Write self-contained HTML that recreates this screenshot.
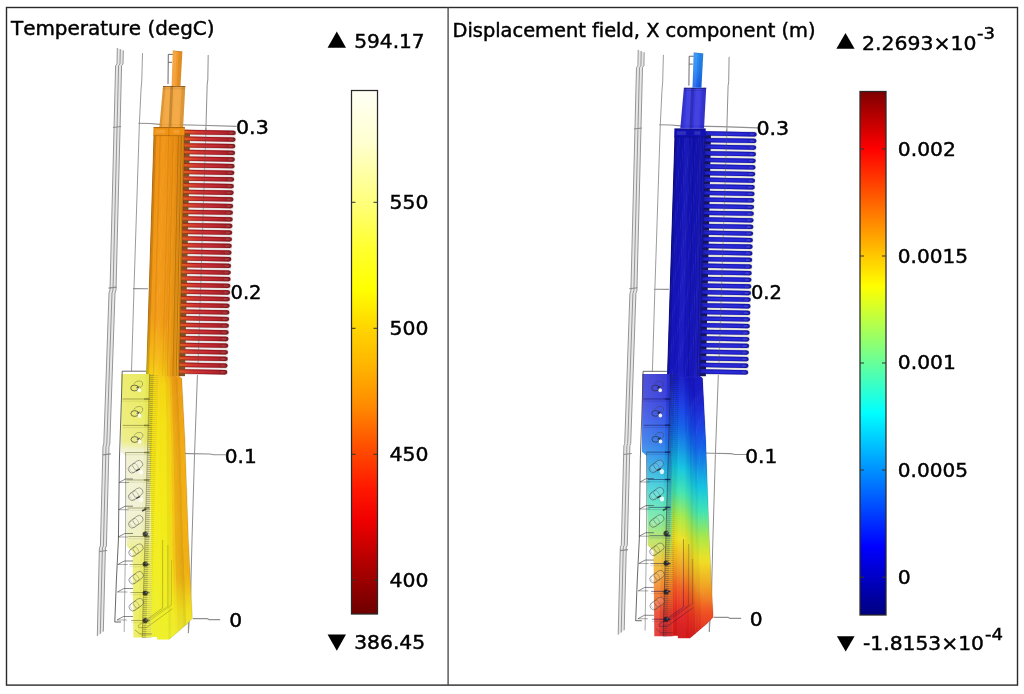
<!DOCTYPE html>
<html><head><meta charset="utf-8"><title>COMSOL plot</title>
<style>html,body{margin:0;padding:0;background:#fff;}svg{display:block;}text{font-kerning:none;font-variant-ligatures:none;font-feature-settings:"kern" 0,"liga" 0,"clig" 0;}</style>
</head><body><svg width="1024" height="694" viewBox="0 0 1024 694" font-family="'DejaVu Sans', 'Liberation Sans', sans-serif" fill="#000">
<defs><linearGradient id="Tcol" gradientUnits="userSpaceOnUse" x1="0" y1="127" x2="0" y2="640"><stop offset="0.0" stop-color="#f49a16"/><stop offset="0.48" stop-color="#f6a214"/><stop offset="0.58" stop-color="#f5b814"/><stop offset="0.66" stop-color="#f4cc14"/><stop offset="0.74" stop-color="#f2dc18"/><stop offset="0.84" stop-color="#f0e820"/><stop offset="1" stop-color="#eef02c"/></linearGradient><linearGradient id="Tlow" gradientUnits="userSpaceOnUse" x1="230" y1="87" x2="130" y2="665"><stop offset="0.0" stop-color="#f49a16"/><stop offset="0.48" stop-color="#f6a214"/><stop offset="0.58" stop-color="#f5b814"/><stop offset="0.66" stop-color="#f4cc14"/><stop offset="0.74" stop-color="#f2dc18"/><stop offset="0.84" stop-color="#f0e820"/><stop offset="1" stop-color="#eef02c"/></linearGradient><linearGradient id="TcolR" gradientUnits="userSpaceOnUse" x1="0" y1="127" x2="0" y2="640"><stop offset="0.0" stop-color="#ee9414"/><stop offset="0.5" stop-color="#f09c14"/><stop offset="0.65" stop-color="#f0a812"/><stop offset="0.78" stop-color="#f0b810"/><stop offset="0.88" stop-color="#f0d818"/><stop offset="1" stop-color="#f0ec28"/></linearGradient><linearGradient id="Trod" gradientUnits="userSpaceOnUse" x1="0" y1="50" x2="0" y2="127"><stop offset="0" stop-color="#f39a2c"/><stop offset="1" stop-color="#f29826"/></linearGradient><linearGradient id="Tbrk" gradientUnits="userSpaceOnUse" x1="0" y1="372" x2="0" y2="638"><stop offset="0" stop-color="#e8e850"/><stop offset="0.17" stop-color="#eaea5c"/><stop offset="0.26" stop-color="#eaea74"/><stop offset="0.295" stop-color="#efefc8"/><stop offset="0.52" stop-color="#f0f0d0"/><stop offset="0.62" stop-color="#eeeeb8"/><stop offset="0.665" stop-color="#ecec78"/><stop offset="0.8" stop-color="#ecec5c"/><stop offset="1" stop-color="#ecec50"/></linearGradient><linearGradient id="Tfin" x1="0" y1="0" x2="1" y2="0"><stop offset="0" stop-color="#dc661e"/><stop offset="0.09" stop-color="#de5822"/><stop offset="0.16" stop-color="#da4a2c"/><stop offset="0.3" stop-color="#d23632"/><stop offset="0.55" stop-color="#c42c34"/><stop offset="0.8" stop-color="#b0242c"/><stop offset="1" stop-color="#801a20"/></linearGradient><clipPath id="Tclip"><polygon points="153.79,127 184.66,127 179.13,376 181.8,378 185,440 188.5,540 192.4,618.5 186,625 169,639.5 157,639.5 157,637 137.98,637" /></clipPath><linearGradient id="Ts0" gradientUnits="userSpaceOnUse" x1="0" y1="120" x2="0" y2="648"><stop offset="0.000" stop-color="#ce7e11"/><stop offset="0.011" stop-color="#ce7e11"/><stop offset="0.023" stop-color="#ce7e11"/><stop offset="0.034" stop-color="#ce7e11"/><stop offset="0.045" stop-color="#ce7e11"/><stop offset="0.057" stop-color="#ce7e11"/><stop offset="0.068" stop-color="#ce7f11"/><stop offset="0.080" stop-color="#ce7f11"/><stop offset="0.091" stop-color="#cf7f12"/><stop offset="0.102" stop-color="#cf7f12"/><stop offset="0.114" stop-color="#cf8012"/><stop offset="0.125" stop-color="#cf8012"/><stop offset="0.136" stop-color="#cf8012"/><stop offset="0.148" stop-color="#cf8012"/><stop offset="0.159" stop-color="#cf8112"/><stop offset="0.170" stop-color="#cf8112"/><stop offset="0.182" stop-color="#cf8112"/><stop offset="0.193" stop-color="#cf8112"/><stop offset="0.205" stop-color="#cf8112"/><stop offset="0.216" stop-color="#cf8212"/><stop offset="0.227" stop-color="#cf8212"/><stop offset="0.239" stop-color="#cf8212"/><stop offset="0.250" stop-color="#cf8212"/><stop offset="0.261" stop-color="#cf8312"/><stop offset="0.273" stop-color="#cf8312"/><stop offset="0.284" stop-color="#d08313"/><stop offset="0.295" stop-color="#d08313"/><stop offset="0.307" stop-color="#d08413"/><stop offset="0.318" stop-color="#d08413"/><stop offset="0.330" stop-color="#d08413"/><stop offset="0.341" stop-color="#d08413"/><stop offset="0.352" stop-color="#d08413"/><stop offset="0.364" stop-color="#d08413"/><stop offset="0.375" stop-color="#d08813"/><stop offset="0.386" stop-color="#d18c12"/><stop offset="0.398" stop-color="#d19012"/><stop offset="0.409" stop-color="#d29412"/><stop offset="0.420" stop-color="#d29712"/><stop offset="0.432" stop-color="#d39c11"/><stop offset="0.443" stop-color="#d3a011"/><stop offset="0.455" stop-color="#d3a511"/><stop offset="0.466" stop-color="#d3ab11"/><stop offset="0.477" stop-color="#d3b111"/><stop offset="0.489" stop-color="#d3b611"/><stop offset="0.500" stop-color="#d3b811"/><stop offset="0.511" stop-color="#d3ba11"/><stop offset="0.523" stop-color="#d3bb11"/><stop offset="0.534" stop-color="#d3bd11"/><stop offset="0.545" stop-color="#d3bf11"/><stop offset="0.557" stop-color="#d3c111"/><stop offset="0.568" stop-color="#d3c211"/><stop offset="0.580" stop-color="#d3c211"/><stop offset="0.591" stop-color="#d3c211"/><stop offset="0.602" stop-color="#d3c312"/><stop offset="0.614" stop-color="#d3c412"/><stop offset="0.625" stop-color="#d3c512"/><stop offset="0.636" stop-color="#d2c512"/><stop offset="0.648" stop-color="#d2c612"/><stop offset="0.659" stop-color="#d2c712"/><stop offset="0.670" stop-color="#d2c813"/><stop offset="0.682" stop-color="#d2c813"/><stop offset="0.693" stop-color="#d2c813"/><stop offset="0.705" stop-color="#d2c913"/><stop offset="0.716" stop-color="#d2c914"/><stop offset="0.727" stop-color="#d2c914"/><stop offset="0.739" stop-color="#d1ca15"/><stop offset="0.750" stop-color="#d1ca16"/><stop offset="0.761" stop-color="#d1ca16"/><stop offset="0.773" stop-color="#d1ca16"/><stop offset="0.784" stop-color="#d0cb17"/><stop offset="0.795" stop-color="#d0cb18"/><stop offset="0.807" stop-color="#d0cb18"/><stop offset="0.818" stop-color="#d0cb19"/><stop offset="0.830" stop-color="#cfcc1a"/><stop offset="0.841" stop-color="#cfcc1b"/><stop offset="0.852" stop-color="#cfcc1b"/><stop offset="0.864" stop-color="#cfcc1c"/><stop offset="0.875" stop-color="#cecd1c"/><stop offset="0.886" stop-color="#cecd1c"/><stop offset="0.898" stop-color="#cecd1d"/><stop offset="0.909" stop-color="#cecd1e"/><stop offset="0.920" stop-color="#cece1f"/><stop offset="0.932" stop-color="#cece20"/><stop offset="0.943" stop-color="#cece22"/><stop offset="0.955" stop-color="#cece22"/><stop offset="0.966" stop-color="#cdce23"/><stop offset="0.977" stop-color="#cdce24"/><stop offset="0.989" stop-color="#cdce24"/><stop offset="1.000" stop-color="#cdce24"/></linearGradient><linearGradient id="Ts1" gradientUnits="userSpaceOnUse" x1="0" y1="120" x2="0" y2="648"><stop offset="0.000" stop-color="#e28913"/><stop offset="0.011" stop-color="#e28913"/><stop offset="0.023" stop-color="#e28913"/><stop offset="0.034" stop-color="#e28a13"/><stop offset="0.045" stop-color="#e28a13"/><stop offset="0.057" stop-color="#e28a13"/><stop offset="0.068" stop-color="#e28a13"/><stop offset="0.080" stop-color="#e28b13"/><stop offset="0.091" stop-color="#e28b13"/><stop offset="0.102" stop-color="#e38b14"/><stop offset="0.114" stop-color="#e38b14"/><stop offset="0.125" stop-color="#e38c14"/><stop offset="0.136" stop-color="#e38c14"/><stop offset="0.148" stop-color="#e38c14"/><stop offset="0.159" stop-color="#e38c14"/><stop offset="0.170" stop-color="#e38d14"/><stop offset="0.182" stop-color="#e38d14"/><stop offset="0.193" stop-color="#e38d14"/><stop offset="0.205" stop-color="#e38d14"/><stop offset="0.216" stop-color="#e38e14"/><stop offset="0.227" stop-color="#e38e14"/><stop offset="0.239" stop-color="#e38e14"/><stop offset="0.250" stop-color="#e38e14"/><stop offset="0.261" stop-color="#e38f14"/><stop offset="0.273" stop-color="#e38f14"/><stop offset="0.284" stop-color="#e38f15"/><stop offset="0.295" stop-color="#e38f15"/><stop offset="0.307" stop-color="#e39015"/><stop offset="0.318" stop-color="#e39015"/><stop offset="0.330" stop-color="#e39015"/><stop offset="0.341" stop-color="#e39015"/><stop offset="0.352" stop-color="#e39115"/><stop offset="0.364" stop-color="#e39115"/><stop offset="0.375" stop-color="#e39515"/><stop offset="0.386" stop-color="#e49814"/><stop offset="0.398" stop-color="#e49c14"/><stop offset="0.409" stop-color="#e5a114"/><stop offset="0.420" stop-color="#e5a514"/><stop offset="0.432" stop-color="#e6a913"/><stop offset="0.443" stop-color="#e6ae13"/><stop offset="0.455" stop-color="#e6b413"/><stop offset="0.466" stop-color="#e6ba13"/><stop offset="0.477" stop-color="#e6c113"/><stop offset="0.489" stop-color="#e6c713"/><stop offset="0.500" stop-color="#e6c913"/><stop offset="0.511" stop-color="#e6cb13"/><stop offset="0.523" stop-color="#e6cd13"/><stop offset="0.534" stop-color="#e6cf13"/><stop offset="0.545" stop-color="#e6d113"/><stop offset="0.557" stop-color="#e6d313"/><stop offset="0.568" stop-color="#e6d413"/><stop offset="0.580" stop-color="#e6d413"/><stop offset="0.591" stop-color="#e6d413"/><stop offset="0.602" stop-color="#e6d514"/><stop offset="0.614" stop-color="#e6d614"/><stop offset="0.625" stop-color="#e6d714"/><stop offset="0.636" stop-color="#e5d714"/><stop offset="0.648" stop-color="#e5d814"/><stop offset="0.659" stop-color="#e5d914"/><stop offset="0.670" stop-color="#e5da15"/><stop offset="0.682" stop-color="#e5da15"/><stop offset="0.693" stop-color="#e5db15"/><stop offset="0.705" stop-color="#e5dc15"/><stop offset="0.716" stop-color="#e5dc16"/><stop offset="0.727" stop-color="#e5dc16"/><stop offset="0.739" stop-color="#e4dd17"/><stop offset="0.750" stop-color="#e4dd18"/><stop offset="0.761" stop-color="#e4dd18"/><stop offset="0.773" stop-color="#e4dd18"/><stop offset="0.784" stop-color="#e3de19"/><stop offset="0.795" stop-color="#e3de1a"/><stop offset="0.807" stop-color="#e3de1a"/><stop offset="0.818" stop-color="#e3de1b"/><stop offset="0.830" stop-color="#e3df1c"/><stop offset="0.841" stop-color="#e3df1c"/><stop offset="0.852" stop-color="#e3df1d"/><stop offset="0.864" stop-color="#e3df1e"/><stop offset="0.875" stop-color="#e2e01f"/><stop offset="0.886" stop-color="#e2e01f"/><stop offset="0.898" stop-color="#e2e020"/><stop offset="0.909" stop-color="#e2e021"/><stop offset="0.920" stop-color="#e1e122"/><stop offset="0.932" stop-color="#e1e123"/><stop offset="0.943" stop-color="#e1e124"/><stop offset="0.955" stop-color="#e1e125"/><stop offset="0.966" stop-color="#e0e227"/><stop offset="0.977" stop-color="#e0e227"/><stop offset="0.989" stop-color="#e0e227"/><stop offset="1.000" stop-color="#e0e227"/></linearGradient><linearGradient id="Ts2" gradientUnits="userSpaceOnUse" x1="0" y1="120" x2="0" y2="648"><stop offset="0.000" stop-color="#f09214"/><stop offset="0.011" stop-color="#f09214"/><stop offset="0.023" stop-color="#f09214"/><stop offset="0.034" stop-color="#f09314"/><stop offset="0.045" stop-color="#f09314"/><stop offset="0.057" stop-color="#f09314"/><stop offset="0.068" stop-color="#f09314"/><stop offset="0.080" stop-color="#f09414"/><stop offset="0.091" stop-color="#f09414"/><stop offset="0.102" stop-color="#f19415"/><stop offset="0.114" stop-color="#f19415"/><stop offset="0.125" stop-color="#f19515"/><stop offset="0.136" stop-color="#f19515"/><stop offset="0.148" stop-color="#f19515"/><stop offset="0.159" stop-color="#f19515"/><stop offset="0.170" stop-color="#f19615"/><stop offset="0.182" stop-color="#f19615"/><stop offset="0.193" stop-color="#f19615"/><stop offset="0.205" stop-color="#f19615"/><stop offset="0.216" stop-color="#f19715"/><stop offset="0.227" stop-color="#f19715"/><stop offset="0.239" stop-color="#f19715"/><stop offset="0.250" stop-color="#f19715"/><stop offset="0.261" stop-color="#f19815"/><stop offset="0.273" stop-color="#f19815"/><stop offset="0.284" stop-color="#f29816"/><stop offset="0.295" stop-color="#f29816"/><stop offset="0.307" stop-color="#f29916"/><stop offset="0.318" stop-color="#f29916"/><stop offset="0.330" stop-color="#f29916"/><stop offset="0.341" stop-color="#f29916"/><stop offset="0.352" stop-color="#f29a16"/><stop offset="0.364" stop-color="#f29a16"/><stop offset="0.375" stop-color="#f29d16"/><stop offset="0.386" stop-color="#f3a116"/><stop offset="0.398" stop-color="#f3a615"/><stop offset="0.409" stop-color="#f4aa15"/><stop offset="0.420" stop-color="#f4af15"/><stop offset="0.432" stop-color="#f5b314"/><stop offset="0.443" stop-color="#f5b814"/><stop offset="0.455" stop-color="#f5be14"/><stop offset="0.466" stop-color="#f5c514"/><stop offset="0.477" stop-color="#f5cc14"/><stop offset="0.489" stop-color="#f5d314"/><stop offset="0.500" stop-color="#f5d614"/><stop offset="0.511" stop-color="#f5d814"/><stop offset="0.523" stop-color="#f5da14"/><stop offset="0.534" stop-color="#f5dc14"/><stop offset="0.545" stop-color="#f5de14"/><stop offset="0.557" stop-color="#f5e014"/><stop offset="0.568" stop-color="#f5e114"/><stop offset="0.580" stop-color="#f5e114"/><stop offset="0.591" stop-color="#f5e214"/><stop offset="0.602" stop-color="#f5e315"/><stop offset="0.614" stop-color="#f5e415"/><stop offset="0.625" stop-color="#f5e415"/><stop offset="0.636" stop-color="#f4e515"/><stop offset="0.648" stop-color="#f4e615"/><stop offset="0.659" stop-color="#f4e715"/><stop offset="0.670" stop-color="#f4e715"/><stop offset="0.682" stop-color="#f4e816"/><stop offset="0.693" stop-color="#f4e916"/><stop offset="0.705" stop-color="#f4ea16"/><stop offset="0.716" stop-color="#f4ea16"/><stop offset="0.727" stop-color="#f4ea17"/><stop offset="0.739" stop-color="#f3eb18"/><stop offset="0.750" stop-color="#f3eb19"/><stop offset="0.761" stop-color="#f3eb19"/><stop offset="0.773" stop-color="#f3eb1a"/><stop offset="0.784" stop-color="#f2ec1b"/><stop offset="0.795" stop-color="#f2ec1b"/><stop offset="0.807" stop-color="#f2ec1c"/><stop offset="0.818" stop-color="#f2ec1d"/><stop offset="0.830" stop-color="#f1ed1e"/><stop offset="0.841" stop-color="#f1ed1e"/><stop offset="0.852" stop-color="#f1ed1f"/><stop offset="0.864" stop-color="#f1ed20"/><stop offset="0.875" stop-color="#f0ee21"/><stop offset="0.886" stop-color="#f0ee21"/><stop offset="0.898" stop-color="#f0ee22"/><stop offset="0.909" stop-color="#f0ee23"/><stop offset="0.920" stop-color="#efef24"/><stop offset="0.932" stop-color="#efef25"/><stop offset="0.943" stop-color="#efef26"/><stop offset="0.955" stop-color="#efef27"/><stop offset="0.966" stop-color="#eef028"/><stop offset="0.977" stop-color="#eef029"/><stop offset="0.989" stop-color="#eef02a"/><stop offset="1.000" stop-color="#eef02a"/></linearGradient><linearGradient id="Ts3" gradientUnits="userSpaceOnUse" x1="0" y1="120" x2="0" y2="648"><stop offset="0.000" stop-color="#f09214"/><stop offset="0.011" stop-color="#f09214"/><stop offset="0.023" stop-color="#f09214"/><stop offset="0.034" stop-color="#f09314"/><stop offset="0.045" stop-color="#f09314"/><stop offset="0.057" stop-color="#f09314"/><stop offset="0.068" stop-color="#f09314"/><stop offset="0.080" stop-color="#f09414"/><stop offset="0.091" stop-color="#f09414"/><stop offset="0.102" stop-color="#f19415"/><stop offset="0.114" stop-color="#f19415"/><stop offset="0.125" stop-color="#f19515"/><stop offset="0.136" stop-color="#f19515"/><stop offset="0.148" stop-color="#f19515"/><stop offset="0.159" stop-color="#f19515"/><stop offset="0.170" stop-color="#f19615"/><stop offset="0.182" stop-color="#f19615"/><stop offset="0.193" stop-color="#f19615"/><stop offset="0.205" stop-color="#f19615"/><stop offset="0.216" stop-color="#f19715"/><stop offset="0.227" stop-color="#f19715"/><stop offset="0.239" stop-color="#f19715"/><stop offset="0.250" stop-color="#f19715"/><stop offset="0.261" stop-color="#f19815"/><stop offset="0.273" stop-color="#f19815"/><stop offset="0.284" stop-color="#f29816"/><stop offset="0.295" stop-color="#f29816"/><stop offset="0.307" stop-color="#f29916"/><stop offset="0.318" stop-color="#f29916"/><stop offset="0.330" stop-color="#f29916"/><stop offset="0.341" stop-color="#f29916"/><stop offset="0.352" stop-color="#f29a16"/><stop offset="0.364" stop-color="#f29a16"/><stop offset="0.375" stop-color="#f29c16"/><stop offset="0.386" stop-color="#f3a116"/><stop offset="0.398" stop-color="#f3a515"/><stop offset="0.409" stop-color="#f4aa15"/><stop offset="0.420" stop-color="#f4ae15"/><stop offset="0.432" stop-color="#f4b314"/><stop offset="0.443" stop-color="#f5b714"/><stop offset="0.455" stop-color="#f5bd14"/><stop offset="0.466" stop-color="#f5c414"/><stop offset="0.477" stop-color="#f5cb14"/><stop offset="0.489" stop-color="#f5d214"/><stop offset="0.500" stop-color="#f5d514"/><stop offset="0.511" stop-color="#f5d714"/><stop offset="0.523" stop-color="#f5d914"/><stop offset="0.534" stop-color="#f5dc14"/><stop offset="0.545" stop-color="#f5de14"/><stop offset="0.557" stop-color="#f5e014"/><stop offset="0.568" stop-color="#f5e114"/><stop offset="0.580" stop-color="#f5e114"/><stop offset="0.591" stop-color="#f5e214"/><stop offset="0.602" stop-color="#f5e315"/><stop offset="0.614" stop-color="#f5e415"/><stop offset="0.625" stop-color="#f5e415"/><stop offset="0.636" stop-color="#f4e515"/><stop offset="0.648" stop-color="#f4e615"/><stop offset="0.659" stop-color="#f4e715"/><stop offset="0.670" stop-color="#f4e715"/><stop offset="0.682" stop-color="#f4e816"/><stop offset="0.693" stop-color="#f4e916"/><stop offset="0.705" stop-color="#f4ea16"/><stop offset="0.716" stop-color="#f4ea16"/><stop offset="0.727" stop-color="#f4ea17"/><stop offset="0.739" stop-color="#f3eb18"/><stop offset="0.750" stop-color="#f3eb19"/><stop offset="0.761" stop-color="#f3eb19"/><stop offset="0.773" stop-color="#f3eb1a"/><stop offset="0.784" stop-color="#f2ec1b"/><stop offset="0.795" stop-color="#f2ec1b"/><stop offset="0.807" stop-color="#f2ec1c"/><stop offset="0.818" stop-color="#f2ec1d"/><stop offset="0.830" stop-color="#f1ed1e"/><stop offset="0.841" stop-color="#f1ed1e"/><stop offset="0.852" stop-color="#f1ed1f"/><stop offset="0.864" stop-color="#f1ed20"/><stop offset="0.875" stop-color="#f1ed20"/><stop offset="0.886" stop-color="#f0ee21"/><stop offset="0.898" stop-color="#f0ee22"/><stop offset="0.909" stop-color="#f0ee23"/><stop offset="0.920" stop-color="#f0ee24"/><stop offset="0.932" stop-color="#efef25"/><stop offset="0.943" stop-color="#efef26"/><stop offset="0.955" stop-color="#efef27"/><stop offset="0.966" stop-color="#eef028"/><stop offset="0.977" stop-color="#eef029"/><stop offset="0.989" stop-color="#eef02a"/><stop offset="1.000" stop-color="#eef02a"/></linearGradient><linearGradient id="Ts4" gradientUnits="userSpaceOnUse" x1="0" y1="120" x2="0" y2="648"><stop offset="0.000" stop-color="#f09214"/><stop offset="0.011" stop-color="#f09214"/><stop offset="0.023" stop-color="#f09214"/><stop offset="0.034" stop-color="#f09314"/><stop offset="0.045" stop-color="#f09314"/><stop offset="0.057" stop-color="#f09314"/><stop offset="0.068" stop-color="#f09314"/><stop offset="0.080" stop-color="#f09414"/><stop offset="0.091" stop-color="#f09414"/><stop offset="0.102" stop-color="#f19415"/><stop offset="0.114" stop-color="#f19415"/><stop offset="0.125" stop-color="#f19515"/><stop offset="0.136" stop-color="#f19515"/><stop offset="0.148" stop-color="#f19515"/><stop offset="0.159" stop-color="#f19515"/><stop offset="0.170" stop-color="#f19615"/><stop offset="0.182" stop-color="#f19615"/><stop offset="0.193" stop-color="#f19615"/><stop offset="0.205" stop-color="#f19615"/><stop offset="0.216" stop-color="#f19715"/><stop offset="0.227" stop-color="#f19715"/><stop offset="0.239" stop-color="#f19715"/><stop offset="0.250" stop-color="#f19715"/><stop offset="0.261" stop-color="#f19815"/><stop offset="0.273" stop-color="#f19815"/><stop offset="0.284" stop-color="#f29816"/><stop offset="0.295" stop-color="#f29816"/><stop offset="0.307" stop-color="#f29916"/><stop offset="0.318" stop-color="#f29916"/><stop offset="0.330" stop-color="#f29916"/><stop offset="0.341" stop-color="#f29916"/><stop offset="0.352" stop-color="#f29a16"/><stop offset="0.364" stop-color="#f29a16"/><stop offset="0.375" stop-color="#f29c16"/><stop offset="0.386" stop-color="#f3a016"/><stop offset="0.398" stop-color="#f3a415"/><stop offset="0.409" stop-color="#f4a915"/><stop offset="0.420" stop-color="#f4ae15"/><stop offset="0.432" stop-color="#f4b214"/><stop offset="0.443" stop-color="#f5b614"/><stop offset="0.455" stop-color="#f5bc14"/><stop offset="0.466" stop-color="#f5c314"/><stop offset="0.477" stop-color="#f5ca14"/><stop offset="0.489" stop-color="#f5d114"/><stop offset="0.500" stop-color="#f5d514"/><stop offset="0.511" stop-color="#f5d714"/><stop offset="0.523" stop-color="#f5d914"/><stop offset="0.534" stop-color="#f5db14"/><stop offset="0.545" stop-color="#f5dd14"/><stop offset="0.557" stop-color="#f5df14"/><stop offset="0.568" stop-color="#f5e014"/><stop offset="0.580" stop-color="#f5e114"/><stop offset="0.591" stop-color="#f5e214"/><stop offset="0.602" stop-color="#f5e315"/><stop offset="0.614" stop-color="#f5e415"/><stop offset="0.625" stop-color="#f5e415"/><stop offset="0.636" stop-color="#f4e515"/><stop offset="0.648" stop-color="#f4e615"/><stop offset="0.659" stop-color="#f4e615"/><stop offset="0.670" stop-color="#f4e715"/><stop offset="0.682" stop-color="#f4e816"/><stop offset="0.693" stop-color="#f4e916"/><stop offset="0.705" stop-color="#f4ea16"/><stop offset="0.716" stop-color="#f4ea16"/><stop offset="0.727" stop-color="#f4ea17"/><stop offset="0.739" stop-color="#f3eb18"/><stop offset="0.750" stop-color="#f3eb18"/><stop offset="0.761" stop-color="#f3eb19"/><stop offset="0.773" stop-color="#f3eb1a"/><stop offset="0.784" stop-color="#f2ec1b"/><stop offset="0.795" stop-color="#f2ec1b"/><stop offset="0.807" stop-color="#f2ec1c"/><stop offset="0.818" stop-color="#f2ec1d"/><stop offset="0.830" stop-color="#f2ec1d"/><stop offset="0.841" stop-color="#f1ed1e"/><stop offset="0.852" stop-color="#f1ed1f"/><stop offset="0.864" stop-color="#f1ed20"/><stop offset="0.875" stop-color="#f1ed20"/><stop offset="0.886" stop-color="#f0ee21"/><stop offset="0.898" stop-color="#f0ee22"/><stop offset="0.909" stop-color="#f0ee23"/><stop offset="0.920" stop-color="#f0ee24"/><stop offset="0.932" stop-color="#efef25"/><stop offset="0.943" stop-color="#efef26"/><stop offset="0.955" stop-color="#efef27"/><stop offset="0.966" stop-color="#eef028"/><stop offset="0.977" stop-color="#eef029"/><stop offset="0.989" stop-color="#eef02a"/><stop offset="1.000" stop-color="#eef02a"/></linearGradient><linearGradient id="Ts5" gradientUnits="userSpaceOnUse" x1="0" y1="120" x2="0" y2="648"><stop offset="0.000" stop-color="#f0951b"/><stop offset="0.011" stop-color="#f0951b"/><stop offset="0.023" stop-color="#f0951b"/><stop offset="0.034" stop-color="#f0961b"/><stop offset="0.045" stop-color="#f0961b"/><stop offset="0.057" stop-color="#f0961b"/><stop offset="0.068" stop-color="#f0961b"/><stop offset="0.080" stop-color="#f0971b"/><stop offset="0.091" stop-color="#f0971b"/><stop offset="0.102" stop-color="#f1971c"/><stop offset="0.114" stop-color="#f1971c"/><stop offset="0.125" stop-color="#f1981c"/><stop offset="0.136" stop-color="#f1981c"/><stop offset="0.148" stop-color="#f1981c"/><stop offset="0.159" stop-color="#f1981c"/><stop offset="0.170" stop-color="#f1991c"/><stop offset="0.182" stop-color="#f1991c"/><stop offset="0.193" stop-color="#f1991c"/><stop offset="0.205" stop-color="#f1991c"/><stop offset="0.216" stop-color="#f19a1c"/><stop offset="0.227" stop-color="#f19a1c"/><stop offset="0.239" stop-color="#f19a1c"/><stop offset="0.250" stop-color="#f19a1c"/><stop offset="0.261" stop-color="#f19b1c"/><stop offset="0.273" stop-color="#f19b1c"/><stop offset="0.284" stop-color="#f29b1d"/><stop offset="0.295" stop-color="#f29b1d"/><stop offset="0.307" stop-color="#f29c1d"/><stop offset="0.318" stop-color="#f29c1d"/><stop offset="0.330" stop-color="#f29c1d"/><stop offset="0.341" stop-color="#f29c1d"/><stop offset="0.352" stop-color="#f29d1d"/><stop offset="0.364" stop-color="#f29d1d"/><stop offset="0.375" stop-color="#f29e1d"/><stop offset="0.386" stop-color="#f3a21d"/><stop offset="0.398" stop-color="#f3a71c"/><stop offset="0.409" stop-color="#f3ab1c"/><stop offset="0.420" stop-color="#f4af1c"/><stop offset="0.432" stop-color="#f4b31b"/><stop offset="0.443" stop-color="#f5b81b"/><stop offset="0.455" stop-color="#f5bd1b"/><stop offset="0.466" stop-color="#f5c41b"/><stop offset="0.477" stop-color="#f5cb1b"/><stop offset="0.489" stop-color="#f5d11b"/><stop offset="0.500" stop-color="#f5d61b"/><stop offset="0.511" stop-color="#f5d81b"/><stop offset="0.523" stop-color="#f5da1b"/><stop offset="0.534" stop-color="#f5dc1b"/><stop offset="0.545" stop-color="#f5de1b"/><stop offset="0.557" stop-color="#f5e01b"/><stop offset="0.568" stop-color="#f5e11b"/><stop offset="0.580" stop-color="#f5e21b"/><stop offset="0.591" stop-color="#f5e31b"/><stop offset="0.602" stop-color="#f5e41c"/><stop offset="0.614" stop-color="#f5e41c"/><stop offset="0.625" stop-color="#f5e51c"/><stop offset="0.636" stop-color="#f5e61c"/><stop offset="0.648" stop-color="#f4e71c"/><stop offset="0.659" stop-color="#f4e71c"/><stop offset="0.670" stop-color="#f4e81c"/><stop offset="0.682" stop-color="#f4e91d"/><stop offset="0.693" stop-color="#f4ea1d"/><stop offset="0.705" stop-color="#f4ea1d"/><stop offset="0.716" stop-color="#f4eb1d"/><stop offset="0.727" stop-color="#f4eb1e"/><stop offset="0.739" stop-color="#f3ec1f"/><stop offset="0.750" stop-color="#f3ec1f"/><stop offset="0.761" stop-color="#f3ec20"/><stop offset="0.773" stop-color="#f3ec21"/><stop offset="0.784" stop-color="#f3ec21"/><stop offset="0.795" stop-color="#f2ed22"/><stop offset="0.807" stop-color="#f2ed23"/><stop offset="0.818" stop-color="#f2ed24"/><stop offset="0.830" stop-color="#f2ed24"/><stop offset="0.841" stop-color="#f1ee25"/><stop offset="0.852" stop-color="#f1ee26"/><stop offset="0.864" stop-color="#f1ee26"/><stop offset="0.875" stop-color="#f1ee27"/><stop offset="0.886" stop-color="#f0ef28"/><stop offset="0.898" stop-color="#f0ef29"/><stop offset="0.909" stop-color="#f0ef2a"/><stop offset="0.920" stop-color="#f0ef2b"/><stop offset="0.932" stop-color="#efef2c"/><stop offset="0.943" stop-color="#efef2d"/><stop offset="0.955" stop-color="#efef2d"/><stop offset="0.966" stop-color="#efef2e"/><stop offset="0.977" stop-color="#eff02f"/><stop offset="0.989" stop-color="#eff030"/><stop offset="1.000" stop-color="#eff030"/></linearGradient><linearGradient id="Ts6" gradientUnits="userSpaceOnUse" x1="0" y1="120" x2="0" y2="648"><stop offset="0.000" stop-color="#f0951b"/><stop offset="0.011" stop-color="#f0951b"/><stop offset="0.023" stop-color="#f0951b"/><stop offset="0.034" stop-color="#f0961b"/><stop offset="0.045" stop-color="#f0961b"/><stop offset="0.057" stop-color="#f0961b"/><stop offset="0.068" stop-color="#f0961b"/><stop offset="0.080" stop-color="#f0971b"/><stop offset="0.091" stop-color="#f0971b"/><stop offset="0.102" stop-color="#f1971c"/><stop offset="0.114" stop-color="#f1971c"/><stop offset="0.125" stop-color="#f1981c"/><stop offset="0.136" stop-color="#f1981c"/><stop offset="0.148" stop-color="#f1981c"/><stop offset="0.159" stop-color="#f1981c"/><stop offset="0.170" stop-color="#f1991c"/><stop offset="0.182" stop-color="#f1991c"/><stop offset="0.193" stop-color="#f1991c"/><stop offset="0.205" stop-color="#f1991c"/><stop offset="0.216" stop-color="#f19a1c"/><stop offset="0.227" stop-color="#f19a1c"/><stop offset="0.239" stop-color="#f19a1c"/><stop offset="0.250" stop-color="#f19a1c"/><stop offset="0.261" stop-color="#f19b1c"/><stop offset="0.273" stop-color="#f19b1c"/><stop offset="0.284" stop-color="#f29b1d"/><stop offset="0.295" stop-color="#f29b1d"/><stop offset="0.307" stop-color="#f29c1d"/><stop offset="0.318" stop-color="#f29c1d"/><stop offset="0.330" stop-color="#f29c1d"/><stop offset="0.341" stop-color="#f29c1d"/><stop offset="0.352" stop-color="#f29d1d"/><stop offset="0.364" stop-color="#f29d1d"/><stop offset="0.375" stop-color="#f29d1d"/><stop offset="0.386" stop-color="#f2a21d"/><stop offset="0.398" stop-color="#f3a61c"/><stop offset="0.409" stop-color="#f3ab1c"/><stop offset="0.420" stop-color="#f4ae1c"/><stop offset="0.432" stop-color="#f4b31b"/><stop offset="0.443" stop-color="#f5b71b"/><stop offset="0.455" stop-color="#f5bc1b"/><stop offset="0.466" stop-color="#f5c31b"/><stop offset="0.477" stop-color="#f5ca1b"/><stop offset="0.489" stop-color="#f5d01b"/><stop offset="0.500" stop-color="#f5d51b"/><stop offset="0.511" stop-color="#f5d71b"/><stop offset="0.523" stop-color="#f5da1b"/><stop offset="0.534" stop-color="#f5dc1b"/><stop offset="0.545" stop-color="#f5de1b"/><stop offset="0.557" stop-color="#f5e01b"/><stop offset="0.568" stop-color="#f5e11b"/><stop offset="0.580" stop-color="#f5e21b"/><stop offset="0.591" stop-color="#f5e31b"/><stop offset="0.602" stop-color="#f5e41c"/><stop offset="0.614" stop-color="#f5e41c"/><stop offset="0.625" stop-color="#f5e51c"/><stop offset="0.636" stop-color="#f5e61c"/><stop offset="0.648" stop-color="#f4e71c"/><stop offset="0.659" stop-color="#f4e71c"/><stop offset="0.670" stop-color="#f4e81c"/><stop offset="0.682" stop-color="#f4e91d"/><stop offset="0.693" stop-color="#f4ea1d"/><stop offset="0.705" stop-color="#f4ea1d"/><stop offset="0.716" stop-color="#f4eb1d"/><stop offset="0.727" stop-color="#f4eb1e"/><stop offset="0.739" stop-color="#f4eb1e"/><stop offset="0.750" stop-color="#f3ec1f"/><stop offset="0.761" stop-color="#f3ec20"/><stop offset="0.773" stop-color="#f3ec21"/><stop offset="0.784" stop-color="#f3ec21"/><stop offset="0.795" stop-color="#f2ed22"/><stop offset="0.807" stop-color="#f2ed23"/><stop offset="0.818" stop-color="#f2ed24"/><stop offset="0.830" stop-color="#f2ed24"/><stop offset="0.841" stop-color="#f1ee25"/><stop offset="0.852" stop-color="#f1ee26"/><stop offset="0.864" stop-color="#f1ee26"/><stop offset="0.875" stop-color="#f1ee27"/><stop offset="0.886" stop-color="#f0ef28"/><stop offset="0.898" stop-color="#f0ef29"/><stop offset="0.909" stop-color="#f0ef29"/><stop offset="0.920" stop-color="#f0ef2a"/><stop offset="0.932" stop-color="#efef2c"/><stop offset="0.943" stop-color="#efef2d"/><stop offset="0.955" stop-color="#efef2d"/><stop offset="0.966" stop-color="#efef2e"/><stop offset="0.977" stop-color="#eff02f"/><stop offset="0.989" stop-color="#eff030"/><stop offset="1.000" stop-color="#eff030"/></linearGradient><linearGradient id="Ts7" gradientUnits="userSpaceOnUse" x1="0" y1="120" x2="0" y2="648"><stop offset="0.000" stop-color="#f09214"/><stop offset="0.011" stop-color="#f09214"/><stop offset="0.023" stop-color="#f09214"/><stop offset="0.034" stop-color="#f09314"/><stop offset="0.045" stop-color="#f09314"/><stop offset="0.057" stop-color="#f09314"/><stop offset="0.068" stop-color="#f09314"/><stop offset="0.080" stop-color="#f09414"/><stop offset="0.091" stop-color="#f09414"/><stop offset="0.102" stop-color="#f19415"/><stop offset="0.114" stop-color="#f19415"/><stop offset="0.125" stop-color="#f19515"/><stop offset="0.136" stop-color="#f19515"/><stop offset="0.148" stop-color="#f19515"/><stop offset="0.159" stop-color="#f19515"/><stop offset="0.170" stop-color="#f19515"/><stop offset="0.182" stop-color="#f19615"/><stop offset="0.193" stop-color="#f19615"/><stop offset="0.205" stop-color="#f19615"/><stop offset="0.216" stop-color="#f19615"/><stop offset="0.227" stop-color="#f19715"/><stop offset="0.239" stop-color="#f19715"/><stop offset="0.250" stop-color="#f19715"/><stop offset="0.261" stop-color="#f19715"/><stop offset="0.273" stop-color="#f19815"/><stop offset="0.284" stop-color="#f19815"/><stop offset="0.295" stop-color="#f29816"/><stop offset="0.307" stop-color="#f29816"/><stop offset="0.318" stop-color="#f29916"/><stop offset="0.330" stop-color="#f29916"/><stop offset="0.341" stop-color="#f29916"/><stop offset="0.352" stop-color="#f29916"/><stop offset="0.364" stop-color="#f29a16"/><stop offset="0.375" stop-color="#f29a16"/><stop offset="0.386" stop-color="#f29e16"/><stop offset="0.398" stop-color="#f3a215"/><stop offset="0.409" stop-color="#f3a715"/><stop offset="0.420" stop-color="#f4ac15"/><stop offset="0.432" stop-color="#f4b015"/><stop offset="0.443" stop-color="#f5b414"/><stop offset="0.455" stop-color="#f5b914"/><stop offset="0.466" stop-color="#f5c014"/><stop offset="0.477" stop-color="#f5c714"/><stop offset="0.489" stop-color="#f5ce14"/><stop offset="0.500" stop-color="#f5d414"/><stop offset="0.511" stop-color="#f5d614"/><stop offset="0.523" stop-color="#f5d814"/><stop offset="0.534" stop-color="#f5da14"/><stop offset="0.545" stop-color="#f5dc14"/><stop offset="0.557" stop-color="#f5de14"/><stop offset="0.568" stop-color="#f5e014"/><stop offset="0.580" stop-color="#f5e114"/><stop offset="0.591" stop-color="#f5e214"/><stop offset="0.602" stop-color="#f5e214"/><stop offset="0.614" stop-color="#f5e315"/><stop offset="0.625" stop-color="#f5e415"/><stop offset="0.636" stop-color="#f5e515"/><stop offset="0.648" stop-color="#f4e515"/><stop offset="0.659" stop-color="#f4e615"/><stop offset="0.670" stop-color="#f4e715"/><stop offset="0.682" stop-color="#f4e816"/><stop offset="0.693" stop-color="#f4e816"/><stop offset="0.705" stop-color="#f4e916"/><stop offset="0.716" stop-color="#f4ea16"/><stop offset="0.727" stop-color="#f4ea17"/><stop offset="0.739" stop-color="#f4ea17"/><stop offset="0.750" stop-color="#f3eb18"/><stop offset="0.761" stop-color="#f3eb19"/><stop offset="0.773" stop-color="#f3eb1a"/><stop offset="0.784" stop-color="#f3eb1a"/><stop offset="0.795" stop-color="#f2ec1b"/><stop offset="0.807" stop-color="#f2ec1c"/><stop offset="0.818" stop-color="#f2ec1c"/><stop offset="0.830" stop-color="#f2ec1d"/><stop offset="0.841" stop-color="#f1ed1e"/><stop offset="0.852" stop-color="#f1ed1f"/><stop offset="0.864" stop-color="#f1ed1f"/><stop offset="0.875" stop-color="#f1ed20"/><stop offset="0.886" stop-color="#f0ee21"/><stop offset="0.898" stop-color="#f0ee21"/><stop offset="0.909" stop-color="#f0ee22"/><stop offset="0.920" stop-color="#f0ee23"/><stop offset="0.932" stop-color="#efef24"/><stop offset="0.943" stop-color="#efef25"/><stop offset="0.955" stop-color="#efef27"/><stop offset="0.966" stop-color="#efef28"/><stop offset="0.977" stop-color="#eef029"/><stop offset="0.989" stop-color="#eef02a"/><stop offset="1.000" stop-color="#eef02a"/></linearGradient><linearGradient id="Ts8" gradientUnits="userSpaceOnUse" x1="0" y1="120" x2="0" y2="648"><stop offset="0.000" stop-color="#f09214"/><stop offset="0.011" stop-color="#f09214"/><stop offset="0.023" stop-color="#f09214"/><stop offset="0.034" stop-color="#f09214"/><stop offset="0.045" stop-color="#f09314"/><stop offset="0.057" stop-color="#f09314"/><stop offset="0.068" stop-color="#f09314"/><stop offset="0.080" stop-color="#f09314"/><stop offset="0.091" stop-color="#f09414"/><stop offset="0.102" stop-color="#f09414"/><stop offset="0.114" stop-color="#f19415"/><stop offset="0.125" stop-color="#f19415"/><stop offset="0.136" stop-color="#f19515"/><stop offset="0.148" stop-color="#f19515"/><stop offset="0.159" stop-color="#f19515"/><stop offset="0.170" stop-color="#f19515"/><stop offset="0.182" stop-color="#f19615"/><stop offset="0.193" stop-color="#f19615"/><stop offset="0.205" stop-color="#f19615"/><stop offset="0.216" stop-color="#f19615"/><stop offset="0.227" stop-color="#f19715"/><stop offset="0.239" stop-color="#f19715"/><stop offset="0.250" stop-color="#f19715"/><stop offset="0.261" stop-color="#f19715"/><stop offset="0.273" stop-color="#f19815"/><stop offset="0.284" stop-color="#f19815"/><stop offset="0.295" stop-color="#f29816"/><stop offset="0.307" stop-color="#f29816"/><stop offset="0.318" stop-color="#f29916"/><stop offset="0.330" stop-color="#f29916"/><stop offset="0.341" stop-color="#f29916"/><stop offset="0.352" stop-color="#f29916"/><stop offset="0.364" stop-color="#f29a16"/><stop offset="0.375" stop-color="#f29a16"/><stop offset="0.386" stop-color="#f29d16"/><stop offset="0.398" stop-color="#f3a215"/><stop offset="0.409" stop-color="#f3a615"/><stop offset="0.420" stop-color="#f4ab15"/><stop offset="0.432" stop-color="#f4af15"/><stop offset="0.443" stop-color="#f5b414"/><stop offset="0.455" stop-color="#f5b814"/><stop offset="0.466" stop-color="#f5bf14"/><stop offset="0.477" stop-color="#f5c614"/><stop offset="0.489" stop-color="#f5cd14"/><stop offset="0.500" stop-color="#f5d314"/><stop offset="0.511" stop-color="#f5d614"/><stop offset="0.523" stop-color="#f5d814"/><stop offset="0.534" stop-color="#f5da14"/><stop offset="0.545" stop-color="#f5dc14"/><stop offset="0.557" stop-color="#f5de14"/><stop offset="0.568" stop-color="#f5e014"/><stop offset="0.580" stop-color="#f5e114"/><stop offset="0.591" stop-color="#f5e214"/><stop offset="0.602" stop-color="#f5e214"/><stop offset="0.614" stop-color="#f5e315"/><stop offset="0.625" stop-color="#f5e415"/><stop offset="0.636" stop-color="#f5e515"/><stop offset="0.648" stop-color="#f4e515"/><stop offset="0.659" stop-color="#f4e615"/><stop offset="0.670" stop-color="#f4e715"/><stop offset="0.682" stop-color="#f4e816"/><stop offset="0.693" stop-color="#f4e816"/><stop offset="0.705" stop-color="#f4e916"/><stop offset="0.716" stop-color="#f4ea16"/><stop offset="0.727" stop-color="#f4ea17"/><stop offset="0.739" stop-color="#f4ea17"/><stop offset="0.750" stop-color="#f3eb18"/><stop offset="0.761" stop-color="#f3eb19"/><stop offset="0.773" stop-color="#f3eb19"/><stop offset="0.784" stop-color="#f3eb1a"/><stop offset="0.795" stop-color="#f2ec1b"/><stop offset="0.807" stop-color="#f2ec1c"/><stop offset="0.818" stop-color="#f2ec1c"/><stop offset="0.830" stop-color="#f2ec1d"/><stop offset="0.841" stop-color="#f1ed1e"/><stop offset="0.852" stop-color="#f1ed1e"/><stop offset="0.864" stop-color="#f1ed1f"/><stop offset="0.875" stop-color="#f1ed20"/><stop offset="0.886" stop-color="#f0ee21"/><stop offset="0.898" stop-color="#f0ee21"/><stop offset="0.909" stop-color="#f0ee22"/><stop offset="0.920" stop-color="#f0ee23"/><stop offset="0.932" stop-color="#efef24"/><stop offset="0.943" stop-color="#efef25"/><stop offset="0.955" stop-color="#efef26"/><stop offset="0.966" stop-color="#efef27"/><stop offset="0.977" stop-color="#eef028"/><stop offset="0.989" stop-color="#eef02a"/><stop offset="1.000" stop-color="#eef02a"/></linearGradient><linearGradient id="Ts9" gradientUnits="userSpaceOnUse" x1="0" y1="120" x2="0" y2="648"><stop offset="0.000" stop-color="#f09214"/><stop offset="0.011" stop-color="#f09214"/><stop offset="0.023" stop-color="#f09214"/><stop offset="0.034" stop-color="#f09214"/><stop offset="0.045" stop-color="#f09314"/><stop offset="0.057" stop-color="#f09314"/><stop offset="0.068" stop-color="#f09314"/><stop offset="0.080" stop-color="#f09314"/><stop offset="0.091" stop-color="#f09414"/><stop offset="0.102" stop-color="#f09414"/><stop offset="0.114" stop-color="#f19415"/><stop offset="0.125" stop-color="#f19415"/><stop offset="0.136" stop-color="#f19515"/><stop offset="0.148" stop-color="#f19515"/><stop offset="0.159" stop-color="#f19515"/><stop offset="0.170" stop-color="#f19515"/><stop offset="0.182" stop-color="#f19615"/><stop offset="0.193" stop-color="#f19615"/><stop offset="0.205" stop-color="#f19615"/><stop offset="0.216" stop-color="#f19615"/><stop offset="0.227" stop-color="#f19715"/><stop offset="0.239" stop-color="#f19715"/><stop offset="0.250" stop-color="#f19715"/><stop offset="0.261" stop-color="#f19715"/><stop offset="0.273" stop-color="#f19815"/><stop offset="0.284" stop-color="#f19815"/><stop offset="0.295" stop-color="#f29816"/><stop offset="0.307" stop-color="#f29816"/><stop offset="0.318" stop-color="#f29916"/><stop offset="0.330" stop-color="#f29916"/><stop offset="0.341" stop-color="#f29916"/><stop offset="0.352" stop-color="#f29916"/><stop offset="0.364" stop-color="#f29a16"/><stop offset="0.375" stop-color="#f29a16"/><stop offset="0.386" stop-color="#f29d16"/><stop offset="0.398" stop-color="#f3a116"/><stop offset="0.409" stop-color="#f3a615"/><stop offset="0.420" stop-color="#f4aa15"/><stop offset="0.432" stop-color="#f4af15"/><stop offset="0.443" stop-color="#f5b314"/><stop offset="0.455" stop-color="#f5b814"/><stop offset="0.466" stop-color="#f5be14"/><stop offset="0.477" stop-color="#f5c514"/><stop offset="0.489" stop-color="#f5cc14"/><stop offset="0.500" stop-color="#f5d214"/><stop offset="0.511" stop-color="#f5d614"/><stop offset="0.523" stop-color="#f5d814"/><stop offset="0.534" stop-color="#f5da14"/><stop offset="0.545" stop-color="#f5dc14"/><stop offset="0.557" stop-color="#f5de14"/><stop offset="0.568" stop-color="#f5e014"/><stop offset="0.580" stop-color="#f5e114"/><stop offset="0.591" stop-color="#f5e114"/><stop offset="0.602" stop-color="#f5e214"/><stop offset="0.614" stop-color="#f5e315"/><stop offset="0.625" stop-color="#f5e415"/><stop offset="0.636" stop-color="#f5e415"/><stop offset="0.648" stop-color="#f4e515"/><stop offset="0.659" stop-color="#f4e615"/><stop offset="0.670" stop-color="#f4e715"/><stop offset="0.682" stop-color="#f4e715"/><stop offset="0.693" stop-color="#f4e816"/><stop offset="0.705" stop-color="#f4e916"/><stop offset="0.716" stop-color="#f4ea16"/><stop offset="0.727" stop-color="#f4ea16"/><stop offset="0.739" stop-color="#f4ea17"/><stop offset="0.750" stop-color="#f3eb18"/><stop offset="0.761" stop-color="#f3eb19"/><stop offset="0.773" stop-color="#f3eb19"/><stop offset="0.784" stop-color="#f3eb1a"/><stop offset="0.795" stop-color="#f2ec1b"/><stop offset="0.807" stop-color="#f2ec1b"/><stop offset="0.818" stop-color="#f2ec1c"/><stop offset="0.830" stop-color="#f2ec1d"/><stop offset="0.841" stop-color="#f1ed1e"/><stop offset="0.852" stop-color="#f1ed1e"/><stop offset="0.864" stop-color="#f1ed1f"/><stop offset="0.875" stop-color="#f1ed20"/><stop offset="0.886" stop-color="#f0ee21"/><stop offset="0.898" stop-color="#f0ee21"/><stop offset="0.909" stop-color="#f0ee22"/><stop offset="0.920" stop-color="#f0ee23"/><stop offset="0.932" stop-color="#efef24"/><stop offset="0.943" stop-color="#efef25"/><stop offset="0.955" stop-color="#efef26"/><stop offset="0.966" stop-color="#efef27"/><stop offset="0.977" stop-color="#eef028"/><stop offset="0.989" stop-color="#eef029"/><stop offset="1.000" stop-color="#eef02a"/></linearGradient><linearGradient id="Ts10" gradientUnits="userSpaceOnUse" x1="0" y1="120" x2="0" y2="648"><stop offset="0.000" stop-color="#e68c13"/><stop offset="0.011" stop-color="#e68c13"/><stop offset="0.023" stop-color="#e68c13"/><stop offset="0.034" stop-color="#e68c13"/><stop offset="0.045" stop-color="#e68d13"/><stop offset="0.057" stop-color="#e68d13"/><stop offset="0.068" stop-color="#e68d13"/><stop offset="0.080" stop-color="#e68d13"/><stop offset="0.091" stop-color="#e68e13"/><stop offset="0.102" stop-color="#e68e13"/><stop offset="0.114" stop-color="#e78e14"/><stop offset="0.125" stop-color="#e78e14"/><stop offset="0.136" stop-color="#e78f14"/><stop offset="0.148" stop-color="#e78f14"/><stop offset="0.159" stop-color="#e78f14"/><stop offset="0.170" stop-color="#e78f14"/><stop offset="0.182" stop-color="#e79014"/><stop offset="0.193" stop-color="#e79014"/><stop offset="0.205" stop-color="#e79014"/><stop offset="0.216" stop-color="#e79014"/><stop offset="0.227" stop-color="#e79114"/><stop offset="0.239" stop-color="#e79114"/><stop offset="0.250" stop-color="#e79114"/><stop offset="0.261" stop-color="#e79114"/><stop offset="0.273" stop-color="#e79214"/><stop offset="0.284" stop-color="#e79214"/><stop offset="0.295" stop-color="#e89215"/><stop offset="0.307" stop-color="#e89215"/><stop offset="0.318" stop-color="#e89315"/><stop offset="0.330" stop-color="#e89315"/><stop offset="0.341" stop-color="#e89315"/><stop offset="0.352" stop-color="#e89315"/><stop offset="0.364" stop-color="#e89415"/><stop offset="0.375" stop-color="#e89415"/><stop offset="0.386" stop-color="#e89615"/><stop offset="0.398" stop-color="#e99a15"/><stop offset="0.409" stop-color="#e99d14"/><stop offset="0.420" stop-color="#eaa214"/><stop offset="0.432" stop-color="#eaa614"/><stop offset="0.443" stop-color="#eaaa13"/><stop offset="0.455" stop-color="#ebaf13"/><stop offset="0.466" stop-color="#ebb413"/><stop offset="0.477" stop-color="#ebba13"/><stop offset="0.489" stop-color="#ebc113"/><stop offset="0.500" stop-color="#ebc713"/><stop offset="0.511" stop-color="#ebca13"/><stop offset="0.523" stop-color="#ebcc13"/><stop offset="0.534" stop-color="#ebcd13"/><stop offset="0.545" stop-color="#ebcf13"/><stop offset="0.557" stop-color="#ebd113"/><stop offset="0.568" stop-color="#ebd413"/><stop offset="0.580" stop-color="#ebd513"/><stop offset="0.591" stop-color="#ebd513"/><stop offset="0.602" stop-color="#ebd613"/><stop offset="0.614" stop-color="#ebd714"/><stop offset="0.625" stop-color="#ebd814"/><stop offset="0.636" stop-color="#ebd814"/><stop offset="0.648" stop-color="#ead914"/><stop offset="0.659" stop-color="#eada14"/><stop offset="0.670" stop-color="#eadb14"/><stop offset="0.682" stop-color="#eadb14"/><stop offset="0.693" stop-color="#eadc15"/><stop offset="0.705" stop-color="#eadd15"/><stop offset="0.716" stop-color="#eade15"/><stop offset="0.727" stop-color="#eade15"/><stop offset="0.739" stop-color="#eade16"/><stop offset="0.750" stop-color="#e9df17"/><stop offset="0.761" stop-color="#e9df17"/><stop offset="0.773" stop-color="#e9df18"/><stop offset="0.784" stop-color="#e9df19"/><stop offset="0.795" stop-color="#e8e01a"/><stop offset="0.807" stop-color="#e8e01a"/><stop offset="0.818" stop-color="#e8e01b"/><stop offset="0.830" stop-color="#e8e01b"/><stop offset="0.841" stop-color="#e7e11c"/><stop offset="0.852" stop-color="#e7e11c"/><stop offset="0.864" stop-color="#e7e11d"/><stop offset="0.875" stop-color="#e7e11e"/><stop offset="0.886" stop-color="#e7e21f"/><stop offset="0.898" stop-color="#e6e320"/><stop offset="0.909" stop-color="#e6e421"/><stop offset="0.920" stop-color="#e6e422"/><stop offset="0.932" stop-color="#e6e423"/><stop offset="0.943" stop-color="#e5e424"/><stop offset="0.955" stop-color="#e5e424"/><stop offset="0.966" stop-color="#e5e525"/><stop offset="0.977" stop-color="#e4e626"/><stop offset="0.989" stop-color="#e4e627"/><stop offset="1.000" stop-color="#e4e628"/></linearGradient><linearGradient id="Ts11" gradientUnits="userSpaceOnUse" x1="0" y1="120" x2="0" y2="648"><stop offset="0.000" stop-color="#ee9013"/><stop offset="0.011" stop-color="#ee9013"/><stop offset="0.023" stop-color="#ee9013"/><stop offset="0.034" stop-color="#ee9113"/><stop offset="0.045" stop-color="#ee9113"/><stop offset="0.057" stop-color="#ee9113"/><stop offset="0.068" stop-color="#ee9213"/><stop offset="0.080" stop-color="#ef9213"/><stop offset="0.091" stop-color="#ef9313"/><stop offset="0.102" stop-color="#ef9313"/><stop offset="0.114" stop-color="#ef9314"/><stop offset="0.125" stop-color="#ef9314"/><stop offset="0.136" stop-color="#ef9414"/><stop offset="0.148" stop-color="#ef9414"/><stop offset="0.159" stop-color="#ef9414"/><stop offset="0.170" stop-color="#ef9414"/><stop offset="0.182" stop-color="#ef9514"/><stop offset="0.193" stop-color="#f09514"/><stop offset="0.205" stop-color="#f09514"/><stop offset="0.216" stop-color="#f09514"/><stop offset="0.227" stop-color="#f09614"/><stop offset="0.239" stop-color="#f09614"/><stop offset="0.250" stop-color="#f09614"/><stop offset="0.261" stop-color="#f09614"/><stop offset="0.273" stop-color="#f09714"/><stop offset="0.284" stop-color="#f09714"/><stop offset="0.295" stop-color="#f09715"/><stop offset="0.307" stop-color="#f09715"/><stop offset="0.318" stop-color="#f19815"/><stop offset="0.330" stop-color="#f19815"/><stop offset="0.341" stop-color="#f19815"/><stop offset="0.352" stop-color="#f19915"/><stop offset="0.364" stop-color="#f19915"/><stop offset="0.375" stop-color="#f19915"/><stop offset="0.386" stop-color="#f19a15"/><stop offset="0.398" stop-color="#f19e15"/><stop offset="0.409" stop-color="#f1a115"/><stop offset="0.420" stop-color="#f1a515"/><stop offset="0.432" stop-color="#f2a815"/><stop offset="0.443" stop-color="#f2ab14"/><stop offset="0.455" stop-color="#f3ae14"/><stop offset="0.466" stop-color="#f3b214"/><stop offset="0.477" stop-color="#f3b814"/><stop offset="0.489" stop-color="#f3bd14"/><stop offset="0.500" stop-color="#f3c214"/><stop offset="0.511" stop-color="#f3c514"/><stop offset="0.523" stop-color="#f3c714"/><stop offset="0.534" stop-color="#f3c914"/><stop offset="0.545" stop-color="#f4cb14"/><stop offset="0.557" stop-color="#f4cd14"/><stop offset="0.568" stop-color="#f4cf14"/><stop offset="0.580" stop-color="#f4d014"/><stop offset="0.591" stop-color="#f4d114"/><stop offset="0.602" stop-color="#f4d214"/><stop offset="0.614" stop-color="#f4d315"/><stop offset="0.625" stop-color="#f4d315"/><stop offset="0.636" stop-color="#f4d415"/><stop offset="0.648" stop-color="#f4d515"/><stop offset="0.659" stop-color="#f3d615"/><stop offset="0.670" stop-color="#f3d615"/><stop offset="0.682" stop-color="#f3d715"/><stop offset="0.693" stop-color="#f3d715"/><stop offset="0.705" stop-color="#f3d815"/><stop offset="0.716" stop-color="#f3d815"/><stop offset="0.727" stop-color="#f3d915"/><stop offset="0.739" stop-color="#f3d916"/><stop offset="0.750" stop-color="#f3da17"/><stop offset="0.761" stop-color="#f3da17"/><stop offset="0.773" stop-color="#f3da18"/><stop offset="0.784" stop-color="#f2da18"/><stop offset="0.795" stop-color="#f2da19"/><stop offset="0.807" stop-color="#f2da19"/><stop offset="0.818" stop-color="#f1da19"/><stop offset="0.830" stop-color="#f1da1a"/><stop offset="0.841" stop-color="#f1db1a"/><stop offset="0.852" stop-color="#f1dc1b"/><stop offset="0.864" stop-color="#f1dc1c"/><stop offset="0.875" stop-color="#f1de1d"/><stop offset="0.886" stop-color="#f1e01d"/><stop offset="0.898" stop-color="#f0e31e"/><stop offset="0.909" stop-color="#f0e620"/><stop offset="0.920" stop-color="#f0e821"/><stop offset="0.932" stop-color="#f0ea23"/><stop offset="0.943" stop-color="#efeb24"/><stop offset="0.955" stop-color="#efec26"/><stop offset="0.966" stop-color="#efed28"/><stop offset="0.977" stop-color="#eeee29"/><stop offset="0.989" stop-color="#eeef2b"/><stop offset="1.000" stop-color="#eeef2c"/></linearGradient><linearGradient id="Ts12" gradientUnits="userSpaceOnUse" x1="0" y1="120" x2="0" y2="648"><stop offset="0.000" stop-color="#ec8e13"/><stop offset="0.011" stop-color="#ec8e13"/><stop offset="0.023" stop-color="#ec8e13"/><stop offset="0.034" stop-color="#ec8f13"/><stop offset="0.045" stop-color="#ec8f13"/><stop offset="0.057" stop-color="#ec8f13"/><stop offset="0.068" stop-color="#ec9013"/><stop offset="0.080" stop-color="#ed9013"/><stop offset="0.091" stop-color="#ed9113"/><stop offset="0.102" stop-color="#ed9113"/><stop offset="0.114" stop-color="#ed9113"/><stop offset="0.125" stop-color="#ed9213"/><stop offset="0.136" stop-color="#ed9214"/><stop offset="0.148" stop-color="#ed9314"/><stop offset="0.159" stop-color="#ed9314"/><stop offset="0.170" stop-color="#ed9314"/><stop offset="0.182" stop-color="#ed9414"/><stop offset="0.193" stop-color="#ee9414"/><stop offset="0.205" stop-color="#ee9414"/><stop offset="0.216" stop-color="#ee9414"/><stop offset="0.227" stop-color="#ee9514"/><stop offset="0.239" stop-color="#ee9514"/><stop offset="0.250" stop-color="#ee9514"/><stop offset="0.261" stop-color="#ee9514"/><stop offset="0.273" stop-color="#ee9614"/><stop offset="0.284" stop-color="#ee9614"/><stop offset="0.295" stop-color="#ee9714"/><stop offset="0.307" stop-color="#ee9714"/><stop offset="0.318" stop-color="#ef9714"/><stop offset="0.330" stop-color="#ef9814"/><stop offset="0.341" stop-color="#ef9814"/><stop offset="0.352" stop-color="#ef9814"/><stop offset="0.364" stop-color="#ef9914"/><stop offset="0.375" stop-color="#ef9915"/><stop offset="0.386" stop-color="#ef9a15"/><stop offset="0.398" stop-color="#ef9b15"/><stop offset="0.409" stop-color="#ef9d14"/><stop offset="0.420" stop-color="#ef9f14"/><stop offset="0.432" stop-color="#f0a114"/><stop offset="0.443" stop-color="#f0a314"/><stop offset="0.455" stop-color="#f1a514"/><stop offset="0.466" stop-color="#f1a714"/><stop offset="0.477" stop-color="#f1ab14"/><stop offset="0.489" stop-color="#f1ad14"/><stop offset="0.500" stop-color="#f1b114"/><stop offset="0.511" stop-color="#f1b414"/><stop offset="0.523" stop-color="#f1b514"/><stop offset="0.534" stop-color="#f1b714"/><stop offset="0.545" stop-color="#f2b914"/><stop offset="0.557" stop-color="#f2ba14"/><stop offset="0.568" stop-color="#f2bc14"/><stop offset="0.580" stop-color="#f3bd14"/><stop offset="0.591" stop-color="#f3be14"/><stop offset="0.602" stop-color="#f3bf14"/><stop offset="0.614" stop-color="#f3c114"/><stop offset="0.625" stop-color="#f3c114"/><stop offset="0.636" stop-color="#f3c214"/><stop offset="0.648" stop-color="#f3c314"/><stop offset="0.659" stop-color="#f3c314"/><stop offset="0.670" stop-color="#f3c314"/><stop offset="0.682" stop-color="#f3c414"/><stop offset="0.693" stop-color="#f3c415"/><stop offset="0.705" stop-color="#f3c515"/><stop offset="0.716" stop-color="#f3c515"/><stop offset="0.727" stop-color="#f3c615"/><stop offset="0.739" stop-color="#f3c615"/><stop offset="0.750" stop-color="#f2c716"/><stop offset="0.761" stop-color="#f2c716"/><stop offset="0.773" stop-color="#f2c716"/><stop offset="0.784" stop-color="#f2c616"/><stop offset="0.795" stop-color="#f2c616"/><stop offset="0.807" stop-color="#f1c616"/><stop offset="0.818" stop-color="#f1c616"/><stop offset="0.830" stop-color="#f1c616"/><stop offset="0.841" stop-color="#f1c717"/><stop offset="0.852" stop-color="#f0c917"/><stop offset="0.864" stop-color="#f0c918"/><stop offset="0.875" stop-color="#f0cd19"/><stop offset="0.886" stop-color="#f0d21a"/><stop offset="0.898" stop-color="#f0d71b"/><stop offset="0.909" stop-color="#f0dc1d"/><stop offset="0.920" stop-color="#f0e01f"/><stop offset="0.932" stop-color="#f0e522"/><stop offset="0.943" stop-color="#f0e724"/><stop offset="0.955" stop-color="#efe826"/><stop offset="0.966" stop-color="#efea28"/><stop offset="0.977" stop-color="#efeb2a"/><stop offset="0.989" stop-color="#eeed2d"/><stop offset="1.000" stop-color="#eeee2e"/></linearGradient><linearGradient id="Ts13" gradientUnits="userSpaceOnUse" x1="0" y1="120" x2="0" y2="648"><stop offset="0.000" stop-color="#e48911"/><stop offset="0.011" stop-color="#e48911"/><stop offset="0.023" stop-color="#e48911"/><stop offset="0.034" stop-color="#e48a11"/><stop offset="0.045" stop-color="#e48a11"/><stop offset="0.057" stop-color="#e48a11"/><stop offset="0.068" stop-color="#e48b11"/><stop offset="0.080" stop-color="#e58b11"/><stop offset="0.091" stop-color="#e58c11"/><stop offset="0.102" stop-color="#e58c11"/><stop offset="0.114" stop-color="#e58c11"/><stop offset="0.125" stop-color="#e58c11"/><stop offset="0.136" stop-color="#e58d12"/><stop offset="0.148" stop-color="#e58d12"/><stop offset="0.159" stop-color="#e58d12"/><stop offset="0.170" stop-color="#e58d12"/><stop offset="0.182" stop-color="#e58e12"/><stop offset="0.193" stop-color="#e68e12"/><stop offset="0.205" stop-color="#e68e12"/><stop offset="0.216" stop-color="#e68f12"/><stop offset="0.227" stop-color="#e68f12"/><stop offset="0.239" stop-color="#e69012"/><stop offset="0.250" stop-color="#e69012"/><stop offset="0.261" stop-color="#e69012"/><stop offset="0.273" stop-color="#e69112"/><stop offset="0.284" stop-color="#e69112"/><stop offset="0.295" stop-color="#e69212"/><stop offset="0.307" stop-color="#e69212"/><stop offset="0.318" stop-color="#e79212"/><stop offset="0.330" stop-color="#e79212"/><stop offset="0.341" stop-color="#e79212"/><stop offset="0.352" stop-color="#e79312"/><stop offset="0.364" stop-color="#e79312"/><stop offset="0.375" stop-color="#e79313"/><stop offset="0.386" stop-color="#e79413"/><stop offset="0.398" stop-color="#e79513"/><stop offset="0.409" stop-color="#e79513"/><stop offset="0.420" stop-color="#e79613"/><stop offset="0.432" stop-color="#e89713"/><stop offset="0.443" stop-color="#e89813"/><stop offset="0.455" stop-color="#e89913"/><stop offset="0.466" stop-color="#e89913"/><stop offset="0.477" stop-color="#e89b13"/><stop offset="0.489" stop-color="#e89c13"/><stop offset="0.500" stop-color="#e89e13"/><stop offset="0.511" stop-color="#e9a013"/><stop offset="0.523" stop-color="#e9a113"/><stop offset="0.534" stop-color="#e9a313"/><stop offset="0.545" stop-color="#eaa413"/><stop offset="0.557" stop-color="#eaa513"/><stop offset="0.568" stop-color="#eaa713"/><stop offset="0.580" stop-color="#eaa813"/><stop offset="0.591" stop-color="#eaa913"/><stop offset="0.602" stop-color="#eaaa13"/><stop offset="0.614" stop-color="#ebac13"/><stop offset="0.625" stop-color="#ebad13"/><stop offset="0.636" stop-color="#ebad13"/><stop offset="0.648" stop-color="#ebae13"/><stop offset="0.659" stop-color="#ebae13"/><stop offset="0.670" stop-color="#ebae13"/><stop offset="0.682" stop-color="#ebaf13"/><stop offset="0.693" stop-color="#ebaf13"/><stop offset="0.705" stop-color="#ebaf13"/><stop offset="0.716" stop-color="#ebb013"/><stop offset="0.727" stop-color="#ebb013"/><stop offset="0.739" stop-color="#ebb013"/><stop offset="0.750" stop-color="#ebb113"/><stop offset="0.761" stop-color="#ebb113"/><stop offset="0.773" stop-color="#ebb114"/><stop offset="0.784" stop-color="#eab013"/><stop offset="0.795" stop-color="#eab013"/><stop offset="0.807" stop-color="#eab013"/><stop offset="0.818" stop-color="#e9af12"/><stop offset="0.830" stop-color="#e9b012"/><stop offset="0.841" stop-color="#e9b113"/><stop offset="0.852" stop-color="#e9b213"/><stop offset="0.864" stop-color="#e9b314"/><stop offset="0.875" stop-color="#e9b815"/><stop offset="0.886" stop-color="#e9c016"/><stop offset="0.898" stop-color="#e9c718"/><stop offset="0.909" stop-color="#e9ce1a"/><stop offset="0.920" stop-color="#e9d31d"/><stop offset="0.932" stop-color="#e9da1f"/><stop offset="0.943" stop-color="#e9dc22"/><stop offset="0.955" stop-color="#e8de25"/><stop offset="0.966" stop-color="#e8e128"/><stop offset="0.977" stop-color="#e8e32b"/><stop offset="0.989" stop-color="#e7e52d"/><stop offset="1.000" stop-color="#e7e52e"/></linearGradient><linearGradient id="Ts14" gradientUnits="userSpaceOnUse" x1="0" y1="120" x2="0" y2="648"><stop offset="0.000" stop-color="#e38811"/><stop offset="0.011" stop-color="#e38811"/><stop offset="0.023" stop-color="#e38811"/><stop offset="0.034" stop-color="#e38911"/><stop offset="0.045" stop-color="#e38911"/><stop offset="0.057" stop-color="#e38911"/><stop offset="0.068" stop-color="#e38a11"/><stop offset="0.080" stop-color="#e48a11"/><stop offset="0.091" stop-color="#e48b11"/><stop offset="0.102" stop-color="#e48b11"/><stop offset="0.114" stop-color="#e48b11"/><stop offset="0.125" stop-color="#e48c11"/><stop offset="0.136" stop-color="#e48c12"/><stop offset="0.148" stop-color="#e48d12"/><stop offset="0.159" stop-color="#e48d12"/><stop offset="0.170" stop-color="#e48d12"/><stop offset="0.182" stop-color="#e48e12"/><stop offset="0.193" stop-color="#e58e12"/><stop offset="0.205" stop-color="#e58e12"/><stop offset="0.216" stop-color="#e58f12"/><stop offset="0.227" stop-color="#e58f12"/><stop offset="0.239" stop-color="#e59012"/><stop offset="0.250" stop-color="#e59012"/><stop offset="0.261" stop-color="#e59012"/><stop offset="0.273" stop-color="#e59112"/><stop offset="0.284" stop-color="#e59112"/><stop offset="0.295" stop-color="#e59212"/><stop offset="0.307" stop-color="#e59212"/><stop offset="0.318" stop-color="#e69212"/><stop offset="0.330" stop-color="#e69212"/><stop offset="0.341" stop-color="#e69212"/><stop offset="0.352" stop-color="#e69312"/><stop offset="0.364" stop-color="#e69312"/><stop offset="0.375" stop-color="#e69313"/><stop offset="0.386" stop-color="#e69413"/><stop offset="0.398" stop-color="#e69413"/><stop offset="0.409" stop-color="#e69413"/><stop offset="0.420" stop-color="#e69513"/><stop offset="0.432" stop-color="#e79513"/><stop offset="0.443" stop-color="#e79613"/><stop offset="0.455" stop-color="#e79613"/><stop offset="0.466" stop-color="#e79613"/><stop offset="0.477" stop-color="#e79713"/><stop offset="0.489" stop-color="#e79713"/><stop offset="0.500" stop-color="#e79913"/><stop offset="0.511" stop-color="#e89a13"/><stop offset="0.523" stop-color="#e89b13"/><stop offset="0.534" stop-color="#e89d13"/><stop offset="0.545" stop-color="#e99e13"/><stop offset="0.557" stop-color="#e99f13"/><stop offset="0.568" stop-color="#e9a113"/><stop offset="0.580" stop-color="#eaa213"/><stop offset="0.591" stop-color="#eaa313"/><stop offset="0.602" stop-color="#eaa413"/><stop offset="0.614" stop-color="#eba613"/><stop offset="0.625" stop-color="#eba713"/><stop offset="0.636" stop-color="#eba713"/><stop offset="0.648" stop-color="#eba813"/><stop offset="0.659" stop-color="#eba813"/><stop offset="0.670" stop-color="#eba813"/><stop offset="0.682" stop-color="#eba913"/><stop offset="0.693" stop-color="#eba913"/><stop offset="0.705" stop-color="#eba913"/><stop offset="0.716" stop-color="#ebaa13"/><stop offset="0.727" stop-color="#ebaa13"/><stop offset="0.739" stop-color="#ebaa13"/><stop offset="0.750" stop-color="#ebab13"/><stop offset="0.761" stop-color="#ebab13"/><stop offset="0.773" stop-color="#ebab13"/><stop offset="0.784" stop-color="#eaaa12"/><stop offset="0.795" stop-color="#eaaa12"/><stop offset="0.807" stop-color="#eaaa12"/><stop offset="0.818" stop-color="#e9a911"/><stop offset="0.830" stop-color="#e9aa11"/><stop offset="0.841" stop-color="#e9ab12"/><stop offset="0.852" stop-color="#e9ad12"/><stop offset="0.864" stop-color="#e9ae13"/><stop offset="0.875" stop-color="#e9b314"/><stop offset="0.886" stop-color="#e9bb15"/><stop offset="0.898" stop-color="#e9c317"/><stop offset="0.909" stop-color="#e9cb19"/><stop offset="0.920" stop-color="#e9d21c"/><stop offset="0.932" stop-color="#e9d91f"/><stop offset="0.943" stop-color="#e9db22"/><stop offset="0.955" stop-color="#e8dd25"/><stop offset="0.966" stop-color="#e8e028"/><stop offset="0.977" stop-color="#e8e22b"/><stop offset="0.989" stop-color="#e7e42e"/><stop offset="1.000" stop-color="#e7e52f"/></linearGradient><linearGradient id="Ts15" gradientUnits="userSpaceOnUse" x1="0" y1="120" x2="0" y2="648"><stop offset="0.000" stop-color="#da8211"/><stop offset="0.011" stop-color="#da8211"/><stop offset="0.023" stop-color="#da8211"/><stop offset="0.034" stop-color="#da8311"/><stop offset="0.045" stop-color="#da8311"/><stop offset="0.057" stop-color="#da8311"/><stop offset="0.068" stop-color="#da8411"/><stop offset="0.080" stop-color="#db8411"/><stop offset="0.091" stop-color="#db8511"/><stop offset="0.102" stop-color="#db8511"/><stop offset="0.114" stop-color="#db8511"/><stop offset="0.125" stop-color="#db8611"/><stop offset="0.136" stop-color="#db8612"/><stop offset="0.148" stop-color="#db8712"/><stop offset="0.159" stop-color="#db8712"/><stop offset="0.170" stop-color="#db8712"/><stop offset="0.182" stop-color="#db8812"/><stop offset="0.193" stop-color="#db8812"/><stop offset="0.205" stop-color="#db8812"/><stop offset="0.216" stop-color="#db8912"/><stop offset="0.227" stop-color="#db8912"/><stop offset="0.239" stop-color="#db8a12"/><stop offset="0.250" stop-color="#db8a12"/><stop offset="0.261" stop-color="#db8a12"/><stop offset="0.273" stop-color="#db8b12"/><stop offset="0.284" stop-color="#db8b12"/><stop offset="0.295" stop-color="#db8c12"/><stop offset="0.307" stop-color="#db8c12"/><stop offset="0.318" stop-color="#dc8c12"/><stop offset="0.330" stop-color="#dc8c12"/><stop offset="0.341" stop-color="#dc8c12"/><stop offset="0.352" stop-color="#dc8d12"/><stop offset="0.364" stop-color="#dc8d12"/><stop offset="0.375" stop-color="#dc8d13"/><stop offset="0.386" stop-color="#dc8e13"/><stop offset="0.398" stop-color="#dc8e13"/><stop offset="0.409" stop-color="#dc8e13"/><stop offset="0.420" stop-color="#dc8f13"/><stop offset="0.432" stop-color="#dd8f13"/><stop offset="0.443" stop-color="#dd9013"/><stop offset="0.455" stop-color="#dd9013"/><stop offset="0.466" stop-color="#dd9013"/><stop offset="0.477" stop-color="#dd9113"/><stop offset="0.489" stop-color="#dd9113"/><stop offset="0.500" stop-color="#dd9313"/><stop offset="0.511" stop-color="#de9413"/><stop offset="0.523" stop-color="#de9513"/><stop offset="0.534" stop-color="#de9713"/><stop offset="0.545" stop-color="#df9813"/><stop offset="0.557" stop-color="#df9913"/><stop offset="0.568" stop-color="#df9a13"/><stop offset="0.580" stop-color="#e09b13"/><stop offset="0.591" stop-color="#e09c13"/><stop offset="0.602" stop-color="#e09d13"/><stop offset="0.614" stop-color="#e19f13"/><stop offset="0.625" stop-color="#e1a013"/><stop offset="0.636" stop-color="#e1a013"/><stop offset="0.648" stop-color="#e1a113"/><stop offset="0.659" stop-color="#e1a113"/><stop offset="0.670" stop-color="#e1a113"/><stop offset="0.682" stop-color="#e1a213"/><stop offset="0.693" stop-color="#e1a213"/><stop offset="0.705" stop-color="#e1a213"/><stop offset="0.716" stop-color="#e1a313"/><stop offset="0.727" stop-color="#e1a313"/><stop offset="0.739" stop-color="#e1a313"/><stop offset="0.750" stop-color="#e1a413"/><stop offset="0.761" stop-color="#e1a413"/><stop offset="0.773" stop-color="#e1a413"/><stop offset="0.784" stop-color="#e0a312"/><stop offset="0.795" stop-color="#e0a312"/><stop offset="0.807" stop-color="#e0a312"/><stop offset="0.818" stop-color="#dfa211"/><stop offset="0.830" stop-color="#dfa311"/><stop offset="0.841" stop-color="#dfa412"/><stop offset="0.852" stop-color="#dfa612"/><stop offset="0.864" stop-color="#dfa613"/><stop offset="0.875" stop-color="#dfac14"/><stop offset="0.886" stop-color="#dfb314"/><stop offset="0.898" stop-color="#dfbb16"/><stop offset="0.909" stop-color="#dfc218"/><stop offset="0.920" stop-color="#dfc91b"/><stop offset="0.932" stop-color="#dfd01e"/><stop offset="0.943" stop-color="#dfd221"/><stop offset="0.955" stop-color="#ded423"/><stop offset="0.966" stop-color="#ded726"/><stop offset="0.977" stop-color="#ded929"/><stop offset="0.989" stop-color="#dddb2c"/><stop offset="1.000" stop-color="#dddb2d"/></linearGradient><linearGradient id="Ts16" gradientUnits="userSpaceOnUse" x1="0" y1="120" x2="0" y2="648"><stop offset="0.000" stop-color="#ea8c12"/><stop offset="0.011" stop-color="#ea8c12"/><stop offset="0.023" stop-color="#ea8c12"/><stop offset="0.034" stop-color="#ea8d12"/><stop offset="0.045" stop-color="#ea8d12"/><stop offset="0.057" stop-color="#ea8d12"/><stop offset="0.068" stop-color="#ea8e12"/><stop offset="0.080" stop-color="#eb8e12"/><stop offset="0.091" stop-color="#eb8f12"/><stop offset="0.102" stop-color="#eb8f12"/><stop offset="0.114" stop-color="#eb8f12"/><stop offset="0.125" stop-color="#eb9012"/><stop offset="0.136" stop-color="#eb9013"/><stop offset="0.148" stop-color="#eb9113"/><stop offset="0.159" stop-color="#eb9113"/><stop offset="0.170" stop-color="#eb9113"/><stop offset="0.182" stop-color="#eb9213"/><stop offset="0.193" stop-color="#ec9213"/><stop offset="0.205" stop-color="#ec9213"/><stop offset="0.216" stop-color="#ec9313"/><stop offset="0.227" stop-color="#ec9313"/><stop offset="0.239" stop-color="#ec9413"/><stop offset="0.250" stop-color="#ec9413"/><stop offset="0.261" stop-color="#ec9413"/><stop offset="0.273" stop-color="#ec9513"/><stop offset="0.284" stop-color="#ec9513"/><stop offset="0.295" stop-color="#ec9613"/><stop offset="0.307" stop-color="#ec9613"/><stop offset="0.318" stop-color="#ed9613"/><stop offset="0.330" stop-color="#ed9713"/><stop offset="0.341" stop-color="#ed9713"/><stop offset="0.352" stop-color="#ed9813"/><stop offset="0.364" stop-color="#ed9813"/><stop offset="0.375" stop-color="#ed9814"/><stop offset="0.386" stop-color="#ed9914"/><stop offset="0.398" stop-color="#ed9914"/><stop offset="0.409" stop-color="#ed9914"/><stop offset="0.420" stop-color="#ed9a14"/><stop offset="0.432" stop-color="#ee9a14"/><stop offset="0.443" stop-color="#ee9b14"/><stop offset="0.455" stop-color="#ee9b14"/><stop offset="0.466" stop-color="#ee9b14"/><stop offset="0.477" stop-color="#ee9c14"/><stop offset="0.489" stop-color="#ee9c14"/><stop offset="0.500" stop-color="#ee9e14"/><stop offset="0.511" stop-color="#ef9f14"/><stop offset="0.523" stop-color="#efa014"/><stop offset="0.534" stop-color="#efa214"/><stop offset="0.545" stop-color="#f0a314"/><stop offset="0.557" stop-color="#f0a414"/><stop offset="0.568" stop-color="#f0a614"/><stop offset="0.580" stop-color="#f1a714"/><stop offset="0.591" stop-color="#f1a814"/><stop offset="0.602" stop-color="#f1a914"/><stop offset="0.614" stop-color="#f2ab14"/><stop offset="0.625" stop-color="#f2ac14"/><stop offset="0.636" stop-color="#f2ac14"/><stop offset="0.648" stop-color="#f2ad14"/><stop offset="0.659" stop-color="#f2ad14"/><stop offset="0.670" stop-color="#f2ad14"/><stop offset="0.682" stop-color="#f2ae14"/><stop offset="0.693" stop-color="#f2ae14"/><stop offset="0.705" stop-color="#f2ae14"/><stop offset="0.716" stop-color="#f2af14"/><stop offset="0.727" stop-color="#f2af14"/><stop offset="0.739" stop-color="#f2af14"/><stop offset="0.750" stop-color="#f2b014"/><stop offset="0.761" stop-color="#f2b014"/><stop offset="0.773" stop-color="#f2b014"/><stop offset="0.784" stop-color="#f1af13"/><stop offset="0.795" stop-color="#f1af13"/><stop offset="0.807" stop-color="#f1af13"/><stop offset="0.818" stop-color="#f0ae12"/><stop offset="0.830" stop-color="#f0af12"/><stop offset="0.841" stop-color="#f0b013"/><stop offset="0.852" stop-color="#f0b213"/><stop offset="0.864" stop-color="#f0b314"/><stop offset="0.875" stop-color="#f0b915"/><stop offset="0.886" stop-color="#f0c116"/><stop offset="0.898" stop-color="#f0c918"/><stop offset="0.909" stop-color="#f0d11a"/><stop offset="0.920" stop-color="#f0d81d"/><stop offset="0.932" stop-color="#f0e020"/><stop offset="0.943" stop-color="#f0e223"/><stop offset="0.955" stop-color="#efe426"/><stop offset="0.966" stop-color="#efe729"/><stop offset="0.977" stop-color="#efe92c"/><stop offset="0.989" stop-color="#eeeb2f"/><stop offset="1.000" stop-color="#eeec30"/></linearGradient><linearGradient id="Ts17" gradientUnits="userSpaceOnUse" x1="0" y1="120" x2="0" y2="648"><stop offset="0.000" stop-color="#ea8c12"/><stop offset="0.011" stop-color="#ea8c12"/><stop offset="0.023" stop-color="#ea8c12"/><stop offset="0.034" stop-color="#ea8d12"/><stop offset="0.045" stop-color="#ea8d12"/><stop offset="0.057" stop-color="#ea8d12"/><stop offset="0.068" stop-color="#ea8e12"/><stop offset="0.080" stop-color="#eb8e12"/><stop offset="0.091" stop-color="#eb8f12"/><stop offset="0.102" stop-color="#eb8f12"/><stop offset="0.114" stop-color="#eb8f12"/><stop offset="0.125" stop-color="#eb9012"/><stop offset="0.136" stop-color="#eb9013"/><stop offset="0.148" stop-color="#eb9113"/><stop offset="0.159" stop-color="#eb9113"/><stop offset="0.170" stop-color="#eb9113"/><stop offset="0.182" stop-color="#eb9213"/><stop offset="0.193" stop-color="#ec9213"/><stop offset="0.205" stop-color="#ec9213"/><stop offset="0.216" stop-color="#ec9313"/><stop offset="0.227" stop-color="#ec9313"/><stop offset="0.239" stop-color="#ec9413"/><stop offset="0.250" stop-color="#ec9413"/><stop offset="0.261" stop-color="#ec9413"/><stop offset="0.273" stop-color="#ec9513"/><stop offset="0.284" stop-color="#ec9513"/><stop offset="0.295" stop-color="#ec9613"/><stop offset="0.307" stop-color="#ec9613"/><stop offset="0.318" stop-color="#ed9613"/><stop offset="0.330" stop-color="#ed9713"/><stop offset="0.341" stop-color="#ed9713"/><stop offset="0.352" stop-color="#ed9813"/><stop offset="0.364" stop-color="#ed9813"/><stop offset="0.375" stop-color="#ed9814"/><stop offset="0.386" stop-color="#ed9914"/><stop offset="0.398" stop-color="#ed9914"/><stop offset="0.409" stop-color="#ed9914"/><stop offset="0.420" stop-color="#ed9a14"/><stop offset="0.432" stop-color="#ee9a14"/><stop offset="0.443" stop-color="#ee9b14"/><stop offset="0.455" stop-color="#ee9b14"/><stop offset="0.466" stop-color="#ee9b14"/><stop offset="0.477" stop-color="#ee9c14"/><stop offset="0.489" stop-color="#ee9c14"/><stop offset="0.500" stop-color="#ee9e14"/><stop offset="0.511" stop-color="#ef9f14"/><stop offset="0.523" stop-color="#efa014"/><stop offset="0.534" stop-color="#efa214"/><stop offset="0.545" stop-color="#f0a314"/><stop offset="0.557" stop-color="#f0a414"/><stop offset="0.568" stop-color="#f0a614"/><stop offset="0.580" stop-color="#f1a714"/><stop offset="0.591" stop-color="#f1a814"/><stop offset="0.602" stop-color="#f1a914"/><stop offset="0.614" stop-color="#f2ab14"/><stop offset="0.625" stop-color="#f2ac14"/><stop offset="0.636" stop-color="#f2ac14"/><stop offset="0.648" stop-color="#f2ad14"/><stop offset="0.659" stop-color="#f2ad14"/><stop offset="0.670" stop-color="#f2ad14"/><stop offset="0.682" stop-color="#f2ae14"/><stop offset="0.693" stop-color="#f2ae14"/><stop offset="0.705" stop-color="#f2ae14"/><stop offset="0.716" stop-color="#f2af14"/><stop offset="0.727" stop-color="#f2af14"/><stop offset="0.739" stop-color="#f2af14"/><stop offset="0.750" stop-color="#f2b014"/><stop offset="0.761" stop-color="#f2b014"/><stop offset="0.773" stop-color="#f2b014"/><stop offset="0.784" stop-color="#f1af13"/><stop offset="0.795" stop-color="#f1af13"/><stop offset="0.807" stop-color="#f1af13"/><stop offset="0.818" stop-color="#f0ae12"/><stop offset="0.830" stop-color="#f0af12"/><stop offset="0.841" stop-color="#f0b013"/><stop offset="0.852" stop-color="#f0b213"/><stop offset="0.864" stop-color="#f0b314"/><stop offset="0.875" stop-color="#f0b915"/><stop offset="0.886" stop-color="#f0c116"/><stop offset="0.898" stop-color="#f0c918"/><stop offset="0.909" stop-color="#f0d11a"/><stop offset="0.920" stop-color="#f0d81d"/><stop offset="0.932" stop-color="#f0e020"/><stop offset="0.943" stop-color="#f0e223"/><stop offset="0.955" stop-color="#efe426"/><stop offset="0.966" stop-color="#efe729"/><stop offset="0.977" stop-color="#efe92c"/><stop offset="0.989" stop-color="#eeeb2f"/><stop offset="1.000" stop-color="#eeec30"/></linearGradient><linearGradient id="Tbpale" gradientUnits="userSpaceOnUse" x1="121" y1="0" x2="149" y2="0"><stop offset="0" stop-color="#fff" stop-opacity="0.14"/><stop offset="1" stop-color="#fff" stop-opacity="0"/></linearGradient><linearGradient id="Ucol" gradientUnits="userSpaceOnUse" x1="0" y1="127" x2="0" y2="640"><stop offset="0.0" stop-color="#1a1ac6"/><stop offset="0.48" stop-color="#1c1cd0"/><stop offset="0.54" stop-color="#1838e0"/><stop offset="0.6" stop-color="#1060e8"/><stop offset="0.65" stop-color="#10a0e0"/><stop offset="0.7" stop-color="#20d0d0"/><stop offset="0.75" stop-color="#50e8a0"/><stop offset="0.8" stop-color="#b0e840"/><stop offset="0.84" stop-color="#f0e020"/><stop offset="0.89" stop-color="#f0a020"/><stop offset="0.94" stop-color="#f05020"/><stop offset="0.98" stop-color="#e02020"/><stop offset="1" stop-color="#d01818"/></linearGradient><linearGradient id="Ulow" gradientUnits="userSpaceOnUse" x1="230" y1="87" x2="130" y2="665"><stop offset="0.0" stop-color="#1a1ac6"/><stop offset="0.48" stop-color="#1c1cd0"/><stop offset="0.54" stop-color="#1838e0"/><stop offset="0.6" stop-color="#1060e8"/><stop offset="0.65" stop-color="#10a0e0"/><stop offset="0.7" stop-color="#20d0d0"/><stop offset="0.75" stop-color="#50e8a0"/><stop offset="0.8" stop-color="#b0e840"/><stop offset="0.84" stop-color="#f0e020"/><stop offset="0.89" stop-color="#f0a020"/><stop offset="0.94" stop-color="#f05020"/><stop offset="0.98" stop-color="#e02020"/><stop offset="1" stop-color="#d01818"/></linearGradient><linearGradient id="UcolR" gradientUnits="userSpaceOnUse" x1="0" y1="127" x2="0" y2="640"><stop offset="0.0" stop-color="#1818c0"/><stop offset="0.48" stop-color="#1a1ac8"/><stop offset="0.57" stop-color="#1838e0"/><stop offset="0.64" stop-color="#1070e8"/><stop offset="0.7" stop-color="#10a8e0"/><stop offset="0.76" stop-color="#30d8c0"/><stop offset="0.82" stop-color="#a8e840"/><stop offset="0.87" stop-color="#f0d020"/><stop offset="0.92" stop-color="#f08020"/><stop offset="0.97" stop-color="#e83020"/><stop offset="1" stop-color="#d82020"/></linearGradient><linearGradient id="Urod" gradientUnits="userSpaceOnUse" x1="0" y1="50" x2="0" y2="127"><stop offset="0" stop-color="#2a90f4"/><stop offset="0.25" stop-color="#2280f0"/><stop offset="0.45" stop-color="#1a60ec"/><stop offset="1" stop-color="#1a50e8"/></linearGradient><linearGradient id="Ubrk" gradientUnits="userSpaceOnUse" x1="0" y1="372" x2="0" y2="638"><stop offset="0" stop-color="#2a2ace"/><stop offset="0.1" stop-color="#2a34d8"/><stop offset="0.17" stop-color="#2848e4"/><stop offset="0.27" stop-color="#2070e8"/><stop offset="0.36" stop-color="#20a8e4"/><stop offset="0.46" stop-color="#40d8d0"/><stop offset="0.55" stop-color="#70e8a0"/><stop offset="0.65" stop-color="#c0e050"/><stop offset="0.72" stop-color="#f0c030"/><stop offset="0.82" stop-color="#f08028"/><stop offset="0.91" stop-color="#e84028"/><stop offset="1" stop-color="#e02828"/></linearGradient><linearGradient id="Ufin" x1="0" y1="0" x2="1" y2="0"><stop offset="0" stop-color="#1a1ab8"/><stop offset="0.12" stop-color="#2626d0"/><stop offset="0.35" stop-color="#2c2cdc"/><stop offset="0.8" stop-color="#2828d4"/><stop offset="0.92" stop-color="#2020c4"/><stop offset="1" stop-color="#1616a0"/></linearGradient><clipPath id="Uclip"><polygon points="153.79,127 184.66,127 179.13,376 181.8,378 185,440 188.5,540 192.4,618.5 186,625 169,639.5 157,639.5 157,637 137.98,637" /></clipPath><linearGradient id="Us0" gradientUnits="userSpaceOnUse" x1="0" y1="120" x2="0" y2="648"><stop offset="0.000" stop-color="#0f0f94"/><stop offset="0.011" stop-color="#0f0f94"/><stop offset="0.023" stop-color="#0f0f94"/><stop offset="0.034" stop-color="#0f0f94"/><stop offset="0.045" stop-color="#0f0f95"/><stop offset="0.057" stop-color="#101095"/><stop offset="0.068" stop-color="#101095"/><stop offset="0.080" stop-color="#101096"/><stop offset="0.091" stop-color="#101096"/><stop offset="0.102" stop-color="#101096"/><stop offset="0.114" stop-color="#101097"/><stop offset="0.125" stop-color="#101097"/><stop offset="0.136" stop-color="#101097"/><stop offset="0.148" stop-color="#101098"/><stop offset="0.159" stop-color="#101098"/><stop offset="0.170" stop-color="#101098"/><stop offset="0.182" stop-color="#101099"/><stop offset="0.193" stop-color="#101099"/><stop offset="0.205" stop-color="#101099"/><stop offset="0.216" stop-color="#101099"/><stop offset="0.227" stop-color="#101099"/><stop offset="0.239" stop-color="#101099"/><stop offset="0.250" stop-color="#10109a"/><stop offset="0.261" stop-color="#10109a"/><stop offset="0.273" stop-color="#10109a"/><stop offset="0.284" stop-color="#10109b"/><stop offset="0.295" stop-color="#11119b"/><stop offset="0.307" stop-color="#11119b"/><stop offset="0.318" stop-color="#11119c"/><stop offset="0.330" stop-color="#11119c"/><stop offset="0.341" stop-color="#11119c"/><stop offset="0.352" stop-color="#11119d"/><stop offset="0.364" stop-color="#11119d"/><stop offset="0.375" stop-color="#11119d"/><stop offset="0.386" stop-color="#11119d"/><stop offset="0.398" stop-color="#11119d"/><stop offset="0.409" stop-color="#11119d"/><stop offset="0.420" stop-color="#12129e"/><stop offset="0.432" stop-color="#12129e"/><stop offset="0.443" stop-color="#12129e"/><stop offset="0.455" stop-color="#12129f"/><stop offset="0.466" stop-color="#12129f"/><stop offset="0.477" stop-color="#1215a2"/><stop offset="0.489" stop-color="#131ba7"/><stop offset="0.500" stop-color="#1321ac"/><stop offset="0.511" stop-color="#1327b1"/><stop offset="0.523" stop-color="#142bb6"/><stop offset="0.534" stop-color="#1333b8"/><stop offset="0.545" stop-color="#113aba"/><stop offset="0.557" stop-color="#1042bc"/><stop offset="0.568" stop-color="#0e4bbd"/><stop offset="0.580" stop-color="#0d54bd"/><stop offset="0.591" stop-color="#0d60bd"/><stop offset="0.602" stop-color="#0d6bbc"/><stop offset="0.614" stop-color="#0d78bb"/><stop offset="0.625" stop-color="#0d84ba"/><stop offset="0.636" stop-color="#0d91b8"/><stop offset="0.648" stop-color="#0d9eb8"/><stop offset="0.659" stop-color="#14a6b0"/><stop offset="0.670" stop-color="#1eaca7"/><stop offset="0.682" stop-color="#27b29d"/><stop offset="0.693" stop-color="#31b894"/><stop offset="0.705" stop-color="#41bc83"/><stop offset="0.716" stop-color="#55bd6e"/><stop offset="0.727" stop-color="#6abd59"/><stop offset="0.739" stop-color="#7ebd43"/><stop offset="0.750" stop-color="#90bd34"/><stop offset="0.761" stop-color="#a0bc2c"/><stop offset="0.773" stop-color="#afba25"/><stop offset="0.784" stop-color="#bfb81e"/><stop offset="0.795" stop-color="#c5b01a"/><stop offset="0.807" stop-color="#c5a51a"/><stop offset="0.818" stop-color="#c5991a"/><stop offset="0.830" stop-color="#c58e1a"/><stop offset="0.841" stop-color="#c5821a"/><stop offset="0.852" stop-color="#c5721a"/><stop offset="0.864" stop-color="#c5621a"/><stop offset="0.875" stop-color="#c5521a"/><stop offset="0.886" stop-color="#c5421a"/><stop offset="0.898" stop-color="#c2391a"/><stop offset="0.909" stop-color="#bf301a"/><stop offset="0.920" stop-color="#bc261a"/><stop offset="0.932" stop-color="#b81d1a"/><stop offset="0.943" stop-color="#b41919"/><stop offset="0.955" stop-color="#b01717"/><stop offset="0.966" stop-color="#ad1414"/><stop offset="0.977" stop-color="#ab1414"/><stop offset="0.989" stop-color="#ab1414"/><stop offset="1.000" stop-color="#ab1414"/></linearGradient><linearGradient id="Us1" gradientUnits="userSpaceOnUse" x1="0" y1="120" x2="0" y2="648"><stop offset="0.000" stop-color="#1111a6"/><stop offset="0.011" stop-color="#1111a7"/><stop offset="0.023" stop-color="#1111a7"/><stop offset="0.034" stop-color="#1111a7"/><stop offset="0.045" stop-color="#1111a7"/><stop offset="0.057" stop-color="#1111a7"/><stop offset="0.068" stop-color="#1111a7"/><stop offset="0.080" stop-color="#1111a8"/><stop offset="0.091" stop-color="#1111a8"/><stop offset="0.102" stop-color="#1111a8"/><stop offset="0.114" stop-color="#1111a9"/><stop offset="0.125" stop-color="#1111a9"/><stop offset="0.136" stop-color="#1111a9"/><stop offset="0.148" stop-color="#1111aa"/><stop offset="0.159" stop-color="#1111aa"/><stop offset="0.170" stop-color="#1111aa"/><stop offset="0.182" stop-color="#1212ab"/><stop offset="0.193" stop-color="#1212ab"/><stop offset="0.205" stop-color="#1212ab"/><stop offset="0.216" stop-color="#1212ac"/><stop offset="0.227" stop-color="#1212ac"/><stop offset="0.239" stop-color="#1212ac"/><stop offset="0.250" stop-color="#1212ad"/><stop offset="0.261" stop-color="#1212ad"/><stop offset="0.273" stop-color="#1212ad"/><stop offset="0.284" stop-color="#1212ae"/><stop offset="0.295" stop-color="#1313ae"/><stop offset="0.307" stop-color="#1313ae"/><stop offset="0.318" stop-color="#1313af"/><stop offset="0.330" stop-color="#1313af"/><stop offset="0.341" stop-color="#1313af"/><stop offset="0.352" stop-color="#1313b0"/><stop offset="0.364" stop-color="#1313b0"/><stop offset="0.375" stop-color="#1313b0"/><stop offset="0.386" stop-color="#1313b1"/><stop offset="0.398" stop-color="#1313b1"/><stop offset="0.409" stop-color="#1313b1"/><stop offset="0.420" stop-color="#1414b2"/><stop offset="0.432" stop-color="#1414b2"/><stop offset="0.443" stop-color="#1414b2"/><stop offset="0.455" stop-color="#1414b2"/><stop offset="0.466" stop-color="#1414b2"/><stop offset="0.477" stop-color="#1417b5"/><stop offset="0.489" stop-color="#151dbb"/><stop offset="0.500" stop-color="#1524c0"/><stop offset="0.511" stop-color="#152ac6"/><stop offset="0.523" stop-color="#1631cb"/><stop offset="0.534" stop-color="#1538cf"/><stop offset="0.545" stop-color="#1340d1"/><stop offset="0.557" stop-color="#114ad3"/><stop offset="0.568" stop-color="#1053d5"/><stop offset="0.580" stop-color="#0f5dd5"/><stop offset="0.591" stop-color="#0f6ad4"/><stop offset="0.602" stop-color="#0f78d3"/><stop offset="0.614" stop-color="#0f84d2"/><stop offset="0.625" stop-color="#0f93d1"/><stop offset="0.636" stop-color="#0fa1d0"/><stop offset="0.648" stop-color="#0fb0ce"/><stop offset="0.659" stop-color="#16b9c7"/><stop offset="0.670" stop-color="#20c0bd"/><stop offset="0.682" stop-color="#2bc7b2"/><stop offset="0.693" stop-color="#35cea7"/><stop offset="0.705" stop-color="#46d296"/><stop offset="0.716" stop-color="#5dd37e"/><stop offset="0.727" stop-color="#74d466"/><stop offset="0.739" stop-color="#8bd54e"/><stop offset="0.750" stop-color="#a0d53c"/><stop offset="0.761" stop-color="#b2d333"/><stop offset="0.773" stop-color="#c3d12a"/><stop offset="0.784" stop-color="#d5cf22"/><stop offset="0.795" stop-color="#ddc81d"/><stop offset="0.807" stop-color="#ddbb1d"/><stop offset="0.818" stop-color="#ddad1d"/><stop offset="0.830" stop-color="#dda01d"/><stop offset="0.841" stop-color="#dd931d"/><stop offset="0.852" stop-color="#dd821d"/><stop offset="0.864" stop-color="#dd701d"/><stop offset="0.875" stop-color="#dd5e1d"/><stop offset="0.886" stop-color="#dd4c1d"/><stop offset="0.898" stop-color="#da401d"/><stop offset="0.909" stop-color="#d6361d"/><stop offset="0.920" stop-color="#d32b1d"/><stop offset="0.932" stop-color="#cf211d"/><stop offset="0.943" stop-color="#cb1c1c"/><stop offset="0.955" stop-color="#c71a1a"/><stop offset="0.966" stop-color="#c21818"/><stop offset="0.977" stop-color="#bf1616"/><stop offset="0.989" stop-color="#bf1616"/><stop offset="1.000" stop-color="#bf1616"/></linearGradient><linearGradient id="Us2" gradientUnits="userSpaceOnUse" x1="0" y1="120" x2="0" y2="648"><stop offset="0.000" stop-color="#1212b0"/><stop offset="0.011" stop-color="#1212b1"/><stop offset="0.023" stop-color="#1212b1"/><stop offset="0.034" stop-color="#1212b1"/><stop offset="0.045" stop-color="#1212b2"/><stop offset="0.057" stop-color="#1313b2"/><stop offset="0.068" stop-color="#1313b2"/><stop offset="0.080" stop-color="#1313b3"/><stop offset="0.091" stop-color="#1313b3"/><stop offset="0.102" stop-color="#1313b3"/><stop offset="0.114" stop-color="#1313b4"/><stop offset="0.125" stop-color="#1313b4"/><stop offset="0.136" stop-color="#1313b4"/><stop offset="0.148" stop-color="#1313b5"/><stop offset="0.159" stop-color="#1313b5"/><stop offset="0.170" stop-color="#1313b5"/><stop offset="0.182" stop-color="#1414b5"/><stop offset="0.193" stop-color="#1414b6"/><stop offset="0.205" stop-color="#1414b6"/><stop offset="0.216" stop-color="#1414b6"/><stop offset="0.227" stop-color="#1414b7"/><stop offset="0.239" stop-color="#1414b7"/><stop offset="0.250" stop-color="#1414b7"/><stop offset="0.261" stop-color="#1414b8"/><stop offset="0.273" stop-color="#1414b8"/><stop offset="0.284" stop-color="#1414b8"/><stop offset="0.295" stop-color="#1515b9"/><stop offset="0.307" stop-color="#1515b9"/><stop offset="0.318" stop-color="#1515b9"/><stop offset="0.330" stop-color="#1515ba"/><stop offset="0.341" stop-color="#1515ba"/><stop offset="0.352" stop-color="#1515ba"/><stop offset="0.364" stop-color="#1515bb"/><stop offset="0.375" stop-color="#1515bb"/><stop offset="0.386" stop-color="#1515bb"/><stop offset="0.398" stop-color="#1515bc"/><stop offset="0.409" stop-color="#1515bc"/><stop offset="0.420" stop-color="#1616bc"/><stop offset="0.432" stop-color="#1616bd"/><stop offset="0.443" stop-color="#1616bd"/><stop offset="0.455" stop-color="#1616bd"/><stop offset="0.466" stop-color="#1616be"/><stop offset="0.477" stop-color="#1618c0"/><stop offset="0.489" stop-color="#171ec6"/><stop offset="0.500" stop-color="#1725cc"/><stop offset="0.511" stop-color="#172cd2"/><stop offset="0.523" stop-color="#1833d8"/><stop offset="0.534" stop-color="#173bdc"/><stop offset="0.545" stop-color="#1544de"/><stop offset="0.557" stop-color="#134de0"/><stop offset="0.568" stop-color="#1157e2"/><stop offset="0.580" stop-color="#1061e3"/><stop offset="0.591" stop-color="#1070e2"/><stop offset="0.602" stop-color="#107de0"/><stop offset="0.614" stop-color="#108bdf"/><stop offset="0.625" stop-color="#109bde"/><stop offset="0.636" stop-color="#10aadd"/><stop offset="0.648" stop-color="#10b9dc"/><stop offset="0.659" stop-color="#16c4d6"/><stop offset="0.670" stop-color="#21ccca"/><stop offset="0.682" stop-color="#2cd4bf"/><stop offset="0.693" stop-color="#38dbb3"/><stop offset="0.705" stop-color="#49dfa3"/><stop offset="0.716" stop-color="#61e089"/><stop offset="0.727" stop-color="#7ae170"/><stop offset="0.739" stop-color="#92e256"/><stop offset="0.750" stop-color="#a9e341"/><stop offset="0.761" stop-color="#bbe038"/><stop offset="0.773" stop-color="#cede2e"/><stop offset="0.784" stop-color="#e0dc25"/><stop offset="0.795" stop-color="#ebd61f"/><stop offset="0.807" stop-color="#ebc81f"/><stop offset="0.818" stop-color="#ebba1f"/><stop offset="0.830" stop-color="#ebac1f"/><stop offset="0.841" stop-color="#eb9f1f"/><stop offset="0.852" stop-color="#eb8c1f"/><stop offset="0.864" stop-color="#eb7a1f"/><stop offset="0.875" stop-color="#eb671f"/><stop offset="0.886" stop-color="#eb531f"/><stop offset="0.898" stop-color="#e8471f"/><stop offset="0.909" stop-color="#e43b1f"/><stop offset="0.920" stop-color="#e1301f"/><stop offset="0.932" stop-color="#dd241f"/><stop offset="0.943" stop-color="#d91e1e"/><stop offset="0.955" stop-color="#d51b1b"/><stop offset="0.966" stop-color="#d01919"/><stop offset="0.977" stop-color="#cc1818"/><stop offset="0.989" stop-color="#cc1818"/><stop offset="1.000" stop-color="#cc1818"/></linearGradient><linearGradient id="Us3" gradientUnits="userSpaceOnUse" x1="0" y1="120" x2="0" y2="648"><stop offset="0.000" stop-color="#1212b0"/><stop offset="0.011" stop-color="#1212b0"/><stop offset="0.023" stop-color="#1212b1"/><stop offset="0.034" stop-color="#1212b1"/><stop offset="0.045" stop-color="#1212b1"/><stop offset="0.057" stop-color="#1313b2"/><stop offset="0.068" stop-color="#1313b2"/><stop offset="0.080" stop-color="#1313b2"/><stop offset="0.091" stop-color="#1313b3"/><stop offset="0.102" stop-color="#1313b3"/><stop offset="0.114" stop-color="#1313b3"/><stop offset="0.125" stop-color="#1313b4"/><stop offset="0.136" stop-color="#1313b4"/><stop offset="0.148" stop-color="#1313b4"/><stop offset="0.159" stop-color="#1313b5"/><stop offset="0.170" stop-color="#1313b5"/><stop offset="0.182" stop-color="#1414b5"/><stop offset="0.193" stop-color="#1414b6"/><stop offset="0.205" stop-color="#1414b6"/><stop offset="0.216" stop-color="#1414b6"/><stop offset="0.227" stop-color="#1414b7"/><stop offset="0.239" stop-color="#1414b7"/><stop offset="0.250" stop-color="#1414b7"/><stop offset="0.261" stop-color="#1414b8"/><stop offset="0.273" stop-color="#1414b8"/><stop offset="0.284" stop-color="#1414b8"/><stop offset="0.295" stop-color="#1515b9"/><stop offset="0.307" stop-color="#1515b9"/><stop offset="0.318" stop-color="#1515b9"/><stop offset="0.330" stop-color="#1515ba"/><stop offset="0.341" stop-color="#1515ba"/><stop offset="0.352" stop-color="#1515ba"/><stop offset="0.364" stop-color="#1515bb"/><stop offset="0.375" stop-color="#1515bb"/><stop offset="0.386" stop-color="#1515bb"/><stop offset="0.398" stop-color="#1515bc"/><stop offset="0.409" stop-color="#1515bc"/><stop offset="0.420" stop-color="#1616bc"/><stop offset="0.432" stop-color="#1616bd"/><stop offset="0.443" stop-color="#1616bd"/><stop offset="0.455" stop-color="#1616bd"/><stop offset="0.466" stop-color="#1616be"/><stop offset="0.477" stop-color="#1618c0"/><stop offset="0.489" stop-color="#171ec6"/><stop offset="0.500" stop-color="#1724cc"/><stop offset="0.511" stop-color="#172bd2"/><stop offset="0.523" stop-color="#1832d8"/><stop offset="0.534" stop-color="#173adc"/><stop offset="0.545" stop-color="#1643dd"/><stop offset="0.557" stop-color="#144cdf"/><stop offset="0.568" stop-color="#1255e1"/><stop offset="0.580" stop-color="#1060e3"/><stop offset="0.591" stop-color="#106ee2"/><stop offset="0.602" stop-color="#107be0"/><stop offset="0.614" stop-color="#108adf"/><stop offset="0.625" stop-color="#1099de"/><stop offset="0.636" stop-color="#10a9dd"/><stop offset="0.648" stop-color="#10b7dc"/><stop offset="0.659" stop-color="#15c3d7"/><stop offset="0.670" stop-color="#20cbcb"/><stop offset="0.682" stop-color="#2bd3c0"/><stop offset="0.693" stop-color="#37dab4"/><stop offset="0.705" stop-color="#46dfa6"/><stop offset="0.716" stop-color="#5ee08c"/><stop offset="0.727" stop-color="#77e173"/><stop offset="0.739" stop-color="#8fe259"/><stop offset="0.750" stop-color="#a7e342"/><stop offset="0.761" stop-color="#b9e139"/><stop offset="0.773" stop-color="#ccdf2f"/><stop offset="0.784" stop-color="#dddd26"/><stop offset="0.795" stop-color="#ebd81f"/><stop offset="0.807" stop-color="#ebca1f"/><stop offset="0.818" stop-color="#ebbc1f"/><stop offset="0.830" stop-color="#ebad1f"/><stop offset="0.841" stop-color="#eba01f"/><stop offset="0.852" stop-color="#eb8e1f"/><stop offset="0.864" stop-color="#eb7b1f"/><stop offset="0.875" stop-color="#eb691f"/><stop offset="0.886" stop-color="#eb551f"/><stop offset="0.898" stop-color="#e9481f"/><stop offset="0.909" stop-color="#e53c1f"/><stop offset="0.920" stop-color="#e1311f"/><stop offset="0.932" stop-color="#dd251f"/><stop offset="0.943" stop-color="#da1e1e"/><stop offset="0.955" stop-color="#d51c1c"/><stop offset="0.966" stop-color="#d01919"/><stop offset="0.977" stop-color="#cc1818"/><stop offset="0.989" stop-color="#cc1818"/><stop offset="1.000" stop-color="#cc1818"/></linearGradient><linearGradient id="Us4" gradientUnits="userSpaceOnUse" x1="0" y1="120" x2="0" y2="648"><stop offset="0.000" stop-color="#1212b0"/><stop offset="0.011" stop-color="#1212b0"/><stop offset="0.023" stop-color="#1212b1"/><stop offset="0.034" stop-color="#1212b1"/><stop offset="0.045" stop-color="#1212b1"/><stop offset="0.057" stop-color="#1313b2"/><stop offset="0.068" stop-color="#1313b2"/><stop offset="0.080" stop-color="#1313b2"/><stop offset="0.091" stop-color="#1313b3"/><stop offset="0.102" stop-color="#1313b3"/><stop offset="0.114" stop-color="#1313b3"/><stop offset="0.125" stop-color="#1313b4"/><stop offset="0.136" stop-color="#1313b4"/><stop offset="0.148" stop-color="#1313b4"/><stop offset="0.159" stop-color="#1313b5"/><stop offset="0.170" stop-color="#1313b5"/><stop offset="0.182" stop-color="#1414b5"/><stop offset="0.193" stop-color="#1414b6"/><stop offset="0.205" stop-color="#1414b6"/><stop offset="0.216" stop-color="#1414b6"/><stop offset="0.227" stop-color="#1414b7"/><stop offset="0.239" stop-color="#1414b7"/><stop offset="0.250" stop-color="#1414b7"/><stop offset="0.261" stop-color="#1414b8"/><stop offset="0.273" stop-color="#1414b8"/><stop offset="0.284" stop-color="#1414b8"/><stop offset="0.295" stop-color="#1414b9"/><stop offset="0.307" stop-color="#1515b9"/><stop offset="0.318" stop-color="#1515b9"/><stop offset="0.330" stop-color="#1515ba"/><stop offset="0.341" stop-color="#1515ba"/><stop offset="0.352" stop-color="#1515ba"/><stop offset="0.364" stop-color="#1515bb"/><stop offset="0.375" stop-color="#1515bb"/><stop offset="0.386" stop-color="#1515bb"/><stop offset="0.398" stop-color="#1515bc"/><stop offset="0.409" stop-color="#1515bc"/><stop offset="0.420" stop-color="#1616bc"/><stop offset="0.432" stop-color="#1616bd"/><stop offset="0.443" stop-color="#1616bd"/><stop offset="0.455" stop-color="#1616bd"/><stop offset="0.466" stop-color="#1616be"/><stop offset="0.477" stop-color="#1617bf"/><stop offset="0.489" stop-color="#161dc5"/><stop offset="0.500" stop-color="#1724cb"/><stop offset="0.511" stop-color="#172bd1"/><stop offset="0.523" stop-color="#1831d7"/><stop offset="0.534" stop-color="#1839dc"/><stop offset="0.545" stop-color="#1642dd"/><stop offset="0.557" stop-color="#144bdf"/><stop offset="0.568" stop-color="#1254e1"/><stop offset="0.580" stop-color="#105ee3"/><stop offset="0.591" stop-color="#106ce2"/><stop offset="0.602" stop-color="#107ae1"/><stop offset="0.614" stop-color="#1088df"/><stop offset="0.625" stop-color="#1097de"/><stop offset="0.636" stop-color="#10a7dd"/><stop offset="0.648" stop-color="#10b6dc"/><stop offset="0.659" stop-color="#14c3d8"/><stop offset="0.670" stop-color="#1ecacd"/><stop offset="0.682" stop-color="#2ad2c1"/><stop offset="0.693" stop-color="#35dab6"/><stop offset="0.705" stop-color="#43dfa9"/><stop offset="0.716" stop-color="#5be08f"/><stop offset="0.727" stop-color="#74e176"/><stop offset="0.739" stop-color="#8ce25c"/><stop offset="0.750" stop-color="#a5e343"/><stop offset="0.761" stop-color="#b7e13a"/><stop offset="0.773" stop-color="#cadf30"/><stop offset="0.784" stop-color="#dcdd27"/><stop offset="0.795" stop-color="#ebda1f"/><stop offset="0.807" stop-color="#ebcb1f"/><stop offset="0.818" stop-color="#ebbd1f"/><stop offset="0.830" stop-color="#ebaf1f"/><stop offset="0.841" stop-color="#eba21f"/><stop offset="0.852" stop-color="#eb901f"/><stop offset="0.864" stop-color="#eb7d1f"/><stop offset="0.875" stop-color="#eb6b1f"/><stop offset="0.886" stop-color="#eb581f"/><stop offset="0.898" stop-color="#e9491f"/><stop offset="0.909" stop-color="#e53e1f"/><stop offset="0.920" stop-color="#e1321f"/><stop offset="0.932" stop-color="#de271f"/><stop offset="0.943" stop-color="#da1e1e"/><stop offset="0.955" stop-color="#d61c1c"/><stop offset="0.966" stop-color="#d11919"/><stop offset="0.977" stop-color="#cc1818"/><stop offset="0.989" stop-color="#cc1818"/><stop offset="1.000" stop-color="#cc1818"/></linearGradient><linearGradient id="Us5" gradientUnits="userSpaceOnUse" x1="0" y1="120" x2="0" y2="648"><stop offset="0.000" stop-color="#1212b0"/><stop offset="0.011" stop-color="#1212b0"/><stop offset="0.023" stop-color="#1212b1"/><stop offset="0.034" stop-color="#1212b1"/><stop offset="0.045" stop-color="#1212b1"/><stop offset="0.057" stop-color="#1212b2"/><stop offset="0.068" stop-color="#1313b2"/><stop offset="0.080" stop-color="#1313b2"/><stop offset="0.091" stop-color="#1313b3"/><stop offset="0.102" stop-color="#1313b3"/><stop offset="0.114" stop-color="#1313b3"/><stop offset="0.125" stop-color="#1313b4"/><stop offset="0.136" stop-color="#1313b4"/><stop offset="0.148" stop-color="#1313b4"/><stop offset="0.159" stop-color="#1313b5"/><stop offset="0.170" stop-color="#1313b5"/><stop offset="0.182" stop-color="#1414b5"/><stop offset="0.193" stop-color="#1414b6"/><stop offset="0.205" stop-color="#1414b6"/><stop offset="0.216" stop-color="#1414b6"/><stop offset="0.227" stop-color="#1414b7"/><stop offset="0.239" stop-color="#1414b7"/><stop offset="0.250" stop-color="#1414b7"/><stop offset="0.261" stop-color="#1414b8"/><stop offset="0.273" stop-color="#1414b8"/><stop offset="0.284" stop-color="#1414b8"/><stop offset="0.295" stop-color="#1414b9"/><stop offset="0.307" stop-color="#1515b9"/><stop offset="0.318" stop-color="#1515b9"/><stop offset="0.330" stop-color="#1515ba"/><stop offset="0.341" stop-color="#1515ba"/><stop offset="0.352" stop-color="#1515ba"/><stop offset="0.364" stop-color="#1515bb"/><stop offset="0.375" stop-color="#1515bb"/><stop offset="0.386" stop-color="#1515bb"/><stop offset="0.398" stop-color="#1515bc"/><stop offset="0.409" stop-color="#1515bc"/><stop offset="0.420" stop-color="#1616bc"/><stop offset="0.432" stop-color="#1616bd"/><stop offset="0.443" stop-color="#1616bd"/><stop offset="0.455" stop-color="#1616bd"/><stop offset="0.466" stop-color="#1616be"/><stop offset="0.477" stop-color="#1616be"/><stop offset="0.489" stop-color="#161cc4"/><stop offset="0.500" stop-color="#1723ca"/><stop offset="0.511" stop-color="#172ad0"/><stop offset="0.523" stop-color="#1831d6"/><stop offset="0.534" stop-color="#1838dc"/><stop offset="0.545" stop-color="#1641dd"/><stop offset="0.557" stop-color="#144adf"/><stop offset="0.568" stop-color="#1253e1"/><stop offset="0.580" stop-color="#105de3"/><stop offset="0.591" stop-color="#106be2"/><stop offset="0.602" stop-color="#1079e1"/><stop offset="0.614" stop-color="#1087e0"/><stop offset="0.625" stop-color="#1096de"/><stop offset="0.636" stop-color="#10a5dd"/><stop offset="0.648" stop-color="#10b4dc"/><stop offset="0.659" stop-color="#13c2d9"/><stop offset="0.670" stop-color="#1dc9ce"/><stop offset="0.682" stop-color="#29d1c2"/><stop offset="0.693" stop-color="#34d9b7"/><stop offset="0.705" stop-color="#40dfac"/><stop offset="0.716" stop-color="#58e092"/><stop offset="0.727" stop-color="#71e179"/><stop offset="0.739" stop-color="#89e25f"/><stop offset="0.750" stop-color="#a2e346"/><stop offset="0.761" stop-color="#b5e13b"/><stop offset="0.773" stop-color="#c7df31"/><stop offset="0.784" stop-color="#dadd28"/><stop offset="0.795" stop-color="#ebdb1f"/><stop offset="0.807" stop-color="#ebcd1f"/><stop offset="0.818" stop-color="#ebbf1f"/><stop offset="0.830" stop-color="#ebb11f"/><stop offset="0.841" stop-color="#eba31f"/><stop offset="0.852" stop-color="#eb921f"/><stop offset="0.864" stop-color="#eb7f1f"/><stop offset="0.875" stop-color="#eb6d1f"/><stop offset="0.886" stop-color="#eb5a1f"/><stop offset="0.898" stop-color="#ea4a1f"/><stop offset="0.909" stop-color="#e63f1f"/><stop offset="0.920" stop-color="#e2331f"/><stop offset="0.932" stop-color="#de281f"/><stop offset="0.943" stop-color="#db1e1e"/><stop offset="0.955" stop-color="#d61c1c"/><stop offset="0.966" stop-color="#d11a1a"/><stop offset="0.977" stop-color="#cd1818"/><stop offset="0.989" stop-color="#cc1818"/><stop offset="1.000" stop-color="#cc1818"/></linearGradient><linearGradient id="Us6" gradientUnits="userSpaceOnUse" x1="0" y1="120" x2="0" y2="648"><stop offset="0.000" stop-color="#1919b6"/><stop offset="0.011" stop-color="#1919b6"/><stop offset="0.023" stop-color="#1919b7"/><stop offset="0.034" stop-color="#1919b7"/><stop offset="0.045" stop-color="#1919b7"/><stop offset="0.057" stop-color="#1919b8"/><stop offset="0.068" stop-color="#1a1ab8"/><stop offset="0.080" stop-color="#1a1ab8"/><stop offset="0.091" stop-color="#1a1ab9"/><stop offset="0.102" stop-color="#1a1ab9"/><stop offset="0.114" stop-color="#1a1ab9"/><stop offset="0.125" stop-color="#1a1aba"/><stop offset="0.136" stop-color="#1a1aba"/><stop offset="0.148" stop-color="#1a1aba"/><stop offset="0.159" stop-color="#1a1abb"/><stop offset="0.170" stop-color="#1a1abb"/><stop offset="0.182" stop-color="#1b1bbb"/><stop offset="0.193" stop-color="#1b1bbc"/><stop offset="0.205" stop-color="#1b1bbc"/><stop offset="0.216" stop-color="#1b1bbc"/><stop offset="0.227" stop-color="#1b1bbd"/><stop offset="0.239" stop-color="#1b1bbd"/><stop offset="0.250" stop-color="#1b1bbd"/><stop offset="0.261" stop-color="#1b1bbe"/><stop offset="0.273" stop-color="#1b1bbe"/><stop offset="0.284" stop-color="#1b1bbe"/><stop offset="0.295" stop-color="#1b1bbf"/><stop offset="0.307" stop-color="#1c1cbf"/><stop offset="0.318" stop-color="#1c1cbf"/><stop offset="0.330" stop-color="#1c1cc0"/><stop offset="0.341" stop-color="#1c1cc0"/><stop offset="0.352" stop-color="#1c1cc0"/><stop offset="0.364" stop-color="#1c1cc1"/><stop offset="0.375" stop-color="#1c1cc1"/><stop offset="0.386" stop-color="#1c1cc1"/><stop offset="0.398" stop-color="#1c1cc2"/><stop offset="0.409" stop-color="#1c1cc2"/><stop offset="0.420" stop-color="#1d1dc2"/><stop offset="0.432" stop-color="#1d1dc3"/><stop offset="0.443" stop-color="#1d1dc3"/><stop offset="0.455" stop-color="#1d1dc3"/><stop offset="0.466" stop-color="#1d1dc4"/><stop offset="0.477" stop-color="#1d1dc4"/><stop offset="0.489" stop-color="#1d23ca"/><stop offset="0.500" stop-color="#1e2acf"/><stop offset="0.511" stop-color="#1e30d5"/><stop offset="0.523" stop-color="#1f37db"/><stop offset="0.534" stop-color="#1f3ee1"/><stop offset="0.545" stop-color="#1d47e3"/><stop offset="0.557" stop-color="#1b50e5"/><stop offset="0.568" stop-color="#1959e7"/><stop offset="0.580" stop-color="#1763e9"/><stop offset="0.591" stop-color="#176fe8"/><stop offset="0.602" stop-color="#177ee7"/><stop offset="0.614" stop-color="#178ce6"/><stop offset="0.625" stop-color="#179ae4"/><stop offset="0.636" stop-color="#17aae3"/><stop offset="0.648" stop-color="#17b8e2"/><stop offset="0.659" stop-color="#18c7e0"/><stop offset="0.670" stop-color="#24ced4"/><stop offset="0.682" stop-color="#2ed5ca"/><stop offset="0.693" stop-color="#3addbe"/><stop offset="0.705" stop-color="#45e5b3"/><stop offset="0.716" stop-color="#5de69b"/><stop offset="0.727" stop-color="#75e782"/><stop offset="0.739" stop-color="#8de869"/><stop offset="0.750" stop-color="#a5e94f"/><stop offset="0.761" stop-color="#b9e743"/><stop offset="0.773" stop-color="#cbe539"/><stop offset="0.784" stop-color="#dde330"/><stop offset="0.795" stop-color="#efe128"/><stop offset="0.807" stop-color="#f0d427"/><stop offset="0.818" stop-color="#f0c627"/><stop offset="0.830" stop-color="#f0b827"/><stop offset="0.841" stop-color="#f0ab27"/><stop offset="0.852" stop-color="#f09a27"/><stop offset="0.864" stop-color="#f08827"/><stop offset="0.875" stop-color="#f07527"/><stop offset="0.886" stop-color="#f06327"/><stop offset="0.898" stop-color="#ef5227"/><stop offset="0.909" stop-color="#ec4727"/><stop offset="0.920" stop-color="#e83c27"/><stop offset="0.932" stop-color="#e43027"/><stop offset="0.943" stop-color="#e02727"/><stop offset="0.955" stop-color="#dc2424"/><stop offset="0.966" stop-color="#d72222"/><stop offset="0.977" stop-color="#d22020"/><stop offset="0.989" stop-color="#d11f1f"/><stop offset="1.000" stop-color="#d11f1f"/></linearGradient><linearGradient id="Us7" gradientUnits="userSpaceOnUse" x1="0" y1="120" x2="0" y2="648"><stop offset="0.000" stop-color="#1919b6"/><stop offset="0.011" stop-color="#1919b6"/><stop offset="0.023" stop-color="#1919b7"/><stop offset="0.034" stop-color="#1919b7"/><stop offset="0.045" stop-color="#1919b7"/><stop offset="0.057" stop-color="#1919b8"/><stop offset="0.068" stop-color="#1a1ab8"/><stop offset="0.080" stop-color="#1a1ab8"/><stop offset="0.091" stop-color="#1a1ab9"/><stop offset="0.102" stop-color="#1a1ab9"/><stop offset="0.114" stop-color="#1a1ab9"/><stop offset="0.125" stop-color="#1a1aba"/><stop offset="0.136" stop-color="#1a1aba"/><stop offset="0.148" stop-color="#1a1aba"/><stop offset="0.159" stop-color="#1a1abb"/><stop offset="0.170" stop-color="#1a1abb"/><stop offset="0.182" stop-color="#1b1bbb"/><stop offset="0.193" stop-color="#1b1bbc"/><stop offset="0.205" stop-color="#1b1bbc"/><stop offset="0.216" stop-color="#1b1bbc"/><stop offset="0.227" stop-color="#1b1bbd"/><stop offset="0.239" stop-color="#1b1bbd"/><stop offset="0.250" stop-color="#1b1bbd"/><stop offset="0.261" stop-color="#1b1bbe"/><stop offset="0.273" stop-color="#1b1bbe"/><stop offset="0.284" stop-color="#1b1bbe"/><stop offset="0.295" stop-color="#1b1bbf"/><stop offset="0.307" stop-color="#1c1cbf"/><stop offset="0.318" stop-color="#1c1cbf"/><stop offset="0.330" stop-color="#1c1cc0"/><stop offset="0.341" stop-color="#1c1cc0"/><stop offset="0.352" stop-color="#1c1cc0"/><stop offset="0.364" stop-color="#1c1cc1"/><stop offset="0.375" stop-color="#1c1cc1"/><stop offset="0.386" stop-color="#1c1cc1"/><stop offset="0.398" stop-color="#1c1cc2"/><stop offset="0.409" stop-color="#1c1cc2"/><stop offset="0.420" stop-color="#1d1dc2"/><stop offset="0.432" stop-color="#1d1dc3"/><stop offset="0.443" stop-color="#1d1dc3"/><stop offset="0.455" stop-color="#1d1dc3"/><stop offset="0.466" stop-color="#1d1dc4"/><stop offset="0.477" stop-color="#1d1dc4"/><stop offset="0.489" stop-color="#1d23c9"/><stop offset="0.500" stop-color="#1e29ce"/><stop offset="0.511" stop-color="#1e2fd4"/><stop offset="0.523" stop-color="#1f36da"/><stop offset="0.534" stop-color="#1f3de0"/><stop offset="0.545" stop-color="#1d46e3"/><stop offset="0.557" stop-color="#1b4fe5"/><stop offset="0.568" stop-color="#1a58e6"/><stop offset="0.580" stop-color="#1862e8"/><stop offset="0.591" stop-color="#176ee8"/><stop offset="0.602" stop-color="#177ce7"/><stop offset="0.614" stop-color="#178ae6"/><stop offset="0.625" stop-color="#1798e5"/><stop offset="0.636" stop-color="#17a8e3"/><stop offset="0.648" stop-color="#17b6e2"/><stop offset="0.659" stop-color="#17c6e1"/><stop offset="0.670" stop-color="#23ced5"/><stop offset="0.682" stop-color="#2dd4cb"/><stop offset="0.693" stop-color="#39dcbf"/><stop offset="0.705" stop-color="#44e4b4"/><stop offset="0.716" stop-color="#5ae69d"/><stop offset="0.727" stop-color="#72e784"/><stop offset="0.739" stop-color="#8be86c"/><stop offset="0.750" stop-color="#a3e952"/><stop offset="0.761" stop-color="#b7e844"/><stop offset="0.773" stop-color="#c9e63a"/><stop offset="0.784" stop-color="#dbe331"/><stop offset="0.795" stop-color="#eee129"/><stop offset="0.807" stop-color="#f0d527"/><stop offset="0.818" stop-color="#f0c827"/><stop offset="0.830" stop-color="#f0ba27"/><stop offset="0.841" stop-color="#f0ac27"/><stop offset="0.852" stop-color="#f09d27"/><stop offset="0.864" stop-color="#f08a27"/><stop offset="0.875" stop-color="#f07727"/><stop offset="0.886" stop-color="#f06527"/><stop offset="0.898" stop-color="#ef5327"/><stop offset="0.909" stop-color="#ed4927"/><stop offset="0.920" stop-color="#e93d27"/><stop offset="0.932" stop-color="#e53227"/><stop offset="0.943" stop-color="#e12727"/><stop offset="0.955" stop-color="#dc2525"/><stop offset="0.966" stop-color="#d72222"/><stop offset="0.977" stop-color="#d32020"/><stop offset="0.989" stop-color="#d11f1f"/><stop offset="1.000" stop-color="#d11f1f"/></linearGradient><linearGradient id="Us8" gradientUnits="userSpaceOnUse" x1="0" y1="120" x2="0" y2="648"><stop offset="0.000" stop-color="#1919b6"/><stop offset="0.011" stop-color="#1919b6"/><stop offset="0.023" stop-color="#1919b7"/><stop offset="0.034" stop-color="#1919b7"/><stop offset="0.045" stop-color="#1919b7"/><stop offset="0.057" stop-color="#1919b8"/><stop offset="0.068" stop-color="#1a1ab8"/><stop offset="0.080" stop-color="#1a1ab8"/><stop offset="0.091" stop-color="#1a1ab9"/><stop offset="0.102" stop-color="#1a1ab9"/><stop offset="0.114" stop-color="#1a1ab9"/><stop offset="0.125" stop-color="#1a1aba"/><stop offset="0.136" stop-color="#1a1aba"/><stop offset="0.148" stop-color="#1a1aba"/><stop offset="0.159" stop-color="#1a1abb"/><stop offset="0.170" stop-color="#1a1abb"/><stop offset="0.182" stop-color="#1b1bbb"/><stop offset="0.193" stop-color="#1b1bbc"/><stop offset="0.205" stop-color="#1b1bbc"/><stop offset="0.216" stop-color="#1b1bbc"/><stop offset="0.227" stop-color="#1b1bbd"/><stop offset="0.239" stop-color="#1b1bbd"/><stop offset="0.250" stop-color="#1b1bbd"/><stop offset="0.261" stop-color="#1b1bbe"/><stop offset="0.273" stop-color="#1b1bbe"/><stop offset="0.284" stop-color="#1b1bbe"/><stop offset="0.295" stop-color="#1b1bbf"/><stop offset="0.307" stop-color="#1c1cbf"/><stop offset="0.318" stop-color="#1c1cbf"/><stop offset="0.330" stop-color="#1c1cc0"/><stop offset="0.341" stop-color="#1c1cc0"/><stop offset="0.352" stop-color="#1c1cc0"/><stop offset="0.364" stop-color="#1c1cc1"/><stop offset="0.375" stop-color="#1c1cc1"/><stop offset="0.386" stop-color="#1c1cc1"/><stop offset="0.398" stop-color="#1c1cc2"/><stop offset="0.409" stop-color="#1c1cc2"/><stop offset="0.420" stop-color="#1c1cc2"/><stop offset="0.432" stop-color="#1d1dc3"/><stop offset="0.443" stop-color="#1d1dc3"/><stop offset="0.455" stop-color="#1d1dc3"/><stop offset="0.466" stop-color="#1d1dc4"/><stop offset="0.477" stop-color="#1d1dc4"/><stop offset="0.489" stop-color="#1d22c8"/><stop offset="0.500" stop-color="#1e29ce"/><stop offset="0.511" stop-color="#1e2fd3"/><stop offset="0.523" stop-color="#1e35d9"/><stop offset="0.534" stop-color="#1f3cdf"/><stop offset="0.545" stop-color="#1e45e2"/><stop offset="0.557" stop-color="#1c4ee4"/><stop offset="0.568" stop-color="#1a57e6"/><stop offset="0.580" stop-color="#1861e8"/><stop offset="0.591" stop-color="#176de8"/><stop offset="0.602" stop-color="#177ae7"/><stop offset="0.614" stop-color="#1789e6"/><stop offset="0.625" stop-color="#1795e5"/><stop offset="0.636" stop-color="#17a5e4"/><stop offset="0.648" stop-color="#17b4e2"/><stop offset="0.659" stop-color="#17c3e1"/><stop offset="0.670" stop-color="#21cdd7"/><stop offset="0.682" stop-color="#2dd4cc"/><stop offset="0.693" stop-color="#37dbc1"/><stop offset="0.705" stop-color="#43e3b5"/><stop offset="0.716" stop-color="#56e6a1"/><stop offset="0.727" stop-color="#6ee788"/><stop offset="0.739" stop-color="#87e86e"/><stop offset="0.750" stop-color="#9fe956"/><stop offset="0.761" stop-color="#b3e846"/><stop offset="0.773" stop-color="#c6e63c"/><stop offset="0.784" stop-color="#d8e432"/><stop offset="0.795" stop-color="#ebe22a"/><stop offset="0.807" stop-color="#efd727"/><stop offset="0.818" stop-color="#f0ca27"/><stop offset="0.830" stop-color="#f0bb27"/><stop offset="0.841" stop-color="#f0ae27"/><stop offset="0.852" stop-color="#f0a027"/><stop offset="0.864" stop-color="#f08e27"/><stop offset="0.875" stop-color="#f07a27"/><stop offset="0.886" stop-color="#f06827"/><stop offset="0.898" stop-color="#f05527"/><stop offset="0.909" stop-color="#ed4b27"/><stop offset="0.920" stop-color="#e93f27"/><stop offset="0.932" stop-color="#e53327"/><stop offset="0.943" stop-color="#e12827"/><stop offset="0.955" stop-color="#dd2525"/><stop offset="0.966" stop-color="#d82222"/><stop offset="0.977" stop-color="#d32020"/><stop offset="0.989" stop-color="#d11f1f"/><stop offset="1.000" stop-color="#d11f1f"/></linearGradient><linearGradient id="Us9" gradientUnits="userSpaceOnUse" x1="0" y1="120" x2="0" y2="648"><stop offset="0.000" stop-color="#1212b0"/><stop offset="0.011" stop-color="#1212b0"/><stop offset="0.023" stop-color="#1212b1"/><stop offset="0.034" stop-color="#1212b1"/><stop offset="0.045" stop-color="#1212b1"/><stop offset="0.057" stop-color="#1212b2"/><stop offset="0.068" stop-color="#1313b2"/><stop offset="0.080" stop-color="#1313b2"/><stop offset="0.091" stop-color="#1313b3"/><stop offset="0.102" stop-color="#1313b3"/><stop offset="0.114" stop-color="#1313b3"/><stop offset="0.125" stop-color="#1313b4"/><stop offset="0.136" stop-color="#1313b4"/><stop offset="0.148" stop-color="#1313b4"/><stop offset="0.159" stop-color="#1313b5"/><stop offset="0.170" stop-color="#1313b5"/><stop offset="0.182" stop-color="#1313b5"/><stop offset="0.193" stop-color="#1414b6"/><stop offset="0.205" stop-color="#1414b6"/><stop offset="0.216" stop-color="#1414b6"/><stop offset="0.227" stop-color="#1414b7"/><stop offset="0.239" stop-color="#1414b7"/><stop offset="0.250" stop-color="#1414b7"/><stop offset="0.261" stop-color="#1414b8"/><stop offset="0.273" stop-color="#1414b8"/><stop offset="0.284" stop-color="#1414b8"/><stop offset="0.295" stop-color="#1414b9"/><stop offset="0.307" stop-color="#1515b9"/><stop offset="0.318" stop-color="#1515b9"/><stop offset="0.330" stop-color="#1515ba"/><stop offset="0.341" stop-color="#1515ba"/><stop offset="0.352" stop-color="#1515ba"/><stop offset="0.364" stop-color="#1515bb"/><stop offset="0.375" stop-color="#1515bb"/><stop offset="0.386" stop-color="#1515bb"/><stop offset="0.398" stop-color="#1515bc"/><stop offset="0.409" stop-color="#1515bc"/><stop offset="0.420" stop-color="#1515bc"/><stop offset="0.432" stop-color="#1616bd"/><stop offset="0.443" stop-color="#1616bd"/><stop offset="0.455" stop-color="#1616bd"/><stop offset="0.466" stop-color="#1616be"/><stop offset="0.477" stop-color="#1616be"/><stop offset="0.489" stop-color="#1618c1"/><stop offset="0.500" stop-color="#171fc7"/><stop offset="0.511" stop-color="#1725cc"/><stop offset="0.523" stop-color="#172bd2"/><stop offset="0.534" stop-color="#1831d8"/><stop offset="0.545" stop-color="#173adb"/><stop offset="0.557" stop-color="#1543dc"/><stop offset="0.568" stop-color="#144bdf"/><stop offset="0.580" stop-color="#1255e1"/><stop offset="0.591" stop-color="#1160e1"/><stop offset="0.602" stop-color="#106ee1"/><stop offset="0.614" stop-color="#107be0"/><stop offset="0.625" stop-color="#1089e0"/><stop offset="0.636" stop-color="#1098de"/><stop offset="0.648" stop-color="#10a8dd"/><stop offset="0.659" stop-color="#10b7dc"/><stop offset="0.670" stop-color="#18c1d5"/><stop offset="0.682" stop-color="#20cacb"/><stop offset="0.693" stop-color="#2bd2c0"/><stop offset="0.705" stop-color="#36dab5"/><stop offset="0.716" stop-color="#48dda3"/><stop offset="0.727" stop-color="#5fdf8a"/><stop offset="0.739" stop-color="#76e173"/><stop offset="0.750" stop-color="#8de25a"/><stop offset="0.761" stop-color="#a4e248"/><stop offset="0.773" stop-color="#b6e03c"/><stop offset="0.784" stop-color="#cadf31"/><stop offset="0.795" stop-color="#dddd27"/><stop offset="0.807" stop-color="#e5d522"/><stop offset="0.818" stop-color="#e7c821"/><stop offset="0.830" stop-color="#eabc20"/><stop offset="0.841" stop-color="#ebaf1f"/><stop offset="0.852" stop-color="#eba11f"/><stop offset="0.864" stop-color="#eb8e1f"/><stop offset="0.875" stop-color="#eb7b1f"/><stop offset="0.886" stop-color="#eb6a1f"/><stop offset="0.898" stop-color="#eb571f"/><stop offset="0.909" stop-color="#e84a1f"/><stop offset="0.920" stop-color="#e53f1f"/><stop offset="0.932" stop-color="#e1321f"/><stop offset="0.943" stop-color="#de261f"/><stop offset="0.955" stop-color="#da211d"/><stop offset="0.966" stop-color="#d51d1c"/><stop offset="0.977" stop-color="#d11919"/><stop offset="0.989" stop-color="#ce1818"/><stop offset="1.000" stop-color="#cd1818"/></linearGradient><linearGradient id="Us10" gradientUnits="userSpaceOnUse" x1="0" y1="120" x2="0" y2="648"><stop offset="0.000" stop-color="#1212b0"/><stop offset="0.011" stop-color="#1212b0"/><stop offset="0.023" stop-color="#1212b1"/><stop offset="0.034" stop-color="#1212b1"/><stop offset="0.045" stop-color="#1212b1"/><stop offset="0.057" stop-color="#1212b2"/><stop offset="0.068" stop-color="#1313b2"/><stop offset="0.080" stop-color="#1313b2"/><stop offset="0.091" stop-color="#1313b3"/><stop offset="0.102" stop-color="#1313b3"/><stop offset="0.114" stop-color="#1313b3"/><stop offset="0.125" stop-color="#1313b4"/><stop offset="0.136" stop-color="#1313b4"/><stop offset="0.148" stop-color="#1313b4"/><stop offset="0.159" stop-color="#1313b5"/><stop offset="0.170" stop-color="#1313b5"/><stop offset="0.182" stop-color="#1313b5"/><stop offset="0.193" stop-color="#1414b6"/><stop offset="0.205" stop-color="#1414b6"/><stop offset="0.216" stop-color="#1414b6"/><stop offset="0.227" stop-color="#1414b7"/><stop offset="0.239" stop-color="#1414b7"/><stop offset="0.250" stop-color="#1414b7"/><stop offset="0.261" stop-color="#1414b8"/><stop offset="0.273" stop-color="#1414b8"/><stop offset="0.284" stop-color="#1414b8"/><stop offset="0.295" stop-color="#1414b9"/><stop offset="0.307" stop-color="#1515b9"/><stop offset="0.318" stop-color="#1515b9"/><stop offset="0.330" stop-color="#1515ba"/><stop offset="0.341" stop-color="#1515ba"/><stop offset="0.352" stop-color="#1515ba"/><stop offset="0.364" stop-color="#1515bb"/><stop offset="0.375" stop-color="#1515bb"/><stop offset="0.386" stop-color="#1515bb"/><stop offset="0.398" stop-color="#1515bc"/><stop offset="0.409" stop-color="#1515bc"/><stop offset="0.420" stop-color="#1515bc"/><stop offset="0.432" stop-color="#1616bd"/><stop offset="0.443" stop-color="#1616bd"/><stop offset="0.455" stop-color="#1616bd"/><stop offset="0.466" stop-color="#1616be"/><stop offset="0.477" stop-color="#1616be"/><stop offset="0.489" stop-color="#1618c0"/><stop offset="0.500" stop-color="#171cc4"/><stop offset="0.511" stop-color="#1720c8"/><stop offset="0.523" stop-color="#1726cd"/><stop offset="0.534" stop-color="#182dd3"/><stop offset="0.545" stop-color="#1735d8"/><stop offset="0.557" stop-color="#163ddb"/><stop offset="0.568" stop-color="#1546dd"/><stop offset="0.580" stop-color="#134fe0"/><stop offset="0.591" stop-color="#1259e1"/><stop offset="0.602" stop-color="#1166e1"/><stop offset="0.614" stop-color="#1073e1"/><stop offset="0.625" stop-color="#107fe0"/><stop offset="0.636" stop-color="#108edf"/><stop offset="0.648" stop-color="#109dde"/><stop offset="0.659" stop-color="#10acdc"/><stop offset="0.670" stop-color="#15b8d8"/><stop offset="0.682" stop-color="#1cc2d0"/><stop offset="0.693" stop-color="#24ccc7"/><stop offset="0.705" stop-color="#2ed5bd"/><stop offset="0.716" stop-color="#3edaad"/><stop offset="0.727" stop-color="#51dc98"/><stop offset="0.739" stop-color="#66df83"/><stop offset="0.750" stop-color="#7ce16c"/><stop offset="0.761" stop-color="#93e156"/><stop offset="0.773" stop-color="#a8e048"/><stop offset="0.784" stop-color="#bcdf3a"/><stop offset="0.795" stop-color="#d0de2d"/><stop offset="0.807" stop-color="#dcd926"/><stop offset="0.818" stop-color="#e2cf24"/><stop offset="0.830" stop-color="#e8c421"/><stop offset="0.841" stop-color="#ebb81f"/><stop offset="0.852" stop-color="#ebab1f"/><stop offset="0.864" stop-color="#eb991f"/><stop offset="0.875" stop-color="#eb881f"/><stop offset="0.886" stop-color="#eb771f"/><stop offset="0.898" stop-color="#eb641f"/><stop offset="0.909" stop-color="#e9551f"/><stop offset="0.920" stop-color="#e6481f"/><stop offset="0.932" stop-color="#e43a1f"/><stop offset="0.943" stop-color="#e02e1f"/><stop offset="0.955" stop-color="#dc261e"/><stop offset="0.966" stop-color="#d8211c"/><stop offset="0.977" stop-color="#d41c1b"/><stop offset="0.989" stop-color="#d01919"/><stop offset="1.000" stop-color="#cf1818"/></linearGradient><linearGradient id="Us11" gradientUnits="userSpaceOnUse" x1="0" y1="120" x2="0" y2="648"><stop offset="0.000" stop-color="#1111a7"/><stop offset="0.011" stop-color="#1111a7"/><stop offset="0.023" stop-color="#1111a7"/><stop offset="0.034" stop-color="#1111a8"/><stop offset="0.045" stop-color="#1111a8"/><stop offset="0.057" stop-color="#1111a8"/><stop offset="0.068" stop-color="#1111a9"/><stop offset="0.080" stop-color="#1212a9"/><stop offset="0.091" stop-color="#1212a9"/><stop offset="0.102" stop-color="#1212a9"/><stop offset="0.114" stop-color="#1212aa"/><stop offset="0.125" stop-color="#1212aa"/><stop offset="0.136" stop-color="#1212aa"/><stop offset="0.148" stop-color="#1212ab"/><stop offset="0.159" stop-color="#1212ab"/><stop offset="0.170" stop-color="#1212ab"/><stop offset="0.182" stop-color="#1212ac"/><stop offset="0.193" stop-color="#1212ac"/><stop offset="0.205" stop-color="#1313ac"/><stop offset="0.216" stop-color="#1313ad"/><stop offset="0.227" stop-color="#1313ad"/><stop offset="0.239" stop-color="#1313ad"/><stop offset="0.250" stop-color="#1313ae"/><stop offset="0.261" stop-color="#1313ae"/><stop offset="0.273" stop-color="#1313ae"/><stop offset="0.284" stop-color="#1313af"/><stop offset="0.295" stop-color="#1313af"/><stop offset="0.307" stop-color="#1313af"/><stop offset="0.318" stop-color="#1313af"/><stop offset="0.330" stop-color="#1414b0"/><stop offset="0.341" stop-color="#1414b0"/><stop offset="0.352" stop-color="#1414b0"/><stop offset="0.364" stop-color="#1414b1"/><stop offset="0.375" stop-color="#1414b1"/><stop offset="0.386" stop-color="#1414b1"/><stop offset="0.398" stop-color="#1414b2"/><stop offset="0.409" stop-color="#1414b2"/><stop offset="0.420" stop-color="#1414b2"/><stop offset="0.432" stop-color="#1414b3"/><stop offset="0.443" stop-color="#1414b3"/><stop offset="0.455" stop-color="#1414b3"/><stop offset="0.466" stop-color="#1414b3"/><stop offset="0.477" stop-color="#1414b3"/><stop offset="0.489" stop-color="#1415b4"/><stop offset="0.500" stop-color="#1418b8"/><stop offset="0.511" stop-color="#141bba"/><stop offset="0.523" stop-color="#1420be"/><stop offset="0.534" stop-color="#1526c3"/><stop offset="0.545" stop-color="#152dc9"/><stop offset="0.557" stop-color="#1434cd"/><stop offset="0.568" stop-color="#143cd1"/><stop offset="0.580" stop-color="#1344d4"/><stop offset="0.591" stop-color="#124dd5"/><stop offset="0.602" stop-color="#1158d6"/><stop offset="0.614" stop-color="#1064d6"/><stop offset="0.625" stop-color="#0f6fd6"/><stop offset="0.636" stop-color="#0f7dd5"/><stop offset="0.648" stop-color="#0f8bd4"/><stop offset="0.659" stop-color="#0f99d3"/><stop offset="0.670" stop-color="#12a6cf"/><stop offset="0.682" stop-color="#16b1ca"/><stop offset="0.693" stop-color="#1bbcc4"/><stop offset="0.705" stop-color="#24c4bb"/><stop offset="0.716" stop-color="#30caaf"/><stop offset="0.727" stop-color="#41ce9e"/><stop offset="0.739" stop-color="#51d38d"/><stop offset="0.750" stop-color="#64d579"/><stop offset="0.761" stop-color="#7bd663"/><stop offset="0.773" stop-color="#90d651"/><stop offset="0.784" stop-color="#a5d53f"/><stop offset="0.795" stop-color="#b8d431"/><stop offset="0.807" stop-color="#c7d02a"/><stop offset="0.818" stop-color="#d0ca25"/><stop offset="0.830" stop-color="#dbc321"/><stop offset="0.841" stop-color="#dfb91e"/><stop offset="0.852" stop-color="#dfac1e"/><stop offset="0.864" stop-color="#df9c1e"/><stop offset="0.875" stop-color="#df8d1e"/><stop offset="0.886" stop-color="#df7e1e"/><stop offset="0.898" stop-color="#df6c1e"/><stop offset="0.909" stop-color="#de5d1e"/><stop offset="0.920" stop-color="#dc4d1e"/><stop offset="0.932" stop-color="#db3f1e"/><stop offset="0.943" stop-color="#d8331e"/><stop offset="0.955" stop-color="#d42c1e"/><stop offset="0.966" stop-color="#d0241c"/><stop offset="0.977" stop-color="#cc1e1b"/><stop offset="0.989" stop-color="#c81919"/><stop offset="1.000" stop-color="#c51818"/></linearGradient><linearGradient id="Us12" gradientUnits="userSpaceOnUse" x1="0" y1="120" x2="0" y2="648"><stop offset="0.000" stop-color="#1212b0"/><stop offset="0.011" stop-color="#1212b0"/><stop offset="0.023" stop-color="#1212b0"/><stop offset="0.034" stop-color="#1212b1"/><stop offset="0.045" stop-color="#1212b1"/><stop offset="0.057" stop-color="#1212b1"/><stop offset="0.068" stop-color="#1212b2"/><stop offset="0.080" stop-color="#1313b2"/><stop offset="0.091" stop-color="#1313b2"/><stop offset="0.102" stop-color="#1313b2"/><stop offset="0.114" stop-color="#1313b3"/><stop offset="0.125" stop-color="#1313b3"/><stop offset="0.136" stop-color="#1313b3"/><stop offset="0.148" stop-color="#1313b4"/><stop offset="0.159" stop-color="#1313b4"/><stop offset="0.170" stop-color="#1313b4"/><stop offset="0.182" stop-color="#1313b5"/><stop offset="0.193" stop-color="#1313b5"/><stop offset="0.205" stop-color="#1414b5"/><stop offset="0.216" stop-color="#1414b6"/><stop offset="0.227" stop-color="#1414b6"/><stop offset="0.239" stop-color="#1414b6"/><stop offset="0.250" stop-color="#1414b7"/><stop offset="0.261" stop-color="#1414b7"/><stop offset="0.273" stop-color="#1414b7"/><stop offset="0.284" stop-color="#1414b8"/><stop offset="0.295" stop-color="#1414b8"/><stop offset="0.307" stop-color="#1414b8"/><stop offset="0.318" stop-color="#1414b8"/><stop offset="0.330" stop-color="#1515b9"/><stop offset="0.341" stop-color="#1515b9"/><stop offset="0.352" stop-color="#1515b9"/><stop offset="0.364" stop-color="#1515ba"/><stop offset="0.375" stop-color="#1515ba"/><stop offset="0.386" stop-color="#1515ba"/><stop offset="0.398" stop-color="#1515bb"/><stop offset="0.409" stop-color="#1515bb"/><stop offset="0.420" stop-color="#1515bb"/><stop offset="0.432" stop-color="#1515bc"/><stop offset="0.443" stop-color="#1515bc"/><stop offset="0.455" stop-color="#1616bc"/><stop offset="0.466" stop-color="#1616bd"/><stop offset="0.477" stop-color="#1616bd"/><stop offset="0.489" stop-color="#1616be"/><stop offset="0.500" stop-color="#1618c0"/><stop offset="0.511" stop-color="#1618c1"/><stop offset="0.523" stop-color="#161cc5"/><stop offset="0.534" stop-color="#1723cb"/><stop offset="0.545" stop-color="#172ad0"/><stop offset="0.557" stop-color="#1732d5"/><stop offset="0.568" stop-color="#1739db"/><stop offset="0.580" stop-color="#1642dd"/><stop offset="0.591" stop-color="#144adf"/><stop offset="0.602" stop-color="#1255e0"/><stop offset="0.614" stop-color="#1160e2"/><stop offset="0.625" stop-color="#106ce2"/><stop offset="0.636" stop-color="#107ae0"/><stop offset="0.648" stop-color="#1088df"/><stop offset="0.659" stop-color="#1096de"/><stop offset="0.670" stop-color="#11a6dc"/><stop offset="0.682" stop-color="#14b2da"/><stop offset="0.693" stop-color="#16c0d6"/><stop offset="0.705" stop-color="#1ecacd"/><stop offset="0.716" stop-color="#2ad1c1"/><stop offset="0.727" stop-color="#39d7b2"/><stop offset="0.739" stop-color="#47dca5"/><stop offset="0.750" stop-color="#59e090"/><stop offset="0.761" stop-color="#72e178"/><stop offset="0.773" stop-color="#89e161"/><stop offset="0.784" stop-color="#a0e14b"/><stop offset="0.795" stop-color="#b5e13a"/><stop offset="0.807" stop-color="#c7de31"/><stop offset="0.818" stop-color="#d6da2a"/><stop offset="0.830" stop-color="#e4d623"/><stop offset="0.841" stop-color="#ebcc1f"/><stop offset="0.852" stop-color="#ebbe1f"/><stop offset="0.864" stop-color="#ebaf1f"/><stop offset="0.875" stop-color="#eba11f"/><stop offset="0.886" stop-color="#eb911f"/><stop offset="0.898" stop-color="#eb7e1f"/><stop offset="0.909" stop-color="#eb6d1f"/><stop offset="0.920" stop-color="#ea5b1f"/><stop offset="0.932" stop-color="#e94a1f"/><stop offset="0.943" stop-color="#e63e1f"/><stop offset="0.955" stop-color="#e2341f"/><stop offset="0.966" stop-color="#dd2a1e"/><stop offset="0.977" stop-color="#da211e"/><stop offset="0.989" stop-color="#d61c1c"/><stop offset="1.000" stop-color="#d21a1a"/></linearGradient><linearGradient id="Us13" gradientUnits="userSpaceOnUse" x1="0" y1="120" x2="0" y2="648"><stop offset="0.000" stop-color="#1111ad"/><stop offset="0.011" stop-color="#1111ad"/><stop offset="0.023" stop-color="#1111ad"/><stop offset="0.034" stop-color="#1111ae"/><stop offset="0.045" stop-color="#1111ae"/><stop offset="0.057" stop-color="#1111ae"/><stop offset="0.068" stop-color="#1111af"/><stop offset="0.080" stop-color="#1212af"/><stop offset="0.091" stop-color="#1212af"/><stop offset="0.102" stop-color="#1212af"/><stop offset="0.114" stop-color="#1212b0"/><stop offset="0.125" stop-color="#1212b0"/><stop offset="0.136" stop-color="#1212b0"/><stop offset="0.148" stop-color="#1212b1"/><stop offset="0.159" stop-color="#1212b1"/><stop offset="0.170" stop-color="#1212b1"/><stop offset="0.182" stop-color="#1212b2"/><stop offset="0.193" stop-color="#1212b2"/><stop offset="0.205" stop-color="#1313b2"/><stop offset="0.216" stop-color="#1313b3"/><stop offset="0.227" stop-color="#1313b3"/><stop offset="0.239" stop-color="#1313b3"/><stop offset="0.250" stop-color="#1313b4"/><stop offset="0.261" stop-color="#1313b4"/><stop offset="0.273" stop-color="#1313b4"/><stop offset="0.284" stop-color="#1313b4"/><stop offset="0.295" stop-color="#1313b4"/><stop offset="0.307" stop-color="#1313b4"/><stop offset="0.318" stop-color="#1313b4"/><stop offset="0.330" stop-color="#1414b5"/><stop offset="0.341" stop-color="#1414b5"/><stop offset="0.352" stop-color="#1414b5"/><stop offset="0.364" stop-color="#1414b6"/><stop offset="0.375" stop-color="#1414b6"/><stop offset="0.386" stop-color="#1414b6"/><stop offset="0.398" stop-color="#1414b7"/><stop offset="0.409" stop-color="#1414b7"/><stop offset="0.420" stop-color="#1414b7"/><stop offset="0.432" stop-color="#1414b8"/><stop offset="0.443" stop-color="#1414b8"/><stop offset="0.455" stop-color="#1515b8"/><stop offset="0.466" stop-color="#1515b9"/><stop offset="0.477" stop-color="#1515b9"/><stop offset="0.489" stop-color="#1515b9"/><stop offset="0.500" stop-color="#1515ba"/><stop offset="0.511" stop-color="#1516bb"/><stop offset="0.523" stop-color="#1519be"/><stop offset="0.534" stop-color="#1620c4"/><stop offset="0.545" stop-color="#1626ca"/><stop offset="0.557" stop-color="#162dcf"/><stop offset="0.568" stop-color="#1734d4"/><stop offset="0.580" stop-color="#163cd8"/><stop offset="0.591" stop-color="#1444da"/><stop offset="0.602" stop-color="#124fdc"/><stop offset="0.614" stop-color="#1058de"/><stop offset="0.625" stop-color="#0f63df"/><stop offset="0.636" stop-color="#0f70dd"/><stop offset="0.648" stop-color="#0f7fdc"/><stop offset="0.659" stop-color="#0f8cdb"/><stop offset="0.670" stop-color="#0f9cda"/><stop offset="0.682" stop-color="#10aad8"/><stop offset="0.693" stop-color="#10b8d6"/><stop offset="0.705" stop-color="#19c2cd"/><stop offset="0.716" stop-color="#24cac3"/><stop offset="0.727" stop-color="#30d0b6"/><stop offset="0.739" stop-color="#3bd7ac"/><stop offset="0.750" stop-color="#4ddb99"/><stop offset="0.761" stop-color="#65dc80"/><stop offset="0.773" stop-color="#7cdd68"/><stop offset="0.784" stop-color="#94de50"/><stop offset="0.795" stop-color="#aade3d"/><stop offset="0.807" stop-color="#bcdc34"/><stop offset="0.818" stop-color="#cdd92b"/><stop offset="0.830" stop-color="#ded624"/><stop offset="0.841" stop-color="#e6ce1f"/><stop offset="0.852" stop-color="#e6c11f"/><stop offset="0.864" stop-color="#e6b31f"/><stop offset="0.875" stop-color="#e6a41f"/><stop offset="0.886" stop-color="#e6971f"/><stop offset="0.898" stop-color="#e6841f"/><stop offset="0.909" stop-color="#e6721f"/><stop offset="0.920" stop-color="#e6601f"/><stop offset="0.932" stop-color="#e54e1f"/><stop offset="0.943" stop-color="#e3411f"/><stop offset="0.955" stop-color="#df371f"/><stop offset="0.966" stop-color="#db2c1f"/><stop offset="0.977" stop-color="#d7221f"/><stop offset="0.989" stop-color="#d31d1d"/><stop offset="1.000" stop-color="#cf1b1b"/></linearGradient><linearGradient id="Us14" gradientUnits="userSpaceOnUse" x1="0" y1="120" x2="0" y2="648"><stop offset="0.000" stop-color="#1717b6"/><stop offset="0.011" stop-color="#1717b6"/><stop offset="0.023" stop-color="#1717b6"/><stop offset="0.034" stop-color="#1717b6"/><stop offset="0.045" stop-color="#1717b6"/><stop offset="0.057" stop-color="#1717b6"/><stop offset="0.068" stop-color="#1717b7"/><stop offset="0.080" stop-color="#1818b7"/><stop offset="0.091" stop-color="#1818b7"/><stop offset="0.102" stop-color="#1818b7"/><stop offset="0.114" stop-color="#1818b8"/><stop offset="0.125" stop-color="#1818b8"/><stop offset="0.136" stop-color="#1818b8"/><stop offset="0.148" stop-color="#1818b9"/><stop offset="0.159" stop-color="#1818b9"/><stop offset="0.170" stop-color="#1818b9"/><stop offset="0.182" stop-color="#1818ba"/><stop offset="0.193" stop-color="#1818ba"/><stop offset="0.205" stop-color="#1919ba"/><stop offset="0.216" stop-color="#1919bb"/><stop offset="0.227" stop-color="#1919bb"/><stop offset="0.239" stop-color="#1919bb"/><stop offset="0.250" stop-color="#1919bc"/><stop offset="0.261" stop-color="#1919bc"/><stop offset="0.273" stop-color="#1919bc"/><stop offset="0.284" stop-color="#1919bd"/><stop offset="0.295" stop-color="#1919bd"/><stop offset="0.307" stop-color="#1919bd"/><stop offset="0.318" stop-color="#1919bd"/><stop offset="0.330" stop-color="#1a1abe"/><stop offset="0.341" stop-color="#1a1abe"/><stop offset="0.352" stop-color="#1a1abe"/><stop offset="0.364" stop-color="#1a1abf"/><stop offset="0.375" stop-color="#1a1abf"/><stop offset="0.386" stop-color="#1a1abf"/><stop offset="0.398" stop-color="#1a1ac0"/><stop offset="0.409" stop-color="#1a1ac0"/><stop offset="0.420" stop-color="#1a1ac0"/><stop offset="0.432" stop-color="#1a1ac1"/><stop offset="0.443" stop-color="#1a1ac1"/><stop offset="0.455" stop-color="#1b1bc1"/><stop offset="0.466" stop-color="#1b1bc2"/><stop offset="0.477" stop-color="#1b1bc2"/><stop offset="0.489" stop-color="#1b1bc2"/><stop offset="0.500" stop-color="#1b1bc3"/><stop offset="0.511" stop-color="#1b1bc3"/><stop offset="0.523" stop-color="#1b1ec6"/><stop offset="0.534" stop-color="#1c24cc"/><stop offset="0.545" stop-color="#1c2bd2"/><stop offset="0.557" stop-color="#1c32d8"/><stop offset="0.568" stop-color="#1d39de"/><stop offset="0.580" stop-color="#1c41e2"/><stop offset="0.591" stop-color="#1a4ae4"/><stop offset="0.602" stop-color="#1854e6"/><stop offset="0.614" stop-color="#165de7"/><stop offset="0.625" stop-color="#1568e8"/><stop offset="0.636" stop-color="#1576e6"/><stop offset="0.648" stop-color="#1584e6"/><stop offset="0.659" stop-color="#1592e5"/><stop offset="0.670" stop-color="#15a2e4"/><stop offset="0.682" stop-color="#15b1e3"/><stop offset="0.693" stop-color="#15c0e1"/><stop offset="0.705" stop-color="#1dcad9"/><stop offset="0.716" stop-color="#27d2ce"/><stop offset="0.727" stop-color="#33d9c2"/><stop offset="0.739" stop-color="#3ee1b7"/><stop offset="0.750" stop-color="#50e5a5"/><stop offset="0.761" stop-color="#68e68b"/><stop offset="0.773" stop-color="#81e672"/><stop offset="0.784" stop-color="#99e758"/><stop offset="0.795" stop-color="#b0e745"/><stop offset="0.807" stop-color="#c2e63b"/><stop offset="0.818" stop-color="#d5e432"/><stop offset="0.830" stop-color="#e7e229"/><stop offset="0.841" stop-color="#f0da24"/><stop offset="0.852" stop-color="#f0cc24"/><stop offset="0.864" stop-color="#f0bd24"/><stop offset="0.875" stop-color="#f0b024"/><stop offset="0.886" stop-color="#f0a224"/><stop offset="0.898" stop-color="#f08f24"/><stop offset="0.909" stop-color="#f07d24"/><stop offset="0.920" stop-color="#f06924"/><stop offset="0.932" stop-color="#f05624"/><stop offset="0.943" stop-color="#ed4a24"/><stop offset="0.955" stop-color="#e93f24"/><stop offset="0.966" stop-color="#e63324"/><stop offset="0.977" stop-color="#e22824"/><stop offset="0.989" stop-color="#de2222"/><stop offset="1.000" stop-color="#d92121"/></linearGradient><linearGradient id="Us15" gradientUnits="userSpaceOnUse" x1="0" y1="120" x2="0" y2="648"><stop offset="0.000" stop-color="#1717b6"/><stop offset="0.011" stop-color="#1717b6"/><stop offset="0.023" stop-color="#1717b6"/><stop offset="0.034" stop-color="#1717b6"/><stop offset="0.045" stop-color="#1717b6"/><stop offset="0.057" stop-color="#1717b6"/><stop offset="0.068" stop-color="#1717b7"/><stop offset="0.080" stop-color="#1818b7"/><stop offset="0.091" stop-color="#1818b7"/><stop offset="0.102" stop-color="#1818b7"/><stop offset="0.114" stop-color="#1818b8"/><stop offset="0.125" stop-color="#1818b8"/><stop offset="0.136" stop-color="#1818b8"/><stop offset="0.148" stop-color="#1818b9"/><stop offset="0.159" stop-color="#1818b9"/><stop offset="0.170" stop-color="#1818b9"/><stop offset="0.182" stop-color="#1818ba"/><stop offset="0.193" stop-color="#1818ba"/><stop offset="0.205" stop-color="#1919ba"/><stop offset="0.216" stop-color="#1919bb"/><stop offset="0.227" stop-color="#1919bb"/><stop offset="0.239" stop-color="#1919bb"/><stop offset="0.250" stop-color="#1919bc"/><stop offset="0.261" stop-color="#1919bc"/><stop offset="0.273" stop-color="#1919bc"/><stop offset="0.284" stop-color="#1919bd"/><stop offset="0.295" stop-color="#1919bd"/><stop offset="0.307" stop-color="#1919bd"/><stop offset="0.318" stop-color="#1919bd"/><stop offset="0.330" stop-color="#1a1abe"/><stop offset="0.341" stop-color="#1a1abe"/><stop offset="0.352" stop-color="#1a1abe"/><stop offset="0.364" stop-color="#1a1abf"/><stop offset="0.375" stop-color="#1a1abf"/><stop offset="0.386" stop-color="#1a1abf"/><stop offset="0.398" stop-color="#1a1ac0"/><stop offset="0.409" stop-color="#1a1ac0"/><stop offset="0.420" stop-color="#1a1ac0"/><stop offset="0.432" stop-color="#1a1ac1"/><stop offset="0.443" stop-color="#1a1ac1"/><stop offset="0.455" stop-color="#1b1bc1"/><stop offset="0.466" stop-color="#1b1bc2"/><stop offset="0.477" stop-color="#1b1bc2"/><stop offset="0.489" stop-color="#1b1bc2"/><stop offset="0.500" stop-color="#1b1bc3"/><stop offset="0.511" stop-color="#1b1bc3"/><stop offset="0.523" stop-color="#1b1ec6"/><stop offset="0.534" stop-color="#1c24cc"/><stop offset="0.545" stop-color="#1c2bd2"/><stop offset="0.557" stop-color="#1c32d8"/><stop offset="0.568" stop-color="#1d39de"/><stop offset="0.580" stop-color="#1c41e2"/><stop offset="0.591" stop-color="#1a4ae4"/><stop offset="0.602" stop-color="#1854e6"/><stop offset="0.614" stop-color="#165de7"/><stop offset="0.625" stop-color="#1568e8"/><stop offset="0.636" stop-color="#1576e6"/><stop offset="0.648" stop-color="#1584e6"/><stop offset="0.659" stop-color="#1592e5"/><stop offset="0.670" stop-color="#15a2e4"/><stop offset="0.682" stop-color="#15b1e3"/><stop offset="0.693" stop-color="#15c0e1"/><stop offset="0.705" stop-color="#1dcad9"/><stop offset="0.716" stop-color="#27d2ce"/><stop offset="0.727" stop-color="#33d9c2"/><stop offset="0.739" stop-color="#3ee1b7"/><stop offset="0.750" stop-color="#50e5a5"/><stop offset="0.761" stop-color="#68e68b"/><stop offset="0.773" stop-color="#81e672"/><stop offset="0.784" stop-color="#99e758"/><stop offset="0.795" stop-color="#b0e745"/><stop offset="0.807" stop-color="#c2e63b"/><stop offset="0.818" stop-color="#d5e432"/><stop offset="0.830" stop-color="#e7e229"/><stop offset="0.841" stop-color="#f0da24"/><stop offset="0.852" stop-color="#f0cc24"/><stop offset="0.864" stop-color="#f0bd24"/><stop offset="0.875" stop-color="#f0b024"/><stop offset="0.886" stop-color="#f0a224"/><stop offset="0.898" stop-color="#f08f24"/><stop offset="0.909" stop-color="#f07d24"/><stop offset="0.920" stop-color="#f06924"/><stop offset="0.932" stop-color="#f05624"/><stop offset="0.943" stop-color="#ed4a24"/><stop offset="0.955" stop-color="#e93f24"/><stop offset="0.966" stop-color="#e63324"/><stop offset="0.977" stop-color="#e22824"/><stop offset="0.989" stop-color="#de2222"/><stop offset="1.000" stop-color="#d92121"/></linearGradient><linearGradient id="Us16" gradientUnits="userSpaceOnUse" x1="0" y1="120" x2="0" y2="648"><stop offset="0.000" stop-color="#1717b6"/><stop offset="0.011" stop-color="#1717b6"/><stop offset="0.023" stop-color="#1717b6"/><stop offset="0.034" stop-color="#1717b6"/><stop offset="0.045" stop-color="#1717b6"/><stop offset="0.057" stop-color="#1717b6"/><stop offset="0.068" stop-color="#1717b7"/><stop offset="0.080" stop-color="#1818b7"/><stop offset="0.091" stop-color="#1818b7"/><stop offset="0.102" stop-color="#1818b7"/><stop offset="0.114" stop-color="#1818b8"/><stop offset="0.125" stop-color="#1818b8"/><stop offset="0.136" stop-color="#1818b8"/><stop offset="0.148" stop-color="#1818b9"/><stop offset="0.159" stop-color="#1818b9"/><stop offset="0.170" stop-color="#1818b9"/><stop offset="0.182" stop-color="#1818ba"/><stop offset="0.193" stop-color="#1818ba"/><stop offset="0.205" stop-color="#1919ba"/><stop offset="0.216" stop-color="#1919bb"/><stop offset="0.227" stop-color="#1919bb"/><stop offset="0.239" stop-color="#1919bb"/><stop offset="0.250" stop-color="#1919bc"/><stop offset="0.261" stop-color="#1919bc"/><stop offset="0.273" stop-color="#1919bc"/><stop offset="0.284" stop-color="#1919bd"/><stop offset="0.295" stop-color="#1919bd"/><stop offset="0.307" stop-color="#1919bd"/><stop offset="0.318" stop-color="#1919bd"/><stop offset="0.330" stop-color="#1a1abe"/><stop offset="0.341" stop-color="#1a1abe"/><stop offset="0.352" stop-color="#1a1abe"/><stop offset="0.364" stop-color="#1a1abf"/><stop offset="0.375" stop-color="#1a1abf"/><stop offset="0.386" stop-color="#1a1abf"/><stop offset="0.398" stop-color="#1a1ac0"/><stop offset="0.409" stop-color="#1a1ac0"/><stop offset="0.420" stop-color="#1a1ac0"/><stop offset="0.432" stop-color="#1a1ac1"/><stop offset="0.443" stop-color="#1a1ac1"/><stop offset="0.455" stop-color="#1b1bc1"/><stop offset="0.466" stop-color="#1b1bc2"/><stop offset="0.477" stop-color="#1b1bc2"/><stop offset="0.489" stop-color="#1b1bc2"/><stop offset="0.500" stop-color="#1b1bc3"/><stop offset="0.511" stop-color="#1b1bc3"/><stop offset="0.523" stop-color="#1b1ec6"/><stop offset="0.534" stop-color="#1c24cc"/><stop offset="0.545" stop-color="#1c2bd2"/><stop offset="0.557" stop-color="#1c32d8"/><stop offset="0.568" stop-color="#1d39de"/><stop offset="0.580" stop-color="#1c41e2"/><stop offset="0.591" stop-color="#1a4ae4"/><stop offset="0.602" stop-color="#1854e6"/><stop offset="0.614" stop-color="#165de7"/><stop offset="0.625" stop-color="#1568e8"/><stop offset="0.636" stop-color="#1576e6"/><stop offset="0.648" stop-color="#1584e6"/><stop offset="0.659" stop-color="#1592e5"/><stop offset="0.670" stop-color="#15a2e4"/><stop offset="0.682" stop-color="#15b1e3"/><stop offset="0.693" stop-color="#15c0e1"/><stop offset="0.705" stop-color="#1dcad9"/><stop offset="0.716" stop-color="#27d2ce"/><stop offset="0.727" stop-color="#33d9c2"/><stop offset="0.739" stop-color="#3ee1b7"/><stop offset="0.750" stop-color="#50e5a5"/><stop offset="0.761" stop-color="#68e68b"/><stop offset="0.773" stop-color="#81e672"/><stop offset="0.784" stop-color="#99e758"/><stop offset="0.795" stop-color="#b0e745"/><stop offset="0.807" stop-color="#c2e63b"/><stop offset="0.818" stop-color="#d5e432"/><stop offset="0.830" stop-color="#e7e229"/><stop offset="0.841" stop-color="#f0da24"/><stop offset="0.852" stop-color="#f0cc24"/><stop offset="0.864" stop-color="#f0bd24"/><stop offset="0.875" stop-color="#f0b024"/><stop offset="0.886" stop-color="#f0a224"/><stop offset="0.898" stop-color="#f08f24"/><stop offset="0.909" stop-color="#f07d24"/><stop offset="0.920" stop-color="#f06924"/><stop offset="0.932" stop-color="#f05624"/><stop offset="0.943" stop-color="#ed4a24"/><stop offset="0.955" stop-color="#e93f24"/><stop offset="0.966" stop-color="#e63324"/><stop offset="0.977" stop-color="#e22824"/><stop offset="0.989" stop-color="#de2222"/><stop offset="1.000" stop-color="#d92121"/></linearGradient><linearGradient id="Us17" gradientUnits="userSpaceOnUse" x1="0" y1="120" x2="0" y2="648"><stop offset="0.000" stop-color="#1717b6"/><stop offset="0.011" stop-color="#1717b6"/><stop offset="0.023" stop-color="#1717b6"/><stop offset="0.034" stop-color="#1717b6"/><stop offset="0.045" stop-color="#1717b6"/><stop offset="0.057" stop-color="#1717b6"/><stop offset="0.068" stop-color="#1717b7"/><stop offset="0.080" stop-color="#1818b7"/><stop offset="0.091" stop-color="#1818b7"/><stop offset="0.102" stop-color="#1818b7"/><stop offset="0.114" stop-color="#1818b8"/><stop offset="0.125" stop-color="#1818b8"/><stop offset="0.136" stop-color="#1818b8"/><stop offset="0.148" stop-color="#1818b9"/><stop offset="0.159" stop-color="#1818b9"/><stop offset="0.170" stop-color="#1818b9"/><stop offset="0.182" stop-color="#1818ba"/><stop offset="0.193" stop-color="#1818ba"/><stop offset="0.205" stop-color="#1919ba"/><stop offset="0.216" stop-color="#1919bb"/><stop offset="0.227" stop-color="#1919bb"/><stop offset="0.239" stop-color="#1919bb"/><stop offset="0.250" stop-color="#1919bc"/><stop offset="0.261" stop-color="#1919bc"/><stop offset="0.273" stop-color="#1919bc"/><stop offset="0.284" stop-color="#1919bd"/><stop offset="0.295" stop-color="#1919bd"/><stop offset="0.307" stop-color="#1919bd"/><stop offset="0.318" stop-color="#1919bd"/><stop offset="0.330" stop-color="#1a1abe"/><stop offset="0.341" stop-color="#1a1abe"/><stop offset="0.352" stop-color="#1a1abe"/><stop offset="0.364" stop-color="#1a1abf"/><stop offset="0.375" stop-color="#1a1abf"/><stop offset="0.386" stop-color="#1a1abf"/><stop offset="0.398" stop-color="#1a1ac0"/><stop offset="0.409" stop-color="#1a1ac0"/><stop offset="0.420" stop-color="#1a1ac0"/><stop offset="0.432" stop-color="#1a1ac1"/><stop offset="0.443" stop-color="#1a1ac1"/><stop offset="0.455" stop-color="#1b1bc1"/><stop offset="0.466" stop-color="#1b1bc2"/><stop offset="0.477" stop-color="#1b1bc2"/><stop offset="0.489" stop-color="#1b1bc2"/><stop offset="0.500" stop-color="#1b1bc3"/><stop offset="0.511" stop-color="#1b1bc3"/><stop offset="0.523" stop-color="#1b1ec6"/><stop offset="0.534" stop-color="#1c24cc"/><stop offset="0.545" stop-color="#1c2bd2"/><stop offset="0.557" stop-color="#1c32d8"/><stop offset="0.568" stop-color="#1d39de"/><stop offset="0.580" stop-color="#1c41e2"/><stop offset="0.591" stop-color="#1a4ae4"/><stop offset="0.602" stop-color="#1854e6"/><stop offset="0.614" stop-color="#165de7"/><stop offset="0.625" stop-color="#1568e8"/><stop offset="0.636" stop-color="#1576e6"/><stop offset="0.648" stop-color="#1584e6"/><stop offset="0.659" stop-color="#1592e5"/><stop offset="0.670" stop-color="#15a2e4"/><stop offset="0.682" stop-color="#15b1e3"/><stop offset="0.693" stop-color="#15c0e1"/><stop offset="0.705" stop-color="#1dcad9"/><stop offset="0.716" stop-color="#27d2ce"/><stop offset="0.727" stop-color="#33d9c2"/><stop offset="0.739" stop-color="#3ee1b7"/><stop offset="0.750" stop-color="#50e5a5"/><stop offset="0.761" stop-color="#68e68b"/><stop offset="0.773" stop-color="#81e672"/><stop offset="0.784" stop-color="#99e758"/><stop offset="0.795" stop-color="#b0e745"/><stop offset="0.807" stop-color="#c2e63b"/><stop offset="0.818" stop-color="#d5e432"/><stop offset="0.830" stop-color="#e7e229"/><stop offset="0.841" stop-color="#f0da24"/><stop offset="0.852" stop-color="#f0cc24"/><stop offset="0.864" stop-color="#f0bd24"/><stop offset="0.875" stop-color="#f0b024"/><stop offset="0.886" stop-color="#f0a224"/><stop offset="0.898" stop-color="#f08f24"/><stop offset="0.909" stop-color="#f07d24"/><stop offset="0.920" stop-color="#f06924"/><stop offset="0.932" stop-color="#f05624"/><stop offset="0.943" stop-color="#ed4a24"/><stop offset="0.955" stop-color="#e93f24"/><stop offset="0.966" stop-color="#e63324"/><stop offset="0.977" stop-color="#e22824"/><stop offset="0.989" stop-color="#de2222"/><stop offset="1.000" stop-color="#d92121"/></linearGradient><linearGradient id="Ubpale" gradientUnits="userSpaceOnUse" x1="121" y1="0" x2="149" y2="0"><stop offset="0" stop-color="#fff" stop-opacity="0.12"/><stop offset="1" stop-color="#fff" stop-opacity="0"/></linearGradient><linearGradient id="cbT" gradientUnits="userSpaceOnUse" x1="0" y1="90" x2="0" y2="614"><stop offset="0.0" stop-color="#fffff6"/><stop offset="0.1" stop-color="#ffffd0"/><stop offset="0.21" stop-color="#ffff80"/><stop offset="0.3" stop-color="#ffff30"/><stop offset="0.38" stop-color="#ffff00"/><stop offset="0.46" stop-color="#ffd200"/><stop offset="0.52" stop-color="#ffb800"/><stop offset="0.6" stop-color="#ff8c00"/><stop offset="0.68" stop-color="#ff5000"/><stop offset="0.76" stop-color="#ff1800"/><stop offset="0.82" stop-color="#f00000"/><stop offset="0.9" stop-color="#b40000"/><stop offset="1.0" stop-color="#6e0000"/></linearGradient><linearGradient id="cbU" gradientUnits="userSpaceOnUse" x1="0" y1="91.4" x2="0" y2="615"><stop offset="0.0" stop-color="#7f0000"/><stop offset="0.11" stop-color="#ff0000"/><stop offset="0.24" stop-color="#ff8000"/><stop offset="0.372" stop-color="#ffff00"/><stop offset="0.495" stop-color="#80ff80"/><stop offset="0.614" stop-color="#00ffff"/><stop offset="0.74" stop-color="#0080ff"/><stop offset="0.87" stop-color="#0000ff"/><stop offset="1.0" stop-color="#000080"/></linearGradient></defs>
<rect x="0" y="0" width="1024" height="694" fill="#fff"/>
<g><polygon points="117.3,48 117,64 115.6,65.5 110,290 109,293 103.8,444 103,446 100.4,546 99.4,548 97.3,636 103.3,631.6 105.4,548 106.4,546 109,446 109.8,444 115,293 116,290 121.6,65.5 123,64 123.3,50.5" fill="#e6e6e6"/><polyline points="117.3,48 117,64 115.6,65.5 110,290 109,293 103.8,444 103,446 100.4,546 99.4,548 97.3,636" fill="none" stroke="#969696" stroke-width="1"/><polyline points="120.3,49.2 120,64 118.6,65.5 113,290 112,293 106.8,444 106,446 103.4,546 102.4,548 100.3,633.8" fill="none" stroke="#969696" stroke-width="1"/><polyline points="123.3,50.4 123,64 121.6,65.5 116,290 115,293 109.8,444 109,446 106.4,546 105.4,548 103.3,631.6" fill="none" stroke="#969696" stroke-width="1"/><polyline points="113,127.5 121,126.5" fill="none" stroke="#8a8a8a" stroke-width="1.1"/><polyline points="108.5,288.1 116.5,287.1" fill="none" stroke="#8a8a8a" stroke-width="1.1"/><polyline points="102.8,454.9 110.8,453.9" fill="none" stroke="#8a8a8a" stroke-width="1.1"/><polyline points="99.1,551.5 107.1,550.5" fill="none" stroke="#8a8a8a" stroke-width="1.1"/><polyline points="142.5,53 141.8,80 141,90 139.4,123 134,288 131.5,371" fill="none" stroke="#909090" stroke-width="0.9"/><polyline points="208.2,55 207.8,80 207.2,84 206,126 200.5,291 194.5,455 192,540 190.5,600 188.4,633" fill="none" stroke="#909090" stroke-width="1"/><polyline points="138.4,123.3 150,123.5 160,124.4 200,125.2 236.7,126.4" fill="none" stroke="#909090" stroke-width="1.1"/><polyline points="133,288.6 148,288.8" fill="none" stroke="#909090" stroke-width="1.1"/><polyline points="182,453.4 190,453.6 210,454 214,454.8 226,454.8" fill="none" stroke="#909090" stroke-width="1.1"/><polyline points="192.9,618.6 207,618.6 209,619.6 220.2,619.6" fill="none" stroke="#909090" stroke-width="1.1"/><polyline points="188.4,622.5 188.4,633.2" fill="none" stroke="#909090" stroke-width="1"/><polygon points="183.3,130 236,130 227.5,375 178.16,375" fill="#eeeeee"/><g transform="rotate(1.1,182.8,129.8)"><rect x="182.8" y="129.8" width="53" height="4.3" rx="2.2" ry="2.2" fill="url(#Tfin)" stroke="#6a0e12" stroke-opacity="0.35" stroke-width="0.6"/><rect x="184.8" y="129.8" width="49" height="1.0" fill="#8a1014" fill-opacity="0.6"/><rect x="184.8" y="133.2" width="49" height="0.9" fill="#8a1014" fill-opacity="0.45"/><rect x="229.31" y="131" width="4.5" height="2" rx="1" fill="#fff" fill-opacity="0.12"/></g><rect x="182.8" y="133.8" width="7.2" height="2.95" fill="#7a4a18" fill-opacity="0.95"/><g transform="rotate(1.1,182.66,136.45)"><rect x="182.66" y="136.45" width="52.91" height="4.3" rx="2.2" ry="2.2" fill="url(#Tfin)" stroke="#6a0e12" stroke-opacity="0.35" stroke-width="0.6"/><rect x="184.66" y="136.45" width="48.91" height="1.0" fill="#8a1014" fill-opacity="0.6"/><rect x="184.66" y="139.85" width="48.91" height="0.9" fill="#8a1014" fill-opacity="0.45"/><rect x="229.07" y="137.65" width="4.5" height="2" rx="1" fill="#fff" fill-opacity="0.12"/></g><rect x="182.66" y="140.45" width="7.2" height="2.95" fill="#7a4a18" fill-opacity="0.95"/><g transform="rotate(1.1,182.52,143.1)"><rect x="182.52" y="143.1" width="52.81" height="4.3" rx="2.2" ry="2.2" fill="url(#Tfin)" stroke="#6a0e12" stroke-opacity="0.35" stroke-width="0.6"/><rect x="184.52" y="143.1" width="48.81" height="1.0" fill="#8a1014" fill-opacity="0.6"/><rect x="184.52" y="146.5" width="48.81" height="0.9" fill="#8a1014" fill-opacity="0.45"/><rect x="228.83" y="144.3" width="4.5" height="2" rx="1" fill="#fff" fill-opacity="0.12"/></g><rect x="182.52" y="147.1" width="7.2" height="2.95" fill="#7a4a18" fill-opacity="0.95"/><g transform="rotate(1.1,182.39,149.75)"><rect x="182.39" y="149.75" width="52.71" height="4.3" rx="2.2" ry="2.2" fill="url(#Tfin)" stroke="#6a0e12" stroke-opacity="0.35" stroke-width="0.6"/><rect x="184.39" y="149.75" width="48.71" height="1.0" fill="#8a1014" fill-opacity="0.6"/><rect x="184.39" y="153.15" width="48.71" height="0.9" fill="#8a1014" fill-opacity="0.45"/><rect x="228.6" y="150.95" width="4.5" height="2" rx="1" fill="#fff" fill-opacity="0.12"/></g><rect x="182.39" y="153.75" width="7.2" height="2.95" fill="#7a4a18" fill-opacity="0.95"/><g transform="rotate(1.1,182.25,156.4)"><rect x="182.25" y="156.4" width="52.62" height="4.3" rx="2.2" ry="2.2" fill="url(#Tfin)" stroke="#6a0e12" stroke-opacity="0.35" stroke-width="0.6"/><rect x="184.25" y="156.4" width="48.62" height="1.0" fill="#8a1014" fill-opacity="0.6"/><rect x="184.25" y="159.8" width="48.62" height="0.9" fill="#8a1014" fill-opacity="0.45"/><rect x="228.36" y="157.6" width="4.5" height="2" rx="1" fill="#fff" fill-opacity="0.12"/></g><rect x="182.25" y="160.4" width="7.2" height="2.95" fill="#7a4a18" fill-opacity="0.95"/><g transform="rotate(1.1,182.11,163.05)"><rect x="182.11" y="163.05" width="52.52" height="4.3" rx="2.2" ry="2.2" fill="url(#Tfin)" stroke="#6a0e12" stroke-opacity="0.35" stroke-width="0.6"/><rect x="184.11" y="163.05" width="48.52" height="1.0" fill="#8a1014" fill-opacity="0.6"/><rect x="184.11" y="166.45" width="48.52" height="0.9" fill="#8a1014" fill-opacity="0.45"/><rect x="228.13" y="164.25" width="4.5" height="2" rx="1" fill="#fff" fill-opacity="0.12"/></g><rect x="182.11" y="167.05" width="7.2" height="2.95" fill="#7a4a18" fill-opacity="0.95"/><g transform="rotate(1.1,181.97,169.7)"><rect x="181.97" y="169.7" width="52.42" height="4.3" rx="2.2" ry="2.2" fill="url(#Tfin)" stroke="#6a0e12" stroke-opacity="0.35" stroke-width="0.6"/><rect x="183.97" y="169.7" width="48.42" height="1.0" fill="#8a1014" fill-opacity="0.6"/><rect x="183.97" y="173.1" width="48.42" height="0.9" fill="#8a1014" fill-opacity="0.45"/><rect x="227.89" y="170.9" width="4.5" height="2" rx="1" fill="#fff" fill-opacity="0.12"/></g><rect x="181.97" y="173.7" width="7.2" height="2.95" fill="#7a4a18" fill-opacity="0.95"/><g transform="rotate(1.1,181.83,176.35)"><rect x="181.83" y="176.35" width="52.33" height="4.3" rx="2.2" ry="2.2" fill="url(#Tfin)" stroke="#6a0e12" stroke-opacity="0.35" stroke-width="0.6"/><rect x="183.83" y="176.35" width="48.33" height="1.0" fill="#8a1014" fill-opacity="0.6"/><rect x="183.83" y="179.75" width="48.33" height="0.9" fill="#8a1014" fill-opacity="0.45"/><rect x="227.65" y="177.55" width="4.5" height="2" rx="1" fill="#fff" fill-opacity="0.12"/></g><rect x="181.83" y="180.35" width="7.2" height="2.95" fill="#7a4a18" fill-opacity="0.95"/><g transform="rotate(1.1,181.69,183)"><rect x="181.69" y="183" width="52.23" height="4.3" rx="2.2" ry="2.2" fill="url(#Tfin)" stroke="#6a0e12" stroke-opacity="0.35" stroke-width="0.6"/><rect x="183.69" y="183" width="48.23" height="1.0" fill="#8a1014" fill-opacity="0.6"/><rect x="183.69" y="186.4" width="48.23" height="0.9" fill="#8a1014" fill-opacity="0.45"/><rect x="227.42" y="184.2" width="4.5" height="2" rx="1" fill="#fff" fill-opacity="0.12"/></g><rect x="181.69" y="187" width="7.2" height="2.95" fill="#7a4a18" fill-opacity="0.95"/><g transform="rotate(1.1,181.55,189.65)"><rect x="181.55" y="189.65" width="52.14" height="4.3" rx="2.2" ry="2.2" fill="url(#Tfin)" stroke="#6a0e12" stroke-opacity="0.35" stroke-width="0.6"/><rect x="183.55" y="189.65" width="48.14" height="1.0" fill="#8a1014" fill-opacity="0.6"/><rect x="183.55" y="193.05" width="48.14" height="0.9" fill="#8a1014" fill-opacity="0.45"/><rect x="227.18" y="190.85" width="4.5" height="2" rx="1" fill="#fff" fill-opacity="0.12"/></g><rect x="181.55" y="193.65" width="7.2" height="2.95" fill="#7a4a18" fill-opacity="0.95"/><g transform="rotate(1.1,181.41,196.3)"><rect x="181.41" y="196.3" width="52.04" height="4.3" rx="2.2" ry="2.2" fill="url(#Tfin)" stroke="#6a0e12" stroke-opacity="0.35" stroke-width="0.6"/><rect x="183.41" y="196.3" width="48.04" height="1.0" fill="#8a1014" fill-opacity="0.6"/><rect x="183.41" y="199.7" width="48.04" height="0.9" fill="#8a1014" fill-opacity="0.45"/><rect x="226.95" y="197.5" width="4.5" height="2" rx="1" fill="#fff" fill-opacity="0.12"/></g><rect x="181.41" y="200.3" width="7.2" height="2.95" fill="#7a4a18" fill-opacity="0.95"/><g transform="rotate(1.1,181.27,202.95)"><rect x="181.27" y="202.95" width="51.94" height="4.3" rx="2.2" ry="2.2" fill="url(#Tfin)" stroke="#6a0e12" stroke-opacity="0.35" stroke-width="0.6"/><rect x="183.27" y="202.95" width="47.94" height="1.0" fill="#8a1014" fill-opacity="0.6"/><rect x="183.27" y="206.35" width="47.94" height="0.9" fill="#8a1014" fill-opacity="0.45"/><rect x="226.71" y="204.15" width="4.5" height="2" rx="1" fill="#fff" fill-opacity="0.12"/></g><rect x="181.27" y="206.95" width="7.2" height="2.95" fill="#7a4a18" fill-opacity="0.95"/><g transform="rotate(1.1,181.13,209.6)"><rect x="181.13" y="209.6" width="51.85" height="4.3" rx="2.2" ry="2.2" fill="url(#Tfin)" stroke="#6a0e12" stroke-opacity="0.35" stroke-width="0.6"/><rect x="183.13" y="209.6" width="47.85" height="1.0" fill="#8a1014" fill-opacity="0.6"/><rect x="183.13" y="213" width="47.85" height="0.9" fill="#8a1014" fill-opacity="0.45"/><rect x="226.47" y="210.8" width="4.5" height="2" rx="1" fill="#fff" fill-opacity="0.12"/></g><rect x="181.13" y="213.6" width="7.2" height="2.95" fill="#7a4a18" fill-opacity="0.95"/><g transform="rotate(1.1,180.99,216.25)"><rect x="180.99" y="216.25" width="51.75" height="4.3" rx="2.2" ry="2.2" fill="url(#Tfin)" stroke="#6a0e12" stroke-opacity="0.35" stroke-width="0.6"/><rect x="182.99" y="216.25" width="47.75" height="1.0" fill="#8a1014" fill-opacity="0.6"/><rect x="182.99" y="219.65" width="47.75" height="0.9" fill="#8a1014" fill-opacity="0.45"/><rect x="226.24" y="217.45" width="4.5" height="2" rx="1" fill="#fff" fill-opacity="0.12"/></g><rect x="180.99" y="220.25" width="7.2" height="2.95" fill="#7a4a18" fill-opacity="0.95"/><g transform="rotate(1.1,180.85,222.9)"><rect x="180.85" y="222.9" width="51.65" height="4.3" rx="2.2" ry="2.2" fill="url(#Tfin)" stroke="#6a0e12" stroke-opacity="0.35" stroke-width="0.6"/><rect x="182.85" y="222.9" width="47.65" height="1.0" fill="#8a1014" fill-opacity="0.6"/><rect x="182.85" y="226.3" width="47.65" height="0.9" fill="#8a1014" fill-opacity="0.45"/><rect x="226" y="224.1" width="4.5" height="2" rx="1" fill="#fff" fill-opacity="0.12"/></g><rect x="180.85" y="226.9" width="7.2" height="2.95" fill="#7a4a18" fill-opacity="0.95"/><g transform="rotate(1.1,180.71,229.55)"><rect x="180.71" y="229.55" width="51.56" height="4.3" rx="2.2" ry="2.2" fill="url(#Tfin)" stroke="#6a0e12" stroke-opacity="0.35" stroke-width="0.6"/><rect x="182.71" y="229.55" width="47.56" height="1.0" fill="#8a1014" fill-opacity="0.6"/><rect x="182.71" y="232.95" width="47.56" height="0.9" fill="#8a1014" fill-opacity="0.45"/><rect x="225.77" y="230.75" width="4.5" height="2" rx="1" fill="#fff" fill-opacity="0.12"/></g><rect x="180.71" y="233.55" width="7.2" height="2.95" fill="#7a4a18" fill-opacity="0.95"/><g transform="rotate(1.1,180.57,236.2)"><rect x="180.57" y="236.2" width="51.46" height="4.3" rx="2.2" ry="2.2" fill="url(#Tfin)" stroke="#6a0e12" stroke-opacity="0.35" stroke-width="0.6"/><rect x="182.57" y="236.2" width="47.46" height="1.0" fill="#8a1014" fill-opacity="0.6"/><rect x="182.57" y="239.6" width="47.46" height="0.9" fill="#8a1014" fill-opacity="0.45"/><rect x="225.53" y="237.4" width="4.5" height="2" rx="1" fill="#fff" fill-opacity="0.12"/></g><rect x="180.57" y="240.2" width="7.2" height="2.95" fill="#7a4a18" fill-opacity="0.95"/><g transform="rotate(1.1,180.43,242.85)"><rect x="180.43" y="242.85" width="51.36" height="4.3" rx="2.2" ry="2.2" fill="url(#Tfin)" stroke="#6a0e12" stroke-opacity="0.35" stroke-width="0.6"/><rect x="182.43" y="242.85" width="47.36" height="1.0" fill="#8a1014" fill-opacity="0.6"/><rect x="182.43" y="246.25" width="47.36" height="0.9" fill="#8a1014" fill-opacity="0.45"/><rect x="225.29" y="244.05" width="4.5" height="2" rx="1" fill="#fff" fill-opacity="0.12"/></g><rect x="180.43" y="246.85" width="7.2" height="2.95" fill="#7a4a18" fill-opacity="0.95"/><g transform="rotate(1.1,180.29,249.5)"><rect x="180.29" y="249.5" width="51.27" height="4.3" rx="2.2" ry="2.2" fill="url(#Tfin)" stroke="#6a0e12" stroke-opacity="0.35" stroke-width="0.6"/><rect x="182.29" y="249.5" width="47.27" height="1.0" fill="#8a1014" fill-opacity="0.6"/><rect x="182.29" y="252.9" width="47.27" height="0.9" fill="#8a1014" fill-opacity="0.45"/><rect x="225.06" y="250.7" width="4.5" height="2" rx="1" fill="#fff" fill-opacity="0.12"/></g><rect x="180.29" y="253.5" width="7.2" height="2.95" fill="#7a4a18" fill-opacity="0.95"/><g transform="rotate(1.1,180.15,256.15)"><rect x="180.15" y="256.15" width="51.17" height="4.3" rx="2.2" ry="2.2" fill="url(#Tfin)" stroke="#6a0e12" stroke-opacity="0.35" stroke-width="0.6"/><rect x="182.15" y="256.15" width="47.17" height="1.0" fill="#8a1014" fill-opacity="0.6"/><rect x="182.15" y="259.55" width="47.17" height="0.9" fill="#8a1014" fill-opacity="0.45"/><rect x="224.82" y="257.35" width="4.5" height="2" rx="1" fill="#fff" fill-opacity="0.12"/></g><rect x="180.15" y="260.15" width="7.2" height="2.95" fill="#7a4a18" fill-opacity="0.95"/><g transform="rotate(1.1,180.01,262.8)"><rect x="180.01" y="262.8" width="51.07" height="4.3" rx="2.2" ry="2.2" fill="url(#Tfin)" stroke="#6a0e12" stroke-opacity="0.35" stroke-width="0.6"/><rect x="182.01" y="262.8" width="47.07" height="1.0" fill="#8a1014" fill-opacity="0.6"/><rect x="182.01" y="266.2" width="47.07" height="0.9" fill="#8a1014" fill-opacity="0.45"/><rect x="224.59" y="264" width="4.5" height="2" rx="1" fill="#fff" fill-opacity="0.12"/></g><rect x="180.01" y="266.8" width="7.2" height="2.95" fill="#7a4a18" fill-opacity="0.95"/><g transform="rotate(1.1,179.87,269.45)"><rect x="179.87" y="269.45" width="50.98" height="4.3" rx="2.2" ry="2.2" fill="url(#Tfin)" stroke="#6a0e12" stroke-opacity="0.35" stroke-width="0.6"/><rect x="181.87" y="269.45" width="46.98" height="1.0" fill="#8a1014" fill-opacity="0.6"/><rect x="181.87" y="272.85" width="46.98" height="0.9" fill="#8a1014" fill-opacity="0.45"/><rect x="224.35" y="270.65" width="4.5" height="2" rx="1" fill="#fff" fill-opacity="0.12"/></g><rect x="179.87" y="273.45" width="7.2" height="2.95" fill="#7a4a18" fill-opacity="0.95"/><g transform="rotate(1.1,179.73,276.1)"><rect x="179.73" y="276.1" width="50.88" height="4.3" rx="2.2" ry="2.2" fill="url(#Tfin)" stroke="#6a0e12" stroke-opacity="0.35" stroke-width="0.6"/><rect x="181.73" y="276.1" width="46.88" height="1.0" fill="#8a1014" fill-opacity="0.6"/><rect x="181.73" y="279.5" width="46.88" height="0.9" fill="#8a1014" fill-opacity="0.45"/><rect x="224.11" y="277.3" width="4.5" height="2" rx="1" fill="#fff" fill-opacity="0.12"/></g><rect x="179.73" y="280.1" width="7.2" height="2.95" fill="#7a4a18" fill-opacity="0.95"/><g transform="rotate(1.1,179.59,282.75)"><rect x="179.59" y="282.75" width="50.79" height="4.3" rx="2.2" ry="2.2" fill="url(#Tfin)" stroke="#6a0e12" stroke-opacity="0.35" stroke-width="0.6"/><rect x="181.59" y="282.75" width="46.79" height="1.0" fill="#8a1014" fill-opacity="0.6"/><rect x="181.59" y="286.15" width="46.79" height="0.9" fill="#8a1014" fill-opacity="0.45"/><rect x="223.88" y="283.95" width="4.5" height="2" rx="1" fill="#fff" fill-opacity="0.12"/></g><rect x="179.59" y="286.75" width="7.2" height="2.95" fill="#7a4a18" fill-opacity="0.95"/><g transform="rotate(1.1,179.45,289.4)"><rect x="179.45" y="289.4" width="50.69" height="4.3" rx="2.2" ry="2.2" fill="url(#Tfin)" stroke="#6a0e12" stroke-opacity="0.35" stroke-width="0.6"/><rect x="181.45" y="289.4" width="46.69" height="1.0" fill="#8a1014" fill-opacity="0.6"/><rect x="181.45" y="292.8" width="46.69" height="0.9" fill="#8a1014" fill-opacity="0.45"/><rect x="223.64" y="290.6" width="4.5" height="2" rx="1" fill="#fff" fill-opacity="0.12"/></g><rect x="179.45" y="293.4" width="7.2" height="2.95" fill="#7a4a18" fill-opacity="0.95"/><g transform="rotate(1.1,179.31,296.05)"><rect x="179.31" y="296.05" width="50.59" height="4.3" rx="2.2" ry="2.2" fill="url(#Tfin)" stroke="#6a0e12" stroke-opacity="0.35" stroke-width="0.6"/><rect x="181.31" y="296.05" width="46.59" height="1.0" fill="#8a1014" fill-opacity="0.6"/><rect x="181.31" y="299.45" width="46.59" height="0.9" fill="#8a1014" fill-opacity="0.45"/><rect x="223.41" y="297.25" width="4.5" height="2" rx="1" fill="#fff" fill-opacity="0.12"/></g><rect x="179.31" y="300.05" width="7.2" height="2.95" fill="#7a4a18" fill-opacity="0.95"/><g transform="rotate(1.1,179.17,302.7)"><rect x="179.17" y="302.7" width="50.5" height="4.3" rx="2.2" ry="2.2" fill="url(#Tfin)" stroke="#6a0e12" stroke-opacity="0.35" stroke-width="0.6"/><rect x="181.17" y="302.7" width="46.5" height="1.0" fill="#8a1014" fill-opacity="0.6"/><rect x="181.17" y="306.1" width="46.5" height="0.9" fill="#8a1014" fill-opacity="0.45"/><rect x="223.17" y="303.9" width="4.5" height="2" rx="1" fill="#fff" fill-opacity="0.12"/></g><rect x="179.17" y="306.7" width="7.2" height="2.95" fill="#7a4a18" fill-opacity="0.95"/><g transform="rotate(1.1,179.03,309.35)"><rect x="179.03" y="309.35" width="50.4" height="4.3" rx="2.2" ry="2.2" fill="url(#Tfin)" stroke="#6a0e12" stroke-opacity="0.35" stroke-width="0.6"/><rect x="181.03" y="309.35" width="46.4" height="1.0" fill="#8a1014" fill-opacity="0.6"/><rect x="181.03" y="312.75" width="46.4" height="0.9" fill="#8a1014" fill-opacity="0.45"/><rect x="222.93" y="310.55" width="4.5" height="2" rx="1" fill="#fff" fill-opacity="0.12"/></g><rect x="179.03" y="313.35" width="7.2" height="2.95" fill="#7a4a18" fill-opacity="0.95"/><g transform="rotate(1.1,178.89,316)"><rect x="178.89" y="316" width="50.3" height="4.3" rx="2.2" ry="2.2" fill="url(#Tfin)" stroke="#6a0e12" stroke-opacity="0.35" stroke-width="0.6"/><rect x="180.89" y="316" width="46.3" height="1.0" fill="#8a1014" fill-opacity="0.6"/><rect x="180.89" y="319.4" width="46.3" height="0.9" fill="#8a1014" fill-opacity="0.45"/><rect x="222.7" y="317.2" width="4.5" height="2" rx="1" fill="#fff" fill-opacity="0.12"/></g><rect x="178.89" y="320" width="7.2" height="2.95" fill="#7a4a18" fill-opacity="0.95"/><g transform="rotate(1.1,178.75,322.65)"><rect x="178.75" y="322.65" width="50.21" height="4.3" rx="2.2" ry="2.2" fill="url(#Tfin)" stroke="#6a0e12" stroke-opacity="0.35" stroke-width="0.6"/><rect x="180.75" y="322.65" width="46.21" height="1.0" fill="#8a1014" fill-opacity="0.6"/><rect x="180.75" y="326.05" width="46.21" height="0.9" fill="#8a1014" fill-opacity="0.45"/><rect x="222.46" y="323.85" width="4.5" height="2" rx="1" fill="#fff" fill-opacity="0.12"/></g><rect x="178.75" y="326.65" width="7.2" height="2.95" fill="#7a4a18" fill-opacity="0.95"/><g transform="rotate(1.1,178.61,329.3)"><rect x="178.61" y="329.3" width="50.11" height="4.3" rx="2.2" ry="2.2" fill="url(#Tfin)" stroke="#6a0e12" stroke-opacity="0.35" stroke-width="0.6"/><rect x="180.61" y="329.3" width="46.11" height="1.0" fill="#8a1014" fill-opacity="0.6"/><rect x="180.61" y="332.7" width="46.11" height="0.9" fill="#8a1014" fill-opacity="0.45"/><rect x="222.22" y="330.5" width="4.5" height="2" rx="1" fill="#fff" fill-opacity="0.12"/></g><rect x="178.61" y="333.3" width="7.2" height="2.95" fill="#7a4a18" fill-opacity="0.95"/><g transform="rotate(1.1,178.48,335.95)"><rect x="178.48" y="335.95" width="50.01" height="4.3" rx="2.2" ry="2.2" fill="url(#Tfin)" stroke="#6a0e12" stroke-opacity="0.35" stroke-width="0.6"/><rect x="180.48" y="335.95" width="46.01" height="1.0" fill="#8a1014" fill-opacity="0.6"/><rect x="180.48" y="339.35" width="46.01" height="0.9" fill="#8a1014" fill-opacity="0.45"/><rect x="221.99" y="337.15" width="4.5" height="2" rx="1" fill="#fff" fill-opacity="0.12"/></g><rect x="178.48" y="339.95" width="7.2" height="2.95" fill="#7a4a18" fill-opacity="0.95"/><g transform="rotate(1.1,178.34,342.6)"><rect x="178.34" y="342.6" width="49.92" height="4.3" rx="2.2" ry="2.2" fill="url(#Tfin)" stroke="#6a0e12" stroke-opacity="0.35" stroke-width="0.6"/><rect x="180.34" y="342.6" width="45.92" height="1.0" fill="#8a1014" fill-opacity="0.6"/><rect x="180.34" y="346" width="45.92" height="0.9" fill="#8a1014" fill-opacity="0.45"/><rect x="221.75" y="343.8" width="4.5" height="2" rx="1" fill="#fff" fill-opacity="0.12"/></g><rect x="178.34" y="346.6" width="7.2" height="2.95" fill="#7a4a18" fill-opacity="0.95"/><g transform="rotate(1.1,178.2,349.25)"><rect x="178.2" y="349.25" width="49.82" height="4.3" rx="2.2" ry="2.2" fill="url(#Tfin)" stroke="#6a0e12" stroke-opacity="0.35" stroke-width="0.6"/><rect x="180.2" y="349.25" width="45.82" height="1.0" fill="#8a1014" fill-opacity="0.6"/><rect x="180.2" y="352.65" width="45.82" height="0.9" fill="#8a1014" fill-opacity="0.45"/><rect x="221.52" y="350.45" width="4.5" height="2" rx="1" fill="#fff" fill-opacity="0.12"/></g><rect x="178.2" y="353.25" width="7.2" height="2.95" fill="#7a4a18" fill-opacity="0.95"/><g transform="rotate(1.1,178.06,355.9)"><rect x="178.06" y="355.9" width="49.72" height="4.3" rx="2.2" ry="2.2" fill="url(#Tfin)" stroke="#6a0e12" stroke-opacity="0.35" stroke-width="0.6"/><rect x="180.06" y="355.9" width="45.72" height="1.0" fill="#8a1014" fill-opacity="0.6"/><rect x="180.06" y="359.3" width="45.72" height="0.9" fill="#8a1014" fill-opacity="0.45"/><rect x="221.28" y="357.1" width="4.5" height="2" rx="1" fill="#fff" fill-opacity="0.12"/></g><rect x="178.06" y="359.9" width="7.2" height="2.95" fill="#7a4a18" fill-opacity="0.95"/><g transform="rotate(1.1,177.92,362.55)"><rect x="177.92" y="362.55" width="49.63" height="4.3" rx="2.2" ry="2.2" fill="url(#Tfin)" stroke="#6a0e12" stroke-opacity="0.35" stroke-width="0.6"/><rect x="179.92" y="362.55" width="45.63" height="1.0" fill="#8a1014" fill-opacity="0.6"/><rect x="179.92" y="365.95" width="45.63" height="0.9" fill="#8a1014" fill-opacity="0.45"/><rect x="221.04" y="363.75" width="4.5" height="2" rx="1" fill="#fff" fill-opacity="0.12"/></g><rect x="177.92" y="366.55" width="7.2" height="2.95" fill="#7a4a18" fill-opacity="0.95"/><g transform="rotate(1.1,177.78,369.2)"><rect x="177.78" y="369.2" width="49.53" height="4.3" rx="2.2" ry="2.2" fill="url(#Tfin)" stroke="#6a0e12" stroke-opacity="0.35" stroke-width="0.6"/><rect x="179.78" y="369.2" width="45.53" height="1.0" fill="#8a1014" fill-opacity="0.6"/><rect x="179.78" y="372.6" width="45.53" height="0.9" fill="#8a1014" fill-opacity="0.45"/><rect x="220.81" y="370.4" width="4.5" height="2" rx="1" fill="#fff" fill-opacity="0.12"/></g><rect x="177.78" y="373.2" width="7.2" height="2.95" fill="#7a4a18" fill-opacity="0.95"/><polyline points="206,128 200.5,291 198,365" fill="none" stroke="#505050" stroke-opacity="0.45" stroke-width="0.9"/><g clip-path="url(#Tclip)"><polygon points="153.49,127 153.21,136 151.23,200 148.13,300 145.77,376 145.71,378 143.79,440 140.69,540 138.26,618.5 137.43,645 141.11,645 141.85,618.5 143.93,540 146.66,440 148.3,378 148.21,376 150.53,300 153.58,200 155.53,136 155.81,127" fill="url(#Ts0)"/><polygon points="155.21,127 154.93,136 152.98,200 149.93,300 147.61,376 147.7,378 146.06,440 143.33,540 141.25,618.5 140.51,645 144.18,645 144.84,618.5 146.57,540 148.94,440 150.29,378 150.05,376 152.33,300 155.33,200 157.25,136 157.52,127" fill="url(#Ts1)"/><polygon points="156.92,127 156.65,136 154.73,200 151.73,300 149.45,376 149.69,378 148.34,440 145.97,540 144.24,618.5 143.58,645 147.25,645 147.83,618.5 149.21,540 151.21,440 152.28,378 151.88,376 154.13,300 157.08,200 158.97,136 159.24,127" fill="url(#Ts2)"/><polygon points="158.64,127 158.37,136 156.48,200 153.53,300 151.28,376 151.68,378 150.61,440 148.61,540 147.23,618.5 146.65,645 150.32,645 150.82,618.5 151.85,540 153.48,440 154.26,378 153.72,376 155.93,300 158.83,200 160.69,136 160.95,127" fill="url(#Ts3)"/><polygon points="160.35,127 160.09,136 158.23,200 155.33,300 153.12,376 153.66,378 152.88,440 151.25,540 150.22,618.5 149.72,645 153.39,645 153.81,618.5 154.49,540 155.75,440 156.25,378 155.56,376 157.73,300 160.58,200 162.41,136 162.67,127" fill="url(#Ts4)"/><polygon points="162.07,127 161.81,136 159.98,200 157.13,300 154.96,376 155.65,378 155.15,440 153.89,540 153.21,618.5 152.79,645 156.46,645 156.8,618.5 157.13,540 158.03,440 158.24,378 157.39,376 159.53,300 162.33,200 164.13,136 164.38,127" fill="url(#Ts5)"/><polygon points="163.78,127 163.53,136 161.73,200 158.93,300 156.79,376 157.64,378 157.43,440 156.53,540 156.2,618.5 155.86,645 159.53,645 159.8,618.5 159.77,540 160.3,440 160.23,378 159.23,376 161.33,300 164.08,200 165.85,136 166.1,127" fill="url(#Ts6)"/><polygon points="165.5,127 165.25,136 163.48,200 160.73,300 158.63,376 159.63,378 159.7,440 159.17,540 159.2,618.5 158.93,645 162.6,645 162.79,618.5 162.41,540 162.57,440 162.22,378 161.07,376 163.13,300 165.84,200 167.57,136 167.81,127" fill="url(#Ts7)"/><polygon points="167.21,127 166.97,136 165.24,200 162.53,300 160.47,376 161.62,378 161.97,440 161.81,540 162.19,618.5 162,645 165.67,645 165.78,618.5 165.05,540 164.84,440 164.21,378 162.9,376 164.93,300 167.59,200 169.29,136 169.53,127" fill="url(#Ts8)"/><polygon points="168.93,127 168.69,136 166.99,200 164.33,300 162.3,376 163.61,378 164.24,440 164.44,540 165.18,618.5 165.07,645 168.74,645 168.77,618.5 167.68,540 167.12,440 166.19,378 164.74,376 166.73,300 169.34,200 171.01,136 171.24,127" fill="url(#Ts9)"/><polygon points="170.64,127 170.41,136 168.74,200 166.13,300 164.14,376 165.59,378 166.52,440 167.08,540 168.17,618.5 168.14,645 171.81,645 171.76,618.5 170.32,540 169.39,440 168.18,378 166.58,376 168.52,300 171.09,200 172.73,136 172.96,127" fill="url(#Ts10)"/><polygon points="172.36,127 172.13,136 170.49,200 167.92,300 165.98,376 167.58,378 168.79,440 169.72,540 171.16,618.5 171.21,645 174.88,645 174.75,618.5 172.96,540 171.66,440 170.17,378 168.41,376 170.32,300 172.84,200 174.45,136 174.67,127" fill="url(#Ts11)"/><polygon points="174.07,127 173.85,136 172.24,200 169.72,300 167.81,376 169.57,378 171.06,440 172.36,540 174.15,618.5 174.28,645 177.95,645 177.74,618.5 175.6,540 173.94,440 172.16,378 170.25,376 172.12,300 174.59,200 176.17,136 176.39,127" fill="url(#Ts12)"/><polygon points="175.79,127 175.57,136 173.99,200 171.52,300 169.65,376 171.56,378 173.34,440 175,540 177.14,618.5 177.35,645 181.02,645 180.73,618.5 178.24,540 176.21,440 174.15,378 172.09,376 173.92,300 176.34,200 177.89,136 178.1,127" fill="url(#Ts13)"/><polygon points="177.5,127 177.29,136 175.74,200 173.32,300 171.49,376 173.55,378 175.61,440 177.64,540 180.13,618.5 180.42,645 184.09,645 183.73,618.5 180.88,540 178.48,440 176.14,378 173.92,376 175.72,300 178.09,200 179.6,136 179.82,127" fill="url(#Ts14)"/><polygon points="179.22,127 179,136 177.49,200 175.12,300 173.32,376 175.54,378 177.88,440 180.28,540 183.13,618.5 183.49,645 187.16,645 186.72,618.5 183.52,540 180.75,440 178.12,378 175.76,376 177.52,300 179.84,200 181.32,136 181.53,127" fill="url(#Ts15)"/><polygon points="180.93,127 180.72,136 179.24,200 176.92,300 175.16,376 177.52,378 180.15,440 182.92,540 186.12,618.5 186.56,645 190.23,645 189.71,618.5 186.16,540 183.03,440 180.11,378 177.6,376 179.32,300 181.59,200 183.04,136 183.25,127" fill="url(#Ts16)"/><polygon points="182.65,127 182.44,136 180.99,200 178.72,300 177,376 179.51,378 182.43,440 185.56,540 189.11,618.5 189.63,645 193.3,645 192.7,618.5 188.8,540 185.3,440 182.1,378 179.43,376 181.12,300 183.34,200 184.76,136 184.96,127" fill="url(#Ts17)"/></g><polyline points="155.35,136 148.06,376" fill="none" stroke="#000" stroke-opacity="0.15" stroke-width="0.8"/><polyline points="160.26,136 153.35,376" fill="none" stroke="#000" stroke-opacity="0.1" stroke-width="0.8"/><polyline points="168.84,136 162.6,376" fill="none" stroke="#000" stroke-opacity="0.1" stroke-width="0.8"/><polyline points="173.14,136 167.23,376" fill="none" stroke="#000" stroke-opacity="0.12" stroke-width="0.8"/><polyline points="178.35,136 172.85,376" fill="none" stroke="#000" stroke-opacity="0.22" stroke-width="0.8"/><polyline points="181.41,136 176.16,376" fill="none" stroke="#000" stroke-opacity="0.3" stroke-width="0.8"/><polyline points="183.25,136 178.14,376" fill="none" stroke="#000" stroke-opacity="0.2" stroke-width="0.8"/><polyline points="184.56,127 179.13,376" fill="none" stroke="#000" stroke-opacity="0.28" stroke-width="0.8"/><polyline points="154.19,127 146.47,376" fill="none" stroke="#000" stroke-opacity="0.2" stroke-width="0.8"/><polyline points="181.8,378 185,440 188.5,540 192.4,618.5" fill="none" stroke="#000" stroke-opacity="0.15" stroke-width="0.8"/><polyline points="192.4,618.5 186,625 169,639.5" fill="none" stroke="#000" stroke-opacity="0.12" stroke-width="0.8"/><polygon points="153.6,127 184.6,127 184.4,136 153.4,136" fill="#f09214" fill-opacity="0.9"/><polyline points="153.6,127.6 184.6,127.6" fill="none" stroke="#000" stroke-opacity="0.3" stroke-width="1"/><rect x="156" y="129.8" width="9" height="3.6" fill="#fff" fill-opacity="0.13"/><rect x="173.5" y="129.8" width="6" height="3.6" fill="#fff" fill-opacity="0.13"/><polyline points="168.8,128 168.8,136" fill="none" stroke="#000" stroke-opacity="0.15" stroke-width="0.8"/><polyline points="153.4,135.6 184.4,135.6" fill="none" stroke="#000" stroke-opacity="0.2" stroke-width="1"/><polygon points="121.5,374 149,374 152.5,637.5 133.4,637.5 132.6,552 126.8,546 125.6,456 121,452" fill="url(#Tbrk)" fill-opacity="0.93"/><polygon points="121.5,374 149,374 152.5,637.5 133.4,637.5 132.6,552 126.8,546 125.6,456 121,452" fill="url(#Tbpale)"/><polygon points="149.5,374 153.5,374 146,637.5 142,637.5" fill="#707030" fill-opacity="0.14"/><polyline points="149.6,374 142.2,637.5" fill="none" stroke="#707030" stroke-opacity="0.55" stroke-width="0.9"/><line x1="149.8" y1="375.5" x2="153.8" y2="375.5" stroke="#707030" stroke-opacity="0.5" stroke-width="0.8"/><line x1="153.8" y1="375.5" x2="158.3" y2="375.5" stroke="#707030" stroke-opacity="0.22" stroke-width="0.7"/><line x1="149.74" y1="377.5" x2="153.74" y2="377.5" stroke="#707030" stroke-opacity="0.5" stroke-width="0.8"/><line x1="153.74" y1="377.5" x2="158.24" y2="377.5" stroke="#707030" stroke-opacity="0.22" stroke-width="0.7"/><line x1="149.69" y1="379.5" x2="153.69" y2="379.5" stroke="#707030" stroke-opacity="0.5" stroke-width="0.8"/><line x1="153.69" y1="379.5" x2="158.19" y2="379.5" stroke="#707030" stroke-opacity="0.22" stroke-width="0.7"/><line x1="149.63" y1="381.5" x2="153.63" y2="381.5" stroke="#707030" stroke-opacity="0.5" stroke-width="0.8"/><line x1="153.63" y1="381.5" x2="158.13" y2="381.5" stroke="#707030" stroke-opacity="0.22" stroke-width="0.7"/><line x1="149.57" y1="383.5" x2="153.57" y2="383.5" stroke="#707030" stroke-opacity="0.5" stroke-width="0.8"/><line x1="153.57" y1="383.5" x2="158.07" y2="383.5" stroke="#707030" stroke-opacity="0.22" stroke-width="0.7"/><line x1="149.51" y1="385.5" x2="153.51" y2="385.5" stroke="#707030" stroke-opacity="0.5" stroke-width="0.8"/><line x1="153.51" y1="385.5" x2="158.01" y2="385.5" stroke="#707030" stroke-opacity="0.22" stroke-width="0.7"/><line x1="149.46" y1="387.5" x2="153.46" y2="387.5" stroke="#707030" stroke-opacity="0.5" stroke-width="0.8"/><line x1="153.46" y1="387.5" x2="157.96" y2="387.5" stroke="#707030" stroke-opacity="0.22" stroke-width="0.7"/><line x1="149.4" y1="389.5" x2="153.4" y2="389.5" stroke="#707030" stroke-opacity="0.5" stroke-width="0.8"/><line x1="153.4" y1="389.5" x2="157.9" y2="389.5" stroke="#707030" stroke-opacity="0.22" stroke-width="0.7"/><line x1="149.34" y1="391.5" x2="153.34" y2="391.5" stroke="#707030" stroke-opacity="0.5" stroke-width="0.8"/><line x1="153.34" y1="391.5" x2="157.84" y2="391.5" stroke="#707030" stroke-opacity="0.22" stroke-width="0.7"/><line x1="149.28" y1="393.5" x2="153.28" y2="393.5" stroke="#707030" stroke-opacity="0.5" stroke-width="0.8"/><line x1="153.28" y1="393.5" x2="157.78" y2="393.5" stroke="#707030" stroke-opacity="0.22" stroke-width="0.7"/><line x1="149.23" y1="395.5" x2="153.23" y2="395.5" stroke="#707030" stroke-opacity="0.5" stroke-width="0.8"/><line x1="153.23" y1="395.5" x2="157.73" y2="395.5" stroke="#707030" stroke-opacity="0.22" stroke-width="0.7"/><line x1="149.17" y1="397.5" x2="153.17" y2="397.5" stroke="#707030" stroke-opacity="0.5" stroke-width="0.8"/><line x1="153.17" y1="397.5" x2="157.67" y2="397.5" stroke="#707030" stroke-opacity="0.22" stroke-width="0.7"/><line x1="149.11" y1="399.5" x2="153.11" y2="399.5" stroke="#707030" stroke-opacity="0.5" stroke-width="0.8"/><line x1="153.11" y1="399.5" x2="157.61" y2="399.5" stroke="#707030" stroke-opacity="0.22" stroke-width="0.7"/><line x1="149.06" y1="401.5" x2="153.06" y2="401.5" stroke="#707030" stroke-opacity="0.5" stroke-width="0.8"/><line x1="153.06" y1="401.5" x2="157.56" y2="401.5" stroke="#707030" stroke-opacity="0.22" stroke-width="0.7"/><line x1="149" y1="403.5" x2="153" y2="403.5" stroke="#707030" stroke-opacity="0.5" stroke-width="0.8"/><line x1="153" y1="403.5" x2="157.5" y2="403.5" stroke="#707030" stroke-opacity="0.22" stroke-width="0.7"/><line x1="148.94" y1="405.5" x2="152.94" y2="405.5" stroke="#707030" stroke-opacity="0.5" stroke-width="0.8"/><line x1="152.94" y1="405.5" x2="157.44" y2="405.5" stroke="#707030" stroke-opacity="0.22" stroke-width="0.7"/><line x1="148.88" y1="407.5" x2="152.88" y2="407.5" stroke="#707030" stroke-opacity="0.5" stroke-width="0.8"/><line x1="152.88" y1="407.5" x2="157.38" y2="407.5" stroke="#707030" stroke-opacity="0.22" stroke-width="0.7"/><line x1="148.83" y1="409.5" x2="152.83" y2="409.5" stroke="#707030" stroke-opacity="0.5" stroke-width="0.8"/><line x1="152.83" y1="409.5" x2="157.33" y2="409.5" stroke="#707030" stroke-opacity="0.22" stroke-width="0.7"/><line x1="148.77" y1="411.5" x2="152.77" y2="411.5" stroke="#707030" stroke-opacity="0.5" stroke-width="0.8"/><line x1="152.77" y1="411.5" x2="157.27" y2="411.5" stroke="#707030" stroke-opacity="0.22" stroke-width="0.7"/><line x1="148.71" y1="413.5" x2="152.71" y2="413.5" stroke="#707030" stroke-opacity="0.5" stroke-width="0.8"/><line x1="152.71" y1="413.5" x2="157.21" y2="413.5" stroke="#707030" stroke-opacity="0.22" stroke-width="0.7"/><line x1="148.65" y1="415.5" x2="152.65" y2="415.5" stroke="#707030" stroke-opacity="0.5" stroke-width="0.8"/><line x1="152.65" y1="415.5" x2="157.15" y2="415.5" stroke="#707030" stroke-opacity="0.22" stroke-width="0.7"/><line x1="148.6" y1="417.5" x2="152.6" y2="417.5" stroke="#707030" stroke-opacity="0.5" stroke-width="0.8"/><line x1="152.6" y1="417.5" x2="157.1" y2="417.5" stroke="#707030" stroke-opacity="0.22" stroke-width="0.7"/><line x1="148.54" y1="419.5" x2="152.54" y2="419.5" stroke="#707030" stroke-opacity="0.5" stroke-width="0.8"/><line x1="152.54" y1="419.5" x2="157.04" y2="419.5" stroke="#707030" stroke-opacity="0.22" stroke-width="0.7"/><line x1="148.48" y1="421.5" x2="152.48" y2="421.5" stroke="#707030" stroke-opacity="0.5" stroke-width="0.8"/><line x1="152.48" y1="421.5" x2="156.98" y2="421.5" stroke="#707030" stroke-opacity="0.22" stroke-width="0.7"/><line x1="148.43" y1="423.5" x2="152.43" y2="423.5" stroke="#707030" stroke-opacity="0.5" stroke-width="0.8"/><line x1="152.43" y1="423.5" x2="156.93" y2="423.5" stroke="#707030" stroke-opacity="0.22" stroke-width="0.7"/><line x1="148.37" y1="425.5" x2="152.37" y2="425.5" stroke="#707030" stroke-opacity="0.5" stroke-width="0.8"/><line x1="152.37" y1="425.5" x2="156.87" y2="425.5" stroke="#707030" stroke-opacity="0.22" stroke-width="0.7"/><line x1="148.31" y1="427.5" x2="152.31" y2="427.5" stroke="#707030" stroke-opacity="0.5" stroke-width="0.8"/><line x1="152.31" y1="427.5" x2="156.81" y2="427.5" stroke="#707030" stroke-opacity="0.22" stroke-width="0.7"/><line x1="148.25" y1="429.5" x2="152.25" y2="429.5" stroke="#707030" stroke-opacity="0.5" stroke-width="0.8"/><line x1="152.25" y1="429.5" x2="156.75" y2="429.5" stroke="#707030" stroke-opacity="0.22" stroke-width="0.7"/><line x1="148.2" y1="431.5" x2="152.2" y2="431.5" stroke="#707030" stroke-opacity="0.5" stroke-width="0.8"/><line x1="152.2" y1="431.5" x2="156.7" y2="431.5" stroke="#707030" stroke-opacity="0.22" stroke-width="0.7"/><line x1="148.14" y1="433.5" x2="152.14" y2="433.5" stroke="#707030" stroke-opacity="0.5" stroke-width="0.8"/><line x1="152.14" y1="433.5" x2="156.64" y2="433.5" stroke="#707030" stroke-opacity="0.22" stroke-width="0.7"/><line x1="148.08" y1="435.5" x2="152.08" y2="435.5" stroke="#707030" stroke-opacity="0.5" stroke-width="0.8"/><line x1="152.08" y1="435.5" x2="156.58" y2="435.5" stroke="#707030" stroke-opacity="0.22" stroke-width="0.7"/><line x1="148.03" y1="437.5" x2="152.03" y2="437.5" stroke="#707030" stroke-opacity="0.5" stroke-width="0.8"/><line x1="152.03" y1="437.5" x2="156.53" y2="437.5" stroke="#707030" stroke-opacity="0.22" stroke-width="0.7"/><line x1="147.97" y1="439.5" x2="151.97" y2="439.5" stroke="#707030" stroke-opacity="0.5" stroke-width="0.8"/><line x1="151.97" y1="439.5" x2="156.47" y2="439.5" stroke="#707030" stroke-opacity="0.22" stroke-width="0.7"/><line x1="147.91" y1="441.5" x2="151.91" y2="441.5" stroke="#707030" stroke-opacity="0.5" stroke-width="0.8"/><line x1="151.91" y1="441.5" x2="156.41" y2="441.5" stroke="#707030" stroke-opacity="0.22" stroke-width="0.7"/><line x1="147.85" y1="443.5" x2="151.85" y2="443.5" stroke="#707030" stroke-opacity="0.5" stroke-width="0.8"/><line x1="151.85" y1="443.5" x2="156.35" y2="443.5" stroke="#707030" stroke-opacity="0.22" stroke-width="0.7"/><line x1="147.8" y1="445.5" x2="151.8" y2="445.5" stroke="#707030" stroke-opacity="0.5" stroke-width="0.8"/><line x1="151.8" y1="445.5" x2="156.3" y2="445.5" stroke="#707030" stroke-opacity="0.22" stroke-width="0.7"/><line x1="147.74" y1="447.5" x2="151.74" y2="447.5" stroke="#707030" stroke-opacity="0.5" stroke-width="0.8"/><line x1="151.74" y1="447.5" x2="156.24" y2="447.5" stroke="#707030" stroke-opacity="0.22" stroke-width="0.7"/><line x1="147.68" y1="449.5" x2="151.68" y2="449.5" stroke="#707030" stroke-opacity="0.5" stroke-width="0.8"/><line x1="151.68" y1="449.5" x2="156.18" y2="449.5" stroke="#707030" stroke-opacity="0.22" stroke-width="0.7"/><line x1="147.62" y1="451.5" x2="151.62" y2="451.5" stroke="#707030" stroke-opacity="0.5" stroke-width="0.8"/><line x1="151.62" y1="451.5" x2="156.12" y2="451.5" stroke="#707030" stroke-opacity="0.22" stroke-width="0.7"/><line x1="147.57" y1="453.5" x2="151.57" y2="453.5" stroke="#707030" stroke-opacity="0.5" stroke-width="0.8"/><line x1="151.57" y1="453.5" x2="156.07" y2="453.5" stroke="#707030" stroke-opacity="0.22" stroke-width="0.7"/><line x1="147.51" y1="455.5" x2="151.51" y2="455.5" stroke="#707030" stroke-opacity="0.5" stroke-width="0.8"/><line x1="151.51" y1="455.5" x2="156.01" y2="455.5" stroke="#707030" stroke-opacity="0.22" stroke-width="0.7"/><line x1="147.45" y1="457.5" x2="151.45" y2="457.5" stroke="#707030" stroke-opacity="0.5" stroke-width="0.8"/><line x1="151.45" y1="457.5" x2="155.95" y2="457.5" stroke="#707030" stroke-opacity="0.22" stroke-width="0.7"/><line x1="147.4" y1="459.5" x2="151.4" y2="459.5" stroke="#707030" stroke-opacity="0.5" stroke-width="0.8"/><line x1="151.4" y1="459.5" x2="155.9" y2="459.5" stroke="#707030" stroke-opacity="0.22" stroke-width="0.7"/><line x1="147.34" y1="461.5" x2="151.34" y2="461.5" stroke="#707030" stroke-opacity="0.5" stroke-width="0.8"/><line x1="151.34" y1="461.5" x2="155.84" y2="461.5" stroke="#707030" stroke-opacity="0.22" stroke-width="0.7"/><line x1="147.28" y1="463.5" x2="151.28" y2="463.5" stroke="#707030" stroke-opacity="0.5" stroke-width="0.8"/><line x1="151.28" y1="463.5" x2="155.78" y2="463.5" stroke="#707030" stroke-opacity="0.22" stroke-width="0.7"/><line x1="147.22" y1="465.5" x2="151.22" y2="465.5" stroke="#707030" stroke-opacity="0.5" stroke-width="0.8"/><line x1="151.22" y1="465.5" x2="155.72" y2="465.5" stroke="#707030" stroke-opacity="0.22" stroke-width="0.7"/><line x1="147.17" y1="467.5" x2="151.17" y2="467.5" stroke="#707030" stroke-opacity="0.5" stroke-width="0.8"/><line x1="151.17" y1="467.5" x2="155.67" y2="467.5" stroke="#707030" stroke-opacity="0.22" stroke-width="0.7"/><line x1="147.11" y1="469.5" x2="151.11" y2="469.5" stroke="#707030" stroke-opacity="0.5" stroke-width="0.8"/><line x1="151.11" y1="469.5" x2="155.61" y2="469.5" stroke="#707030" stroke-opacity="0.22" stroke-width="0.7"/><line x1="147.05" y1="471.5" x2="151.05" y2="471.5" stroke="#707030" stroke-opacity="0.5" stroke-width="0.8"/><line x1="151.05" y1="471.5" x2="155.55" y2="471.5" stroke="#707030" stroke-opacity="0.22" stroke-width="0.7"/><line x1="146.99" y1="473.5" x2="150.99" y2="473.5" stroke="#707030" stroke-opacity="0.5" stroke-width="0.8"/><line x1="150.99" y1="473.5" x2="155.49" y2="473.5" stroke="#707030" stroke-opacity="0.22" stroke-width="0.7"/><line x1="146.94" y1="475.5" x2="150.94" y2="475.5" stroke="#707030" stroke-opacity="0.5" stroke-width="0.8"/><line x1="150.94" y1="475.5" x2="155.44" y2="475.5" stroke="#707030" stroke-opacity="0.22" stroke-width="0.7"/><line x1="146.88" y1="477.5" x2="150.88" y2="477.5" stroke="#707030" stroke-opacity="0.5" stroke-width="0.8"/><line x1="150.88" y1="477.5" x2="155.38" y2="477.5" stroke="#707030" stroke-opacity="0.22" stroke-width="0.7"/><line x1="146.82" y1="479.5" x2="150.82" y2="479.5" stroke="#707030" stroke-opacity="0.5" stroke-width="0.8"/><line x1="150.82" y1="479.5" x2="155.32" y2="479.5" stroke="#707030" stroke-opacity="0.22" stroke-width="0.7"/><line x1="146.77" y1="481.5" x2="150.77" y2="481.5" stroke="#707030" stroke-opacity="0.5" stroke-width="0.8"/><line x1="150.77" y1="481.5" x2="155.27" y2="481.5" stroke="#707030" stroke-opacity="0.22" stroke-width="0.7"/><line x1="146.71" y1="483.5" x2="150.71" y2="483.5" stroke="#707030" stroke-opacity="0.5" stroke-width="0.8"/><line x1="150.71" y1="483.5" x2="155.21" y2="483.5" stroke="#707030" stroke-opacity="0.22" stroke-width="0.7"/><line x1="146.65" y1="485.5" x2="150.65" y2="485.5" stroke="#707030" stroke-opacity="0.5" stroke-width="0.8"/><line x1="150.65" y1="485.5" x2="155.15" y2="485.5" stroke="#707030" stroke-opacity="0.22" stroke-width="0.7"/><line x1="146.59" y1="487.5" x2="150.59" y2="487.5" stroke="#707030" stroke-opacity="0.5" stroke-width="0.8"/><line x1="150.59" y1="487.5" x2="155.09" y2="487.5" stroke="#707030" stroke-opacity="0.22" stroke-width="0.7"/><line x1="146.54" y1="489.5" x2="150.54" y2="489.5" stroke="#707030" stroke-opacity="0.5" stroke-width="0.8"/><line x1="150.54" y1="489.5" x2="155.04" y2="489.5" stroke="#707030" stroke-opacity="0.22" stroke-width="0.7"/><line x1="146.48" y1="491.5" x2="150.48" y2="491.5" stroke="#707030" stroke-opacity="0.5" stroke-width="0.8"/><line x1="150.48" y1="491.5" x2="154.98" y2="491.5" stroke="#707030" stroke-opacity="0.22" stroke-width="0.7"/><line x1="146.42" y1="493.5" x2="150.42" y2="493.5" stroke="#707030" stroke-opacity="0.5" stroke-width="0.8"/><line x1="150.42" y1="493.5" x2="154.92" y2="493.5" stroke="#707030" stroke-opacity="0.22" stroke-width="0.7"/><line x1="146.36" y1="495.5" x2="150.36" y2="495.5" stroke="#707030" stroke-opacity="0.5" stroke-width="0.8"/><line x1="150.36" y1="495.5" x2="154.86" y2="495.5" stroke="#707030" stroke-opacity="0.22" stroke-width="0.7"/><line x1="146.31" y1="497.5" x2="150.31" y2="497.5" stroke="#707030" stroke-opacity="0.5" stroke-width="0.8"/><line x1="150.31" y1="497.5" x2="154.81" y2="497.5" stroke="#707030" stroke-opacity="0.22" stroke-width="0.7"/><line x1="146.25" y1="499.5" x2="150.25" y2="499.5" stroke="#707030" stroke-opacity="0.5" stroke-width="0.8"/><line x1="150.25" y1="499.5" x2="154.75" y2="499.5" stroke="#707030" stroke-opacity="0.22" stroke-width="0.7"/><line x1="146.19" y1="501.5" x2="150.19" y2="501.5" stroke="#707030" stroke-opacity="0.5" stroke-width="0.8"/><line x1="150.19" y1="501.5" x2="154.69" y2="501.5" stroke="#707030" stroke-opacity="0.22" stroke-width="0.7"/><line x1="146.14" y1="503.5" x2="150.14" y2="503.5" stroke="#707030" stroke-opacity="0.5" stroke-width="0.8"/><line x1="150.14" y1="503.5" x2="154.64" y2="503.5" stroke="#707030" stroke-opacity="0.22" stroke-width="0.7"/><line x1="146.08" y1="505.5" x2="150.08" y2="505.5" stroke="#707030" stroke-opacity="0.5" stroke-width="0.8"/><line x1="150.08" y1="505.5" x2="154.58" y2="505.5" stroke="#707030" stroke-opacity="0.22" stroke-width="0.7"/><line x1="146.02" y1="507.5" x2="150.02" y2="507.5" stroke="#707030" stroke-opacity="0.5" stroke-width="0.8"/><line x1="150.02" y1="507.5" x2="154.52" y2="507.5" stroke="#707030" stroke-opacity="0.22" stroke-width="0.7"/><line x1="145.96" y1="509.5" x2="149.96" y2="509.5" stroke="#707030" stroke-opacity="0.5" stroke-width="0.8"/><line x1="149.96" y1="509.5" x2="154.46" y2="509.5" stroke="#707030" stroke-opacity="0.22" stroke-width="0.7"/><line x1="145.91" y1="511.5" x2="149.91" y2="511.5" stroke="#707030" stroke-opacity="0.5" stroke-width="0.8"/><line x1="149.91" y1="511.5" x2="154.41" y2="511.5" stroke="#707030" stroke-opacity="0.22" stroke-width="0.7"/><line x1="145.85" y1="513.5" x2="149.85" y2="513.5" stroke="#707030" stroke-opacity="0.5" stroke-width="0.8"/><line x1="149.85" y1="513.5" x2="154.35" y2="513.5" stroke="#707030" stroke-opacity="0.22" stroke-width="0.7"/><line x1="145.79" y1="515.5" x2="149.79" y2="515.5" stroke="#707030" stroke-opacity="0.5" stroke-width="0.8"/><line x1="149.79" y1="515.5" x2="154.29" y2="515.5" stroke="#707030" stroke-opacity="0.22" stroke-width="0.7"/><line x1="145.74" y1="517.5" x2="149.74" y2="517.5" stroke="#707030" stroke-opacity="0.5" stroke-width="0.8"/><line x1="149.74" y1="517.5" x2="154.24" y2="517.5" stroke="#707030" stroke-opacity="0.22" stroke-width="0.7"/><line x1="145.68" y1="519.5" x2="149.68" y2="519.5" stroke="#707030" stroke-opacity="0.5" stroke-width="0.8"/><line x1="149.68" y1="519.5" x2="154.18" y2="519.5" stroke="#707030" stroke-opacity="0.22" stroke-width="0.7"/><line x1="145.62" y1="521.5" x2="149.62" y2="521.5" stroke="#707030" stroke-opacity="0.5" stroke-width="0.8"/><line x1="149.62" y1="521.5" x2="154.12" y2="521.5" stroke="#707030" stroke-opacity="0.22" stroke-width="0.7"/><line x1="145.56" y1="523.5" x2="149.56" y2="523.5" stroke="#707030" stroke-opacity="0.5" stroke-width="0.8"/><line x1="149.56" y1="523.5" x2="154.06" y2="523.5" stroke="#707030" stroke-opacity="0.22" stroke-width="0.7"/><line x1="145.51" y1="525.5" x2="149.51" y2="525.5" stroke="#707030" stroke-opacity="0.5" stroke-width="0.8"/><line x1="149.51" y1="525.5" x2="154.01" y2="525.5" stroke="#707030" stroke-opacity="0.22" stroke-width="0.7"/><line x1="145.45" y1="527.5" x2="149.45" y2="527.5" stroke="#707030" stroke-opacity="0.5" stroke-width="0.8"/><line x1="149.45" y1="527.5" x2="153.95" y2="527.5" stroke="#707030" stroke-opacity="0.22" stroke-width="0.7"/><line x1="145.39" y1="529.5" x2="149.39" y2="529.5" stroke="#707030" stroke-opacity="0.5" stroke-width="0.8"/><line x1="149.39" y1="529.5" x2="153.89" y2="529.5" stroke="#707030" stroke-opacity="0.22" stroke-width="0.7"/><line x1="145.33" y1="531.5" x2="149.33" y2="531.5" stroke="#707030" stroke-opacity="0.5" stroke-width="0.8"/><line x1="149.33" y1="531.5" x2="153.83" y2="531.5" stroke="#707030" stroke-opacity="0.22" stroke-width="0.7"/><line x1="145.28" y1="533.5" x2="149.28" y2="533.5" stroke="#707030" stroke-opacity="0.5" stroke-width="0.8"/><line x1="149.28" y1="533.5" x2="153.78" y2="533.5" stroke="#707030" stroke-opacity="0.22" stroke-width="0.7"/><line x1="145.22" y1="535.5" x2="149.22" y2="535.5" stroke="#707030" stroke-opacity="0.5" stroke-width="0.8"/><line x1="149.22" y1="535.5" x2="153.72" y2="535.5" stroke="#707030" stroke-opacity="0.22" stroke-width="0.7"/><line x1="145.16" y1="537.5" x2="149.16" y2="537.5" stroke="#707030" stroke-opacity="0.5" stroke-width="0.8"/><line x1="149.16" y1="537.5" x2="153.66" y2="537.5" stroke="#707030" stroke-opacity="0.22" stroke-width="0.7"/><line x1="145.11" y1="539.5" x2="149.11" y2="539.5" stroke="#707030" stroke-opacity="0.5" stroke-width="0.8"/><line x1="149.11" y1="539.5" x2="153.61" y2="539.5" stroke="#707030" stroke-opacity="0.22" stroke-width="0.7"/><line x1="145.05" y1="541.5" x2="149.05" y2="541.5" stroke="#707030" stroke-opacity="0.5" stroke-width="0.8"/><line x1="149.05" y1="541.5" x2="153.55" y2="541.5" stroke="#707030" stroke-opacity="0.22" stroke-width="0.7"/><line x1="144.99" y1="543.5" x2="148.99" y2="543.5" stroke="#707030" stroke-opacity="0.5" stroke-width="0.8"/><line x1="148.99" y1="543.5" x2="153.49" y2="543.5" stroke="#707030" stroke-opacity="0.22" stroke-width="0.7"/><line x1="144.93" y1="545.5" x2="148.93" y2="545.5" stroke="#707030" stroke-opacity="0.5" stroke-width="0.8"/><line x1="148.93" y1="545.5" x2="153.43" y2="545.5" stroke="#707030" stroke-opacity="0.22" stroke-width="0.7"/><line x1="144.88" y1="547.5" x2="148.88" y2="547.5" stroke="#707030" stroke-opacity="0.5" stroke-width="0.8"/><line x1="148.88" y1="547.5" x2="153.38" y2="547.5" stroke="#707030" stroke-opacity="0.22" stroke-width="0.7"/><line x1="144.82" y1="549.5" x2="148.82" y2="549.5" stroke="#707030" stroke-opacity="0.5" stroke-width="0.8"/><line x1="148.82" y1="549.5" x2="153.32" y2="549.5" stroke="#707030" stroke-opacity="0.22" stroke-width="0.7"/><line x1="144.76" y1="551.5" x2="148.76" y2="551.5" stroke="#707030" stroke-opacity="0.5" stroke-width="0.8"/><line x1="148.76" y1="551.5" x2="153.26" y2="551.5" stroke="#707030" stroke-opacity="0.22" stroke-width="0.7"/><line x1="144.7" y1="553.5" x2="148.7" y2="553.5" stroke="#707030" stroke-opacity="0.5" stroke-width="0.8"/><line x1="148.7" y1="553.5" x2="153.2" y2="553.5" stroke="#707030" stroke-opacity="0.22" stroke-width="0.7"/><line x1="144.65" y1="555.5" x2="148.65" y2="555.5" stroke="#707030" stroke-opacity="0.5" stroke-width="0.8"/><line x1="148.65" y1="555.5" x2="153.15" y2="555.5" stroke="#707030" stroke-opacity="0.22" stroke-width="0.7"/><line x1="144.59" y1="557.5" x2="148.59" y2="557.5" stroke="#707030" stroke-opacity="0.5" stroke-width="0.8"/><line x1="148.59" y1="557.5" x2="153.09" y2="557.5" stroke="#707030" stroke-opacity="0.22" stroke-width="0.7"/><line x1="144.53" y1="559.5" x2="148.53" y2="559.5" stroke="#707030" stroke-opacity="0.5" stroke-width="0.8"/><line x1="148.53" y1="559.5" x2="153.03" y2="559.5" stroke="#707030" stroke-opacity="0.22" stroke-width="0.7"/><line x1="144.48" y1="561.5" x2="148.48" y2="561.5" stroke="#707030" stroke-opacity="0.5" stroke-width="0.8"/><line x1="148.48" y1="561.5" x2="152.98" y2="561.5" stroke="#707030" stroke-opacity="0.22" stroke-width="0.7"/><line x1="144.42" y1="563.5" x2="148.42" y2="563.5" stroke="#707030" stroke-opacity="0.5" stroke-width="0.8"/><line x1="148.42" y1="563.5" x2="152.92" y2="563.5" stroke="#707030" stroke-opacity="0.22" stroke-width="0.7"/><line x1="144.36" y1="565.5" x2="148.36" y2="565.5" stroke="#707030" stroke-opacity="0.5" stroke-width="0.8"/><line x1="148.36" y1="565.5" x2="152.86" y2="565.5" stroke="#707030" stroke-opacity="0.22" stroke-width="0.7"/><line x1="144.3" y1="567.5" x2="148.3" y2="567.5" stroke="#707030" stroke-opacity="0.5" stroke-width="0.8"/><line x1="148.3" y1="567.5" x2="152.8" y2="567.5" stroke="#707030" stroke-opacity="0.22" stroke-width="0.7"/><line x1="144.25" y1="569.5" x2="148.25" y2="569.5" stroke="#707030" stroke-opacity="0.5" stroke-width="0.8"/><line x1="148.25" y1="569.5" x2="152.75" y2="569.5" stroke="#707030" stroke-opacity="0.22" stroke-width="0.7"/><line x1="144.19" y1="571.5" x2="148.19" y2="571.5" stroke="#707030" stroke-opacity="0.5" stroke-width="0.8"/><line x1="148.19" y1="571.5" x2="152.69" y2="571.5" stroke="#707030" stroke-opacity="0.22" stroke-width="0.7"/><line x1="144.13" y1="573.5" x2="148.13" y2="573.5" stroke="#707030" stroke-opacity="0.5" stroke-width="0.8"/><line x1="148.13" y1="573.5" x2="152.63" y2="573.5" stroke="#707030" stroke-opacity="0.22" stroke-width="0.7"/><line x1="144.07" y1="575.5" x2="148.07" y2="575.5" stroke="#707030" stroke-opacity="0.5" stroke-width="0.8"/><line x1="148.07" y1="575.5" x2="152.57" y2="575.5" stroke="#707030" stroke-opacity="0.22" stroke-width="0.7"/><line x1="144.02" y1="577.5" x2="148.02" y2="577.5" stroke="#707030" stroke-opacity="0.5" stroke-width="0.8"/><line x1="148.02" y1="577.5" x2="152.52" y2="577.5" stroke="#707030" stroke-opacity="0.22" stroke-width="0.7"/><line x1="143.96" y1="579.5" x2="147.96" y2="579.5" stroke="#707030" stroke-opacity="0.5" stroke-width="0.8"/><line x1="147.96" y1="579.5" x2="152.46" y2="579.5" stroke="#707030" stroke-opacity="0.22" stroke-width="0.7"/><line x1="143.9" y1="581.5" x2="147.9" y2="581.5" stroke="#707030" stroke-opacity="0.5" stroke-width="0.8"/><line x1="147.9" y1="581.5" x2="152.4" y2="581.5" stroke="#707030" stroke-opacity="0.22" stroke-width="0.7"/><line x1="143.85" y1="583.5" x2="147.85" y2="583.5" stroke="#707030" stroke-opacity="0.5" stroke-width="0.8"/><line x1="147.85" y1="583.5" x2="152.35" y2="583.5" stroke="#707030" stroke-opacity="0.22" stroke-width="0.7"/><line x1="143.79" y1="585.5" x2="147.79" y2="585.5" stroke="#707030" stroke-opacity="0.5" stroke-width="0.8"/><line x1="147.79" y1="585.5" x2="152.29" y2="585.5" stroke="#707030" stroke-opacity="0.22" stroke-width="0.7"/><line x1="143.73" y1="587.5" x2="147.73" y2="587.5" stroke="#707030" stroke-opacity="0.5" stroke-width="0.8"/><line x1="147.73" y1="587.5" x2="152.23" y2="587.5" stroke="#707030" stroke-opacity="0.22" stroke-width="0.7"/><line x1="143.67" y1="589.5" x2="147.67" y2="589.5" stroke="#707030" stroke-opacity="0.5" stroke-width="0.8"/><line x1="147.67" y1="589.5" x2="152.17" y2="589.5" stroke="#707030" stroke-opacity="0.22" stroke-width="0.7"/><line x1="143.62" y1="591.5" x2="147.62" y2="591.5" stroke="#707030" stroke-opacity="0.5" stroke-width="0.8"/><line x1="147.62" y1="591.5" x2="152.12" y2="591.5" stroke="#707030" stroke-opacity="0.22" stroke-width="0.7"/><line x1="143.56" y1="593.5" x2="147.56" y2="593.5" stroke="#707030" stroke-opacity="0.5" stroke-width="0.8"/><line x1="147.56" y1="593.5" x2="152.06" y2="593.5" stroke="#707030" stroke-opacity="0.22" stroke-width="0.7"/><line x1="143.5" y1="595.5" x2="147.5" y2="595.5" stroke="#707030" stroke-opacity="0.5" stroke-width="0.8"/><line x1="147.5" y1="595.5" x2="152" y2="595.5" stroke="#707030" stroke-opacity="0.22" stroke-width="0.7"/><line x1="143.45" y1="597.5" x2="147.45" y2="597.5" stroke="#707030" stroke-opacity="0.5" stroke-width="0.8"/><line x1="147.45" y1="597.5" x2="151.95" y2="597.5" stroke="#707030" stroke-opacity="0.22" stroke-width="0.7"/><line x1="143.39" y1="599.5" x2="147.39" y2="599.5" stroke="#707030" stroke-opacity="0.5" stroke-width="0.8"/><line x1="147.39" y1="599.5" x2="151.89" y2="599.5" stroke="#707030" stroke-opacity="0.22" stroke-width="0.7"/><line x1="143.33" y1="601.5" x2="147.33" y2="601.5" stroke="#707030" stroke-opacity="0.5" stroke-width="0.8"/><line x1="147.33" y1="601.5" x2="151.83" y2="601.5" stroke="#707030" stroke-opacity="0.22" stroke-width="0.7"/><line x1="143.27" y1="603.5" x2="147.27" y2="603.5" stroke="#707030" stroke-opacity="0.5" stroke-width="0.8"/><line x1="147.27" y1="603.5" x2="151.77" y2="603.5" stroke="#707030" stroke-opacity="0.22" stroke-width="0.7"/><line x1="143.22" y1="605.5" x2="147.22" y2="605.5" stroke="#707030" stroke-opacity="0.5" stroke-width="0.8"/><line x1="147.22" y1="605.5" x2="151.72" y2="605.5" stroke="#707030" stroke-opacity="0.22" stroke-width="0.7"/><line x1="143.16" y1="607.5" x2="147.16" y2="607.5" stroke="#707030" stroke-opacity="0.5" stroke-width="0.8"/><line x1="147.16" y1="607.5" x2="151.66" y2="607.5" stroke="#707030" stroke-opacity="0.22" stroke-width="0.7"/><line x1="143.1" y1="609.5" x2="147.1" y2="609.5" stroke="#707030" stroke-opacity="0.5" stroke-width="0.8"/><line x1="147.1" y1="609.5" x2="151.6" y2="609.5" stroke="#707030" stroke-opacity="0.22" stroke-width="0.7"/><line x1="143.04" y1="611.5" x2="147.04" y2="611.5" stroke="#707030" stroke-opacity="0.5" stroke-width="0.8"/><line x1="147.04" y1="611.5" x2="151.54" y2="611.5" stroke="#707030" stroke-opacity="0.22" stroke-width="0.7"/><line x1="142.99" y1="613.5" x2="146.99" y2="613.5" stroke="#707030" stroke-opacity="0.5" stroke-width="0.8"/><line x1="146.99" y1="613.5" x2="151.49" y2="613.5" stroke="#707030" stroke-opacity="0.22" stroke-width="0.7"/><line x1="142.93" y1="615.5" x2="146.93" y2="615.5" stroke="#707030" stroke-opacity="0.5" stroke-width="0.8"/><line x1="146.93" y1="615.5" x2="151.43" y2="615.5" stroke="#707030" stroke-opacity="0.22" stroke-width="0.7"/><line x1="142.87" y1="617.5" x2="146.87" y2="617.5" stroke="#707030" stroke-opacity="0.5" stroke-width="0.8"/><line x1="146.87" y1="617.5" x2="151.37" y2="617.5" stroke="#707030" stroke-opacity="0.22" stroke-width="0.7"/><line x1="142.82" y1="619.5" x2="146.82" y2="619.5" stroke="#707030" stroke-opacity="0.5" stroke-width="0.8"/><line x1="146.82" y1="619.5" x2="151.32" y2="619.5" stroke="#707030" stroke-opacity="0.22" stroke-width="0.7"/><line x1="142.76" y1="621.5" x2="146.76" y2="621.5" stroke="#707030" stroke-opacity="0.5" stroke-width="0.8"/><line x1="146.76" y1="621.5" x2="151.26" y2="621.5" stroke="#707030" stroke-opacity="0.22" stroke-width="0.7"/><line x1="142.7" y1="623.5" x2="146.7" y2="623.5" stroke="#707030" stroke-opacity="0.5" stroke-width="0.8"/><line x1="146.7" y1="623.5" x2="151.2" y2="623.5" stroke="#707030" stroke-opacity="0.22" stroke-width="0.7"/><line x1="142.64" y1="625.5" x2="146.64" y2="625.5" stroke="#707030" stroke-opacity="0.5" stroke-width="0.8"/><line x1="146.64" y1="625.5" x2="151.14" y2="625.5" stroke="#707030" stroke-opacity="0.22" stroke-width="0.7"/><line x1="142.59" y1="627.5" x2="146.59" y2="627.5" stroke="#707030" stroke-opacity="0.5" stroke-width="0.8"/><line x1="146.59" y1="627.5" x2="151.09" y2="627.5" stroke="#707030" stroke-opacity="0.22" stroke-width="0.7"/><line x1="142.53" y1="629.5" x2="146.53" y2="629.5" stroke="#707030" stroke-opacity="0.5" stroke-width="0.8"/><line x1="146.53" y1="629.5" x2="151.03" y2="629.5" stroke="#707030" stroke-opacity="0.22" stroke-width="0.7"/><line x1="142.47" y1="631.5" x2="146.47" y2="631.5" stroke="#707030" stroke-opacity="0.5" stroke-width="0.8"/><line x1="146.47" y1="631.5" x2="150.97" y2="631.5" stroke="#707030" stroke-opacity="0.22" stroke-width="0.7"/><line x1="142.41" y1="633.5" x2="146.41" y2="633.5" stroke="#707030" stroke-opacity="0.5" stroke-width="0.8"/><line x1="146.41" y1="633.5" x2="150.91" y2="633.5" stroke="#707030" stroke-opacity="0.22" stroke-width="0.7"/><line x1="142.36" y1="635.5" x2="146.36" y2="635.5" stroke="#707030" stroke-opacity="0.5" stroke-width="0.8"/><line x1="146.36" y1="635.5" x2="150.86" y2="635.5" stroke="#707030" stroke-opacity="0.22" stroke-width="0.7"/><line x1="142.3" y1="637.5" x2="146.3" y2="637.5" stroke="#707030" stroke-opacity="0.5" stroke-width="0.8"/><line x1="146.3" y1="637.5" x2="150.8" y2="637.5" stroke="#707030" stroke-opacity="0.22" stroke-width="0.7"/><polyline points="122.42,399 150,399" fill="none" stroke="#606020" stroke-opacity="0.5" stroke-width="1"/><polyline points="122.42,401.2 150,401.2" fill="none" stroke="#606020" stroke-opacity="0.18" stroke-width="0.8"/><polyline points="144,399 149,399" fill="none" stroke="#606020" stroke-opacity="0.55" stroke-width="1.6"/><polyline points="122.84,425.4 150,425.4" fill="none" stroke="#606020" stroke-opacity="0.5" stroke-width="1"/><polyline points="122.84,427.6 150,427.6" fill="none" stroke="#606020" stroke-opacity="0.18" stroke-width="0.8"/><polyline points="144,425.4 149,425.4" fill="none" stroke="#606020" stroke-opacity="0.55" stroke-width="1.6"/><polyline points="126.02,452.5 150,452.5" fill="none" stroke="#606020" stroke-opacity="0.5" stroke-width="1"/><polyline points="126.02,454.7 150,454.7" fill="none" stroke="#606020" stroke-opacity="0.18" stroke-width="0.8"/><polyline points="144,452.5 149,452.5" fill="none" stroke="#606020" stroke-opacity="0.55" stroke-width="1.6"/><polyline points="126.84,480 150,480" fill="none" stroke="#606020" stroke-opacity="0.5" stroke-width="1"/><polyline points="126.84,482.2 150,482.2" fill="none" stroke="#606020" stroke-opacity="0.18" stroke-width="0.8"/><polyline points="144,480 149,480" fill="none" stroke="#606020" stroke-opacity="0.55" stroke-width="1.6"/><polyline points="127.68,508 150,508" fill="none" stroke="#606020" stroke-opacity="0.5" stroke-width="1"/><polyline points="127.68,510.2 150,510.2" fill="none" stroke="#606020" stroke-opacity="0.18" stroke-width="0.8"/><polyline points="144,508 149,508" fill="none" stroke="#606020" stroke-opacity="0.55" stroke-width="1.6"/><polyline points="128.53,536.5 150,536.5" fill="none" stroke="#606020" stroke-opacity="0.5" stroke-width="1"/><polyline points="128.53,538.7 150,538.7" fill="none" stroke="#606020" stroke-opacity="0.18" stroke-width="0.8"/><polyline points="144,536.5 149,536.5" fill="none" stroke="#606020" stroke-opacity="0.55" stroke-width="1.6"/><polyline points="129.38,564.5 150,564.5" fill="none" stroke="#606020" stroke-opacity="0.5" stroke-width="1"/><polyline points="129.38,566.7 150,566.7" fill="none" stroke="#606020" stroke-opacity="0.18" stroke-width="0.8"/><polyline points="144,564.5 149,564.5" fill="none" stroke="#606020" stroke-opacity="0.55" stroke-width="1.6"/><polyline points="130.22,592.5 150,592.5" fill="none" stroke="#606020" stroke-opacity="0.5" stroke-width="1"/><polyline points="130.22,594.7 150,594.7" fill="none" stroke="#606020" stroke-opacity="0.18" stroke-width="0.8"/><polyline points="144,592.5 149,592.5" fill="none" stroke="#606020" stroke-opacity="0.55" stroke-width="1.6"/><polyline points="131.06,620.5 150,620.5" fill="none" stroke="#606020" stroke-opacity="0.5" stroke-width="1"/><polyline points="131.06,622.7 150,622.7" fill="none" stroke="#606020" stroke-opacity="0.18" stroke-width="0.8"/><polyline points="144,620.5 149,620.5" fill="none" stroke="#606020" stroke-opacity="0.55" stroke-width="1.6"/><ellipse cx="134.51" cy="388" rx="3.8" ry="2.9" fill="none" stroke="#2a2a2a" stroke-opacity="0.7" stroke-width="0.9"/><path d="M133.51,384 q3,-4 7,-3 q3,1 2,4 l-3,4" fill="none" stroke="#3a3a3a" stroke-opacity="0.45" stroke-width="0.8"/><ellipse cx="139.31" cy="390.2" rx="1.8" ry="2.0" fill="#fff" fill-opacity="0.9"/><path d="M136.51,388 l3,-1.5" stroke="#404080" stroke-width="1.2" stroke-opacity="0.8"/><ellipse cx="134.66" cy="413.5" rx="3.8" ry="2.9" fill="none" stroke="#2a2a2a" stroke-opacity="0.7" stroke-width="0.9"/><path d="M133.66,409.5 q3,-4 7,-3 q3,1 2,4 l-3,4" fill="none" stroke="#3a3a3a" stroke-opacity="0.45" stroke-width="0.8"/><ellipse cx="139.46" cy="415.7" rx="1.8" ry="2.0" fill="#fff" fill-opacity="0.9"/><path d="M136.66,413.5 l3,-1.5" stroke="#404080" stroke-width="1.2" stroke-opacity="0.8"/><ellipse cx="134.81" cy="439.5" rx="3.8" ry="2.9" fill="none" stroke="#2a2a2a" stroke-opacity="0.7" stroke-width="0.9"/><path d="M133.81,435.5 q3,-4 7,-3 q3,1 2,4 l-3,4" fill="none" stroke="#3a3a3a" stroke-opacity="0.45" stroke-width="0.8"/><ellipse cx="139.62" cy="441.7" rx="1.8" ry="2.0" fill="#fff" fill-opacity="0.9"/><path d="M136.81,439.5 l3,-1.5" stroke="#404080" stroke-width="1.2" stroke-opacity="0.8"/><g transform="translate(135.49,466.7) rotate(-36)"><rect x="-8" y="-3.8" width="16" height="7.6" rx="3.8" fill="#fff" fill-opacity="0.14" stroke="#303030" stroke-opacity="0.5" stroke-width="0.8"/><ellipse cx="0" cy="0" rx="2.2" ry="3.8" fill="none" stroke="#303030" stroke-opacity="0.35" stroke-width="0.7"/><ellipse cx="-4.2" cy="0" rx="2.2" ry="3.8" fill="none" stroke="#303030" stroke-opacity="0.25" stroke-width="0.6"/></g><ellipse cx="140.99" cy="472" rx="2.2" ry="2.6" fill="#fff" fill-opacity="0.85"/><path d="M135.99,471 l4,-2" stroke="#202020" stroke-width="1.3" stroke-opacity="0.8"/><g transform="translate(135.65,494.2) rotate(-36)"><rect x="-8" y="-3.8" width="16" height="7.6" rx="3.8" fill="#fff" fill-opacity="0.14" stroke="#303030" stroke-opacity="0.5" stroke-width="0.8"/><ellipse cx="0" cy="0" rx="2.2" ry="3.8" fill="none" stroke="#303030" stroke-opacity="0.35" stroke-width="0.7"/><ellipse cx="-4.2" cy="0" rx="2.2" ry="3.8" fill="none" stroke="#303030" stroke-opacity="0.25" stroke-width="0.6"/></g><ellipse cx="141.15" cy="499.5" rx="2.2" ry="2.6" fill="#fff" fill-opacity="0.85"/><path d="M136.15,498.5 l4,-2" stroke="#202020" stroke-width="1.3" stroke-opacity="0.8"/><g transform="translate(135.82,521.7) rotate(-36)"><rect x="-8" y="-3.8" width="16" height="7.6" rx="3.8" fill="#fff" fill-opacity="0.14" stroke="#303030" stroke-opacity="0.5" stroke-width="0.8"/><ellipse cx="0" cy="0" rx="2.2" ry="3.8" fill="none" stroke="#303030" stroke-opacity="0.35" stroke-width="0.7"/><ellipse cx="-4.2" cy="0" rx="2.2" ry="3.8" fill="none" stroke="#303030" stroke-opacity="0.25" stroke-width="0.6"/></g><g transform="translate(135.99,550.2) rotate(-36)"><rect x="-8" y="-3.8" width="16" height="7.6" rx="3.8" fill="#fff" fill-opacity="0.14" stroke="#303030" stroke-opacity="0.5" stroke-width="0.8"/><ellipse cx="0" cy="0" rx="2.2" ry="3.8" fill="none" stroke="#303030" stroke-opacity="0.35" stroke-width="0.7"/><ellipse cx="-4.2" cy="0" rx="2.2" ry="3.8" fill="none" stroke="#303030" stroke-opacity="0.25" stroke-width="0.6"/></g><g transform="translate(136.15,577.7) rotate(-36)"><rect x="-8" y="-3.8" width="16" height="7.6" rx="3.8" fill="#fff" fill-opacity="0.14" stroke="#303030" stroke-opacity="0.5" stroke-width="0.8"/><ellipse cx="0" cy="0" rx="2.2" ry="3.8" fill="none" stroke="#303030" stroke-opacity="0.35" stroke-width="0.7"/><ellipse cx="-4.2" cy="0" rx="2.2" ry="3.8" fill="none" stroke="#303030" stroke-opacity="0.25" stroke-width="0.6"/></g><g transform="translate(136.31,604.7) rotate(-36)"><rect x="-8" y="-3.8" width="16" height="7.6" rx="3.8" fill="#fff" fill-opacity="0.14" stroke="#303030" stroke-opacity="0.5" stroke-width="0.8"/><ellipse cx="0" cy="0" rx="2.2" ry="3.8" fill="none" stroke="#303030" stroke-opacity="0.35" stroke-width="0.7"/><ellipse cx="-4.2" cy="0" rx="2.2" ry="3.8" fill="none" stroke="#303030" stroke-opacity="0.25" stroke-width="0.6"/></g><circle cx="145.2" cy="534" r="2.6" fill="#1c1c1c" fill-opacity="0.8"/><circle cx="146.4" cy="533.4" r="0.9" fill="#8090c0" fill-opacity="0.7"/><circle cx="145.2" cy="564" r="2.6" fill="#1c1c1c" fill-opacity="0.8"/><circle cx="146.4" cy="563.4" r="0.9" fill="#8090c0" fill-opacity="0.7"/><circle cx="145.2" cy="593" r="2.6" fill="#1c1c1c" fill-opacity="0.8"/><circle cx="146.4" cy="592.4" r="0.9" fill="#8090c0" fill-opacity="0.7"/><circle cx="145.2" cy="620.5" r="2.6" fill="#1c1c1c" fill-opacity="0.8"/><circle cx="146.4" cy="619.9" r="0.9" fill="#8090c0" fill-opacity="0.7"/><path d="M142,511 l4,-2" stroke="#202020" stroke-width="1.4" stroke-opacity="0.8"/><polyline points="135,630 140,634 152,634" fill="none" stroke="#2a2a2a" stroke-opacity="0.45" stroke-width="0.8"/><polyline points="162.6,540 162.6,608.2 138,625.7" fill="none" stroke="#606020" stroke-opacity="0.45" stroke-width="0.8"/><polyline points="167.8,545 167.8,606.5 143,623.5" fill="none" stroke="#606020" stroke-opacity="0.35" stroke-width="0.8"/><polyline points="171.5,560 171.5,605 148,622" fill="none" stroke="#606020" stroke-opacity="0.3" stroke-width="0.8"/><polyline points="138,625.7 138.6,627.6 146.4,627.6 172.3,608.8" fill="none" stroke="#606020" stroke-opacity="0.45" stroke-width="0.8"/><polyline points="146,371.2 122.2,371.2 121.4,400 119.4,460 118.4,540 116.4,580 114.8,622 121,622" fill="none" stroke="#383838" stroke-width="0.9" stroke-opacity="0.85"/><polyline points="125.6,452 125.6,540 124.6,600 124.2,632" fill="none" stroke="#383838" stroke-width="0.7" stroke-opacity="0.6"/><polyline points="119.06,482.5 125.56,479 133,479" fill="none" stroke="#383838" stroke-width="0.8" stroke-opacity="0.75"/><polyline points="119.06,482.5 129.06,482.5" fill="none" stroke="#383838" stroke-width="0.7" stroke-opacity="0.6"/><polyline points="118.64,509.7 125.14,506.2 133,506.2" fill="none" stroke="#383838" stroke-width="0.8" stroke-opacity="0.75"/><polyline points="118.64,509.7 128.64,509.7" fill="none" stroke="#383838" stroke-width="0.7" stroke-opacity="0.6"/><polyline points="118.23,537 124.73,533.5 133,533.5" fill="none" stroke="#383838" stroke-width="0.8" stroke-opacity="0.75"/><polyline points="118.23,537 128.23,537" fill="none" stroke="#383838" stroke-width="0.7" stroke-opacity="0.6"/><polyline points="117.81,564.5 124.31,561 133,561" fill="none" stroke="#383838" stroke-width="0.8" stroke-opacity="0.75"/><polyline points="117.81,564.5 127.81,564.5" fill="none" stroke="#383838" stroke-width="0.7" stroke-opacity="0.6"/><polyline points="117.39,592 123.89,588.5 133,588.5" fill="none" stroke="#383838" stroke-width="0.8" stroke-opacity="0.75"/><polyline points="117.39,592 127.39,592" fill="none" stroke="#383838" stroke-width="0.7" stroke-opacity="0.6"/><polyline points="116.97,620 123.47,616.5 133,616.5" fill="none" stroke="#383838" stroke-width="0.8" stroke-opacity="0.75"/><polyline points="116.97,620 126.97,620" fill="none" stroke="#383838" stroke-width="0.7" stroke-opacity="0.6"/><polygon points="163,86 185.3,86 183.1,127 159.4,127" fill="#f2a030" fill-opacity="0.92"/><polygon points="170.4,86 173.2,86 171.4,127 168.6,127" fill="#000" fill-opacity="0.18"/><polygon points="163,86 165.5,86 161.9,127 159.4,127" fill="#000" fill-opacity="0.10"/><polygon points="166,86 170.4,86 168.6,127 164.4,127" fill="#fff" fill-opacity="0.05"/><polygon points="175,86 180,86 178,127 173,127" fill="#fff" fill-opacity="0.05"/><polygon points="181.8,86 185.3,86 183.1,127 179.7,127" fill="#000" fill-opacity="0.10"/><polyline points="163,86.6 185.3,86.6" fill="none" stroke="#000" stroke-opacity="0.4" stroke-width="1"/><polyline points="163,88.8 185.2,88.8" fill="none" stroke="#000" stroke-opacity="0.12" stroke-width="0.8"/><polyline points="168,84 168.3,54.4 173,54.4" fill="none" stroke="#585858" stroke-width="0.9"/><polyline points="168.3,62.3 172,62.3" fill="none" stroke="#585858" stroke-width="0.9"/><polygon points="172.8,50.5 182.4,51.5 180.5,86 171.6,86" fill="url(#Trod)"/><polygon points="172.8,50.5 176.5,50.9 175.2,86 171.6,86" fill="#fff" fill-opacity="0.12"/><polygon points="178.5,51.1 182.4,51.5 180.5,86 177,86" fill="#000" fill-opacity="0.08"/><polyline points="172.8,50.8 182.4,51.8" fill="none" stroke="#000" stroke-opacity="0.15" stroke-width="0.8"/><text x="236" y="133.8" font-size="19.6" textLength="32.8" lengthAdjust="spacingAndGlyphs" stroke="#000" stroke-width="0.45">0.3</text><text x="230.5" y="298.8" font-size="19.6" textLength="31" lengthAdjust="spacingAndGlyphs" stroke="#000" stroke-width="0.45">0.2</text><text x="224.8" y="463.4" font-size="19.6" textLength="32" lengthAdjust="spacingAndGlyphs" stroke="#000" stroke-width="0.45">0.1</text><text x="229.3" y="627.3" font-size="19.6" textLength="12.9" lengthAdjust="spacingAndGlyphs" stroke="#000" stroke-width="0.45">0</text></g>
<g transform="translate(520.9,2.16) scale(1,0.9945)"><polygon points="117.3,48 117,64 115.6,65.5 110,290 109,293 103.8,444 103,446 100.4,546 99.4,548 97.3,636 103.3,631.6 105.4,548 106.4,546 109,446 109.8,444 115,293 116,290 121.6,65.5 123,64 123.3,50.5" fill="#e6e6e6"/><polyline points="117.3,48 117,64 115.6,65.5 110,290 109,293 103.8,444 103,446 100.4,546 99.4,548 97.3,636" fill="none" stroke="#969696" stroke-width="1"/><polyline points="120.3,49.2 120,64 118.6,65.5 113,290 112,293 106.8,444 106,446 103.4,546 102.4,548 100.3,633.8" fill="none" stroke="#969696" stroke-width="1"/><polyline points="123.3,50.4 123,64 121.6,65.5 116,290 115,293 109.8,444 109,446 106.4,546 105.4,548 103.3,631.6" fill="none" stroke="#969696" stroke-width="1"/><polyline points="113,127.5 121,126.5" fill="none" stroke="#8a8a8a" stroke-width="1.1"/><polyline points="108.5,288.1 116.5,287.1" fill="none" stroke="#8a8a8a" stroke-width="1.1"/><polyline points="102.8,454.9 110.8,453.9" fill="none" stroke="#8a8a8a" stroke-width="1.1"/><polyline points="99.1,551.5 107.1,550.5" fill="none" stroke="#8a8a8a" stroke-width="1.1"/><polyline points="142.5,53 141.8,80 141,90 139.4,123 134,288 131.5,371" fill="none" stroke="#909090" stroke-width="0.9"/><polyline points="208.2,55 207.8,80 207.2,84 206,126 200.5,291 194.5,455 192,540 190.5,600 188.4,633" fill="none" stroke="#909090" stroke-width="1"/><polyline points="138.4,123.3 150,123.5 160,124.4 200,125.2 236.7,126.4" fill="none" stroke="#909090" stroke-width="1.1"/><polyline points="133,288.6 148,288.8" fill="none" stroke="#909090" stroke-width="1.1"/><polyline points="182,453.4 190,453.6 210,454 214,454.8 226,454.8" fill="none" stroke="#909090" stroke-width="1.1"/><polyline points="192.9,618.6 207,618.6 209,619.6 220.2,619.6" fill="none" stroke="#909090" stroke-width="1.1"/><polyline points="188.4,622.5 188.4,633.2" fill="none" stroke="#909090" stroke-width="1"/><polygon points="183.3,130 236,130 227.5,375 178.16,375" fill="#f0f0e4"/><g transform="rotate(1.1,182.8,129.8)"><rect x="182.8" y="129.8" width="53" height="4.3" rx="2.2" ry="2.2" fill="url(#Ufin)" stroke="#0c0c70" stroke-opacity="0.35" stroke-width="0.6"/><rect x="184.8" y="129.8" width="49" height="1.0" fill="#1010a0" fill-opacity="0.6"/><rect x="184.8" y="133.2" width="49" height="0.9" fill="#1010a0" fill-opacity="0.45"/><rect x="229.31" y="131" width="4.5" height="2" rx="1" fill="#fff" fill-opacity="0.12"/></g><rect x="182.8" y="133.8" width="7.2" height="2.95" fill="#0a0a58" fill-opacity="0.95"/><g transform="rotate(1.1,182.66,136.45)"><rect x="182.66" y="136.45" width="52.91" height="4.3" rx="2.2" ry="2.2" fill="url(#Ufin)" stroke="#0c0c70" stroke-opacity="0.35" stroke-width="0.6"/><rect x="184.66" y="136.45" width="48.91" height="1.0" fill="#1010a0" fill-opacity="0.6"/><rect x="184.66" y="139.85" width="48.91" height="0.9" fill="#1010a0" fill-opacity="0.45"/><rect x="229.07" y="137.65" width="4.5" height="2" rx="1" fill="#fff" fill-opacity="0.12"/></g><rect x="182.66" y="140.45" width="7.2" height="2.95" fill="#0a0a58" fill-opacity="0.95"/><g transform="rotate(1.1,182.52,143.1)"><rect x="182.52" y="143.1" width="52.81" height="4.3" rx="2.2" ry="2.2" fill="url(#Ufin)" stroke="#0c0c70" stroke-opacity="0.35" stroke-width="0.6"/><rect x="184.52" y="143.1" width="48.81" height="1.0" fill="#1010a0" fill-opacity="0.6"/><rect x="184.52" y="146.5" width="48.81" height="0.9" fill="#1010a0" fill-opacity="0.45"/><rect x="228.83" y="144.3" width="4.5" height="2" rx="1" fill="#fff" fill-opacity="0.12"/></g><rect x="182.52" y="147.1" width="7.2" height="2.95" fill="#0a0a58" fill-opacity="0.95"/><g transform="rotate(1.1,182.39,149.75)"><rect x="182.39" y="149.75" width="52.71" height="4.3" rx="2.2" ry="2.2" fill="url(#Ufin)" stroke="#0c0c70" stroke-opacity="0.35" stroke-width="0.6"/><rect x="184.39" y="149.75" width="48.71" height="1.0" fill="#1010a0" fill-opacity="0.6"/><rect x="184.39" y="153.15" width="48.71" height="0.9" fill="#1010a0" fill-opacity="0.45"/><rect x="228.6" y="150.95" width="4.5" height="2" rx="1" fill="#fff" fill-opacity="0.12"/></g><rect x="182.39" y="153.75" width="7.2" height="2.95" fill="#0a0a58" fill-opacity="0.95"/><g transform="rotate(1.1,182.25,156.4)"><rect x="182.25" y="156.4" width="52.62" height="4.3" rx="2.2" ry="2.2" fill="url(#Ufin)" stroke="#0c0c70" stroke-opacity="0.35" stroke-width="0.6"/><rect x="184.25" y="156.4" width="48.62" height="1.0" fill="#1010a0" fill-opacity="0.6"/><rect x="184.25" y="159.8" width="48.62" height="0.9" fill="#1010a0" fill-opacity="0.45"/><rect x="228.36" y="157.6" width="4.5" height="2" rx="1" fill="#fff" fill-opacity="0.12"/></g><rect x="182.25" y="160.4" width="7.2" height="2.95" fill="#0a0a58" fill-opacity="0.95"/><g transform="rotate(1.1,182.11,163.05)"><rect x="182.11" y="163.05" width="52.52" height="4.3" rx="2.2" ry="2.2" fill="url(#Ufin)" stroke="#0c0c70" stroke-opacity="0.35" stroke-width="0.6"/><rect x="184.11" y="163.05" width="48.52" height="1.0" fill="#1010a0" fill-opacity="0.6"/><rect x="184.11" y="166.45" width="48.52" height="0.9" fill="#1010a0" fill-opacity="0.45"/><rect x="228.13" y="164.25" width="4.5" height="2" rx="1" fill="#fff" fill-opacity="0.12"/></g><rect x="182.11" y="167.05" width="7.2" height="2.95" fill="#0a0a58" fill-opacity="0.95"/><g transform="rotate(1.1,181.97,169.7)"><rect x="181.97" y="169.7" width="52.42" height="4.3" rx="2.2" ry="2.2" fill="url(#Ufin)" stroke="#0c0c70" stroke-opacity="0.35" stroke-width="0.6"/><rect x="183.97" y="169.7" width="48.42" height="1.0" fill="#1010a0" fill-opacity="0.6"/><rect x="183.97" y="173.1" width="48.42" height="0.9" fill="#1010a0" fill-opacity="0.45"/><rect x="227.89" y="170.9" width="4.5" height="2" rx="1" fill="#fff" fill-opacity="0.12"/></g><rect x="181.97" y="173.7" width="7.2" height="2.95" fill="#0a0a58" fill-opacity="0.95"/><g transform="rotate(1.1,181.83,176.35)"><rect x="181.83" y="176.35" width="52.33" height="4.3" rx="2.2" ry="2.2" fill="url(#Ufin)" stroke="#0c0c70" stroke-opacity="0.35" stroke-width="0.6"/><rect x="183.83" y="176.35" width="48.33" height="1.0" fill="#1010a0" fill-opacity="0.6"/><rect x="183.83" y="179.75" width="48.33" height="0.9" fill="#1010a0" fill-opacity="0.45"/><rect x="227.65" y="177.55" width="4.5" height="2" rx="1" fill="#fff" fill-opacity="0.12"/></g><rect x="181.83" y="180.35" width="7.2" height="2.95" fill="#0a0a58" fill-opacity="0.95"/><g transform="rotate(1.1,181.69,183)"><rect x="181.69" y="183" width="52.23" height="4.3" rx="2.2" ry="2.2" fill="url(#Ufin)" stroke="#0c0c70" stroke-opacity="0.35" stroke-width="0.6"/><rect x="183.69" y="183" width="48.23" height="1.0" fill="#1010a0" fill-opacity="0.6"/><rect x="183.69" y="186.4" width="48.23" height="0.9" fill="#1010a0" fill-opacity="0.45"/><rect x="227.42" y="184.2" width="4.5" height="2" rx="1" fill="#fff" fill-opacity="0.12"/></g><rect x="181.69" y="187" width="7.2" height="2.95" fill="#0a0a58" fill-opacity="0.95"/><g transform="rotate(1.1,181.55,189.65)"><rect x="181.55" y="189.65" width="52.14" height="4.3" rx="2.2" ry="2.2" fill="url(#Ufin)" stroke="#0c0c70" stroke-opacity="0.35" stroke-width="0.6"/><rect x="183.55" y="189.65" width="48.14" height="1.0" fill="#1010a0" fill-opacity="0.6"/><rect x="183.55" y="193.05" width="48.14" height="0.9" fill="#1010a0" fill-opacity="0.45"/><rect x="227.18" y="190.85" width="4.5" height="2" rx="1" fill="#fff" fill-opacity="0.12"/></g><rect x="181.55" y="193.65" width="7.2" height="2.95" fill="#0a0a58" fill-opacity="0.95"/><g transform="rotate(1.1,181.41,196.3)"><rect x="181.41" y="196.3" width="52.04" height="4.3" rx="2.2" ry="2.2" fill="url(#Ufin)" stroke="#0c0c70" stroke-opacity="0.35" stroke-width="0.6"/><rect x="183.41" y="196.3" width="48.04" height="1.0" fill="#1010a0" fill-opacity="0.6"/><rect x="183.41" y="199.7" width="48.04" height="0.9" fill="#1010a0" fill-opacity="0.45"/><rect x="226.95" y="197.5" width="4.5" height="2" rx="1" fill="#fff" fill-opacity="0.12"/></g><rect x="181.41" y="200.3" width="7.2" height="2.95" fill="#0a0a58" fill-opacity="0.95"/><g transform="rotate(1.1,181.27,202.95)"><rect x="181.27" y="202.95" width="51.94" height="4.3" rx="2.2" ry="2.2" fill="url(#Ufin)" stroke="#0c0c70" stroke-opacity="0.35" stroke-width="0.6"/><rect x="183.27" y="202.95" width="47.94" height="1.0" fill="#1010a0" fill-opacity="0.6"/><rect x="183.27" y="206.35" width="47.94" height="0.9" fill="#1010a0" fill-opacity="0.45"/><rect x="226.71" y="204.15" width="4.5" height="2" rx="1" fill="#fff" fill-opacity="0.12"/></g><rect x="181.27" y="206.95" width="7.2" height="2.95" fill="#0a0a58" fill-opacity="0.95"/><g transform="rotate(1.1,181.13,209.6)"><rect x="181.13" y="209.6" width="51.85" height="4.3" rx="2.2" ry="2.2" fill="url(#Ufin)" stroke="#0c0c70" stroke-opacity="0.35" stroke-width="0.6"/><rect x="183.13" y="209.6" width="47.85" height="1.0" fill="#1010a0" fill-opacity="0.6"/><rect x="183.13" y="213" width="47.85" height="0.9" fill="#1010a0" fill-opacity="0.45"/><rect x="226.47" y="210.8" width="4.5" height="2" rx="1" fill="#fff" fill-opacity="0.12"/></g><rect x="181.13" y="213.6" width="7.2" height="2.95" fill="#0a0a58" fill-opacity="0.95"/><g transform="rotate(1.1,180.99,216.25)"><rect x="180.99" y="216.25" width="51.75" height="4.3" rx="2.2" ry="2.2" fill="url(#Ufin)" stroke="#0c0c70" stroke-opacity="0.35" stroke-width="0.6"/><rect x="182.99" y="216.25" width="47.75" height="1.0" fill="#1010a0" fill-opacity="0.6"/><rect x="182.99" y="219.65" width="47.75" height="0.9" fill="#1010a0" fill-opacity="0.45"/><rect x="226.24" y="217.45" width="4.5" height="2" rx="1" fill="#fff" fill-opacity="0.12"/></g><rect x="180.99" y="220.25" width="7.2" height="2.95" fill="#0a0a58" fill-opacity="0.95"/><g transform="rotate(1.1,180.85,222.9)"><rect x="180.85" y="222.9" width="51.65" height="4.3" rx="2.2" ry="2.2" fill="url(#Ufin)" stroke="#0c0c70" stroke-opacity="0.35" stroke-width="0.6"/><rect x="182.85" y="222.9" width="47.65" height="1.0" fill="#1010a0" fill-opacity="0.6"/><rect x="182.85" y="226.3" width="47.65" height="0.9" fill="#1010a0" fill-opacity="0.45"/><rect x="226" y="224.1" width="4.5" height="2" rx="1" fill="#fff" fill-opacity="0.12"/></g><rect x="180.85" y="226.9" width="7.2" height="2.95" fill="#0a0a58" fill-opacity="0.95"/><g transform="rotate(1.1,180.71,229.55)"><rect x="180.71" y="229.55" width="51.56" height="4.3" rx="2.2" ry="2.2" fill="url(#Ufin)" stroke="#0c0c70" stroke-opacity="0.35" stroke-width="0.6"/><rect x="182.71" y="229.55" width="47.56" height="1.0" fill="#1010a0" fill-opacity="0.6"/><rect x="182.71" y="232.95" width="47.56" height="0.9" fill="#1010a0" fill-opacity="0.45"/><rect x="225.77" y="230.75" width="4.5" height="2" rx="1" fill="#fff" fill-opacity="0.12"/></g><rect x="180.71" y="233.55" width="7.2" height="2.95" fill="#0a0a58" fill-opacity="0.95"/><g transform="rotate(1.1,180.57,236.2)"><rect x="180.57" y="236.2" width="51.46" height="4.3" rx="2.2" ry="2.2" fill="url(#Ufin)" stroke="#0c0c70" stroke-opacity="0.35" stroke-width="0.6"/><rect x="182.57" y="236.2" width="47.46" height="1.0" fill="#1010a0" fill-opacity="0.6"/><rect x="182.57" y="239.6" width="47.46" height="0.9" fill="#1010a0" fill-opacity="0.45"/><rect x="225.53" y="237.4" width="4.5" height="2" rx="1" fill="#fff" fill-opacity="0.12"/></g><rect x="180.57" y="240.2" width="7.2" height="2.95" fill="#0a0a58" fill-opacity="0.95"/><g transform="rotate(1.1,180.43,242.85)"><rect x="180.43" y="242.85" width="51.36" height="4.3" rx="2.2" ry="2.2" fill="url(#Ufin)" stroke="#0c0c70" stroke-opacity="0.35" stroke-width="0.6"/><rect x="182.43" y="242.85" width="47.36" height="1.0" fill="#1010a0" fill-opacity="0.6"/><rect x="182.43" y="246.25" width="47.36" height="0.9" fill="#1010a0" fill-opacity="0.45"/><rect x="225.29" y="244.05" width="4.5" height="2" rx="1" fill="#fff" fill-opacity="0.12"/></g><rect x="180.43" y="246.85" width="7.2" height="2.95" fill="#0a0a58" fill-opacity="0.95"/><g transform="rotate(1.1,180.29,249.5)"><rect x="180.29" y="249.5" width="51.27" height="4.3" rx="2.2" ry="2.2" fill="url(#Ufin)" stroke="#0c0c70" stroke-opacity="0.35" stroke-width="0.6"/><rect x="182.29" y="249.5" width="47.27" height="1.0" fill="#1010a0" fill-opacity="0.6"/><rect x="182.29" y="252.9" width="47.27" height="0.9" fill="#1010a0" fill-opacity="0.45"/><rect x="225.06" y="250.7" width="4.5" height="2" rx="1" fill="#fff" fill-opacity="0.12"/></g><rect x="180.29" y="253.5" width="7.2" height="2.95" fill="#0a0a58" fill-opacity="0.95"/><g transform="rotate(1.1,180.15,256.15)"><rect x="180.15" y="256.15" width="51.17" height="4.3" rx="2.2" ry="2.2" fill="url(#Ufin)" stroke="#0c0c70" stroke-opacity="0.35" stroke-width="0.6"/><rect x="182.15" y="256.15" width="47.17" height="1.0" fill="#1010a0" fill-opacity="0.6"/><rect x="182.15" y="259.55" width="47.17" height="0.9" fill="#1010a0" fill-opacity="0.45"/><rect x="224.82" y="257.35" width="4.5" height="2" rx="1" fill="#fff" fill-opacity="0.12"/></g><rect x="180.15" y="260.15" width="7.2" height="2.95" fill="#0a0a58" fill-opacity="0.95"/><g transform="rotate(1.1,180.01,262.8)"><rect x="180.01" y="262.8" width="51.07" height="4.3" rx="2.2" ry="2.2" fill="url(#Ufin)" stroke="#0c0c70" stroke-opacity="0.35" stroke-width="0.6"/><rect x="182.01" y="262.8" width="47.07" height="1.0" fill="#1010a0" fill-opacity="0.6"/><rect x="182.01" y="266.2" width="47.07" height="0.9" fill="#1010a0" fill-opacity="0.45"/><rect x="224.59" y="264" width="4.5" height="2" rx="1" fill="#fff" fill-opacity="0.12"/></g><rect x="180.01" y="266.8" width="7.2" height="2.95" fill="#0a0a58" fill-opacity="0.95"/><g transform="rotate(1.1,179.87,269.45)"><rect x="179.87" y="269.45" width="50.98" height="4.3" rx="2.2" ry="2.2" fill="url(#Ufin)" stroke="#0c0c70" stroke-opacity="0.35" stroke-width="0.6"/><rect x="181.87" y="269.45" width="46.98" height="1.0" fill="#1010a0" fill-opacity="0.6"/><rect x="181.87" y="272.85" width="46.98" height="0.9" fill="#1010a0" fill-opacity="0.45"/><rect x="224.35" y="270.65" width="4.5" height="2" rx="1" fill="#fff" fill-opacity="0.12"/></g><rect x="179.87" y="273.45" width="7.2" height="2.95" fill="#0a0a58" fill-opacity="0.95"/><g transform="rotate(1.1,179.73,276.1)"><rect x="179.73" y="276.1" width="50.88" height="4.3" rx="2.2" ry="2.2" fill="url(#Ufin)" stroke="#0c0c70" stroke-opacity="0.35" stroke-width="0.6"/><rect x="181.73" y="276.1" width="46.88" height="1.0" fill="#1010a0" fill-opacity="0.6"/><rect x="181.73" y="279.5" width="46.88" height="0.9" fill="#1010a0" fill-opacity="0.45"/><rect x="224.11" y="277.3" width="4.5" height="2" rx="1" fill="#fff" fill-opacity="0.12"/></g><rect x="179.73" y="280.1" width="7.2" height="2.95" fill="#0a0a58" fill-opacity="0.95"/><g transform="rotate(1.1,179.59,282.75)"><rect x="179.59" y="282.75" width="50.79" height="4.3" rx="2.2" ry="2.2" fill="url(#Ufin)" stroke="#0c0c70" stroke-opacity="0.35" stroke-width="0.6"/><rect x="181.59" y="282.75" width="46.79" height="1.0" fill="#1010a0" fill-opacity="0.6"/><rect x="181.59" y="286.15" width="46.79" height="0.9" fill="#1010a0" fill-opacity="0.45"/><rect x="223.88" y="283.95" width="4.5" height="2" rx="1" fill="#fff" fill-opacity="0.12"/></g><rect x="179.59" y="286.75" width="7.2" height="2.95" fill="#0a0a58" fill-opacity="0.95"/><g transform="rotate(1.1,179.45,289.4)"><rect x="179.45" y="289.4" width="50.69" height="4.3" rx="2.2" ry="2.2" fill="url(#Ufin)" stroke="#0c0c70" stroke-opacity="0.35" stroke-width="0.6"/><rect x="181.45" y="289.4" width="46.69" height="1.0" fill="#1010a0" fill-opacity="0.6"/><rect x="181.45" y="292.8" width="46.69" height="0.9" fill="#1010a0" fill-opacity="0.45"/><rect x="223.64" y="290.6" width="4.5" height="2" rx="1" fill="#fff" fill-opacity="0.12"/></g><rect x="179.45" y="293.4" width="7.2" height="2.95" fill="#0a0a58" fill-opacity="0.95"/><g transform="rotate(1.1,179.31,296.05)"><rect x="179.31" y="296.05" width="50.59" height="4.3" rx="2.2" ry="2.2" fill="url(#Ufin)" stroke="#0c0c70" stroke-opacity="0.35" stroke-width="0.6"/><rect x="181.31" y="296.05" width="46.59" height="1.0" fill="#1010a0" fill-opacity="0.6"/><rect x="181.31" y="299.45" width="46.59" height="0.9" fill="#1010a0" fill-opacity="0.45"/><rect x="223.41" y="297.25" width="4.5" height="2" rx="1" fill="#fff" fill-opacity="0.12"/></g><rect x="179.31" y="300.05" width="7.2" height="2.95" fill="#0a0a58" fill-opacity="0.95"/><g transform="rotate(1.1,179.17,302.7)"><rect x="179.17" y="302.7" width="50.5" height="4.3" rx="2.2" ry="2.2" fill="url(#Ufin)" stroke="#0c0c70" stroke-opacity="0.35" stroke-width="0.6"/><rect x="181.17" y="302.7" width="46.5" height="1.0" fill="#1010a0" fill-opacity="0.6"/><rect x="181.17" y="306.1" width="46.5" height="0.9" fill="#1010a0" fill-opacity="0.45"/><rect x="223.17" y="303.9" width="4.5" height="2" rx="1" fill="#fff" fill-opacity="0.12"/></g><rect x="179.17" y="306.7" width="7.2" height="2.95" fill="#0a0a58" fill-opacity="0.95"/><g transform="rotate(1.1,179.03,309.35)"><rect x="179.03" y="309.35" width="50.4" height="4.3" rx="2.2" ry="2.2" fill="url(#Ufin)" stroke="#0c0c70" stroke-opacity="0.35" stroke-width="0.6"/><rect x="181.03" y="309.35" width="46.4" height="1.0" fill="#1010a0" fill-opacity="0.6"/><rect x="181.03" y="312.75" width="46.4" height="0.9" fill="#1010a0" fill-opacity="0.45"/><rect x="222.93" y="310.55" width="4.5" height="2" rx="1" fill="#fff" fill-opacity="0.12"/></g><rect x="179.03" y="313.35" width="7.2" height="2.95" fill="#0a0a58" fill-opacity="0.95"/><g transform="rotate(1.1,178.89,316)"><rect x="178.89" y="316" width="50.3" height="4.3" rx="2.2" ry="2.2" fill="url(#Ufin)" stroke="#0c0c70" stroke-opacity="0.35" stroke-width="0.6"/><rect x="180.89" y="316" width="46.3" height="1.0" fill="#1010a0" fill-opacity="0.6"/><rect x="180.89" y="319.4" width="46.3" height="0.9" fill="#1010a0" fill-opacity="0.45"/><rect x="222.7" y="317.2" width="4.5" height="2" rx="1" fill="#fff" fill-opacity="0.12"/></g><rect x="178.89" y="320" width="7.2" height="2.95" fill="#0a0a58" fill-opacity="0.95"/><g transform="rotate(1.1,178.75,322.65)"><rect x="178.75" y="322.65" width="50.21" height="4.3" rx="2.2" ry="2.2" fill="url(#Ufin)" stroke="#0c0c70" stroke-opacity="0.35" stroke-width="0.6"/><rect x="180.75" y="322.65" width="46.21" height="1.0" fill="#1010a0" fill-opacity="0.6"/><rect x="180.75" y="326.05" width="46.21" height="0.9" fill="#1010a0" fill-opacity="0.45"/><rect x="222.46" y="323.85" width="4.5" height="2" rx="1" fill="#fff" fill-opacity="0.12"/></g><rect x="178.75" y="326.65" width="7.2" height="2.95" fill="#0a0a58" fill-opacity="0.95"/><g transform="rotate(1.1,178.61,329.3)"><rect x="178.61" y="329.3" width="50.11" height="4.3" rx="2.2" ry="2.2" fill="url(#Ufin)" stroke="#0c0c70" stroke-opacity="0.35" stroke-width="0.6"/><rect x="180.61" y="329.3" width="46.11" height="1.0" fill="#1010a0" fill-opacity="0.6"/><rect x="180.61" y="332.7" width="46.11" height="0.9" fill="#1010a0" fill-opacity="0.45"/><rect x="222.22" y="330.5" width="4.5" height="2" rx="1" fill="#fff" fill-opacity="0.12"/></g><rect x="178.61" y="333.3" width="7.2" height="2.95" fill="#0a0a58" fill-opacity="0.95"/><g transform="rotate(1.1,178.48,335.95)"><rect x="178.48" y="335.95" width="50.01" height="4.3" rx="2.2" ry="2.2" fill="url(#Ufin)" stroke="#0c0c70" stroke-opacity="0.35" stroke-width="0.6"/><rect x="180.48" y="335.95" width="46.01" height="1.0" fill="#1010a0" fill-opacity="0.6"/><rect x="180.48" y="339.35" width="46.01" height="0.9" fill="#1010a0" fill-opacity="0.45"/><rect x="221.99" y="337.15" width="4.5" height="2" rx="1" fill="#fff" fill-opacity="0.12"/></g><rect x="178.48" y="339.95" width="7.2" height="2.95" fill="#0a0a58" fill-opacity="0.95"/><g transform="rotate(1.1,178.34,342.6)"><rect x="178.34" y="342.6" width="49.92" height="4.3" rx="2.2" ry="2.2" fill="url(#Ufin)" stroke="#0c0c70" stroke-opacity="0.35" stroke-width="0.6"/><rect x="180.34" y="342.6" width="45.92" height="1.0" fill="#1010a0" fill-opacity="0.6"/><rect x="180.34" y="346" width="45.92" height="0.9" fill="#1010a0" fill-opacity="0.45"/><rect x="221.75" y="343.8" width="4.5" height="2" rx="1" fill="#fff" fill-opacity="0.12"/></g><rect x="178.34" y="346.6" width="7.2" height="2.95" fill="#0a0a58" fill-opacity="0.95"/><g transform="rotate(1.1,178.2,349.25)"><rect x="178.2" y="349.25" width="49.82" height="4.3" rx="2.2" ry="2.2" fill="url(#Ufin)" stroke="#0c0c70" stroke-opacity="0.35" stroke-width="0.6"/><rect x="180.2" y="349.25" width="45.82" height="1.0" fill="#1010a0" fill-opacity="0.6"/><rect x="180.2" y="352.65" width="45.82" height="0.9" fill="#1010a0" fill-opacity="0.45"/><rect x="221.52" y="350.45" width="4.5" height="2" rx="1" fill="#fff" fill-opacity="0.12"/></g><rect x="178.2" y="353.25" width="7.2" height="2.95" fill="#0a0a58" fill-opacity="0.95"/><g transform="rotate(1.1,178.06,355.9)"><rect x="178.06" y="355.9" width="49.72" height="4.3" rx="2.2" ry="2.2" fill="url(#Ufin)" stroke="#0c0c70" stroke-opacity="0.35" stroke-width="0.6"/><rect x="180.06" y="355.9" width="45.72" height="1.0" fill="#1010a0" fill-opacity="0.6"/><rect x="180.06" y="359.3" width="45.72" height="0.9" fill="#1010a0" fill-opacity="0.45"/><rect x="221.28" y="357.1" width="4.5" height="2" rx="1" fill="#fff" fill-opacity="0.12"/></g><rect x="178.06" y="359.9" width="7.2" height="2.95" fill="#0a0a58" fill-opacity="0.95"/><g transform="rotate(1.1,177.92,362.55)"><rect x="177.92" y="362.55" width="49.63" height="4.3" rx="2.2" ry="2.2" fill="url(#Ufin)" stroke="#0c0c70" stroke-opacity="0.35" stroke-width="0.6"/><rect x="179.92" y="362.55" width="45.63" height="1.0" fill="#1010a0" fill-opacity="0.6"/><rect x="179.92" y="365.95" width="45.63" height="0.9" fill="#1010a0" fill-opacity="0.45"/><rect x="221.04" y="363.75" width="4.5" height="2" rx="1" fill="#fff" fill-opacity="0.12"/></g><rect x="177.92" y="366.55" width="7.2" height="2.95" fill="#0a0a58" fill-opacity="0.95"/><g transform="rotate(1.1,177.78,369.2)"><rect x="177.78" y="369.2" width="49.53" height="4.3" rx="2.2" ry="2.2" fill="url(#Ufin)" stroke="#0c0c70" stroke-opacity="0.35" stroke-width="0.6"/><rect x="179.78" y="369.2" width="45.53" height="1.0" fill="#1010a0" fill-opacity="0.6"/><rect x="179.78" y="372.6" width="45.53" height="0.9" fill="#1010a0" fill-opacity="0.45"/><rect x="220.81" y="370.4" width="4.5" height="2" rx="1" fill="#fff" fill-opacity="0.12"/></g><rect x="177.78" y="373.2" width="7.2" height="2.95" fill="#0a0a58" fill-opacity="0.95"/><polyline points="206,128 200.5,291 198,365" fill="none" stroke="#505050" stroke-opacity="0.45" stroke-width="0.9"/><g clip-path="url(#Uclip)"><polygon points="153.49,127 153.21,136 151.23,200 148.13,300 145.77,376 145.71,378 143.79,440 140.69,540 138.26,618.5 137.43,645 141.11,645 141.85,618.5 143.93,540 146.66,440 148.3,378 148.21,376 150.53,300 153.58,200 155.53,136 155.81,127" fill="url(#Us0)"/><polygon points="155.21,127 154.93,136 152.98,200 149.93,300 147.61,376 147.7,378 146.06,440 143.33,540 141.25,618.5 140.51,645 144.18,645 144.84,618.5 146.57,540 148.94,440 150.29,378 150.05,376 152.33,300 155.33,200 157.25,136 157.52,127" fill="url(#Us1)"/><polygon points="156.92,127 156.65,136 154.73,200 151.73,300 149.45,376 149.69,378 148.34,440 145.97,540 144.24,618.5 143.58,645 147.25,645 147.83,618.5 149.21,540 151.21,440 152.28,378 151.88,376 154.13,300 157.08,200 158.97,136 159.24,127" fill="url(#Us2)"/><polygon points="158.64,127 158.37,136 156.48,200 153.53,300 151.28,376 151.68,378 150.61,440 148.61,540 147.23,618.5 146.65,645 150.32,645 150.82,618.5 151.85,540 153.48,440 154.26,378 153.72,376 155.93,300 158.83,200 160.69,136 160.95,127" fill="url(#Us3)"/><polygon points="160.35,127 160.09,136 158.23,200 155.33,300 153.12,376 153.66,378 152.88,440 151.25,540 150.22,618.5 149.72,645 153.39,645 153.81,618.5 154.49,540 155.75,440 156.25,378 155.56,376 157.73,300 160.58,200 162.41,136 162.67,127" fill="url(#Us4)"/><polygon points="162.07,127 161.81,136 159.98,200 157.13,300 154.96,376 155.65,378 155.15,440 153.89,540 153.21,618.5 152.79,645 156.46,645 156.8,618.5 157.13,540 158.03,440 158.24,378 157.39,376 159.53,300 162.33,200 164.13,136 164.38,127" fill="url(#Us5)"/><polygon points="163.78,127 163.53,136 161.73,200 158.93,300 156.79,376 157.64,378 157.43,440 156.53,540 156.2,618.5 155.86,645 159.53,645 159.8,618.5 159.77,540 160.3,440 160.23,378 159.23,376 161.33,300 164.08,200 165.85,136 166.1,127" fill="url(#Us6)"/><polygon points="165.5,127 165.25,136 163.48,200 160.73,300 158.63,376 159.63,378 159.7,440 159.17,540 159.2,618.5 158.93,645 162.6,645 162.79,618.5 162.41,540 162.57,440 162.22,378 161.07,376 163.13,300 165.84,200 167.57,136 167.81,127" fill="url(#Us7)"/><polygon points="167.21,127 166.97,136 165.24,200 162.53,300 160.47,376 161.62,378 161.97,440 161.81,540 162.19,618.5 162,645 165.67,645 165.78,618.5 165.05,540 164.84,440 164.21,378 162.9,376 164.93,300 167.59,200 169.29,136 169.53,127" fill="url(#Us8)"/><polygon points="168.93,127 168.69,136 166.99,200 164.33,300 162.3,376 163.61,378 164.24,440 164.44,540 165.18,618.5 165.07,645 168.74,645 168.77,618.5 167.68,540 167.12,440 166.19,378 164.74,376 166.73,300 169.34,200 171.01,136 171.24,127" fill="url(#Us9)"/><polygon points="170.64,127 170.41,136 168.74,200 166.13,300 164.14,376 165.59,378 166.52,440 167.08,540 168.17,618.5 168.14,645 171.81,645 171.76,618.5 170.32,540 169.39,440 168.18,378 166.58,376 168.52,300 171.09,200 172.73,136 172.96,127" fill="url(#Us10)"/><polygon points="172.36,127 172.13,136 170.49,200 167.92,300 165.98,376 167.58,378 168.79,440 169.72,540 171.16,618.5 171.21,645 174.88,645 174.75,618.5 172.96,540 171.66,440 170.17,378 168.41,376 170.32,300 172.84,200 174.45,136 174.67,127" fill="url(#Us11)"/><polygon points="174.07,127 173.85,136 172.24,200 169.72,300 167.81,376 169.57,378 171.06,440 172.36,540 174.15,618.5 174.28,645 177.95,645 177.74,618.5 175.6,540 173.94,440 172.16,378 170.25,376 172.12,300 174.59,200 176.17,136 176.39,127" fill="url(#Us12)"/><polygon points="175.79,127 175.57,136 173.99,200 171.52,300 169.65,376 171.56,378 173.34,440 175,540 177.14,618.5 177.35,645 181.02,645 180.73,618.5 178.24,540 176.21,440 174.15,378 172.09,376 173.92,300 176.34,200 177.89,136 178.1,127" fill="url(#Us13)"/><polygon points="177.5,127 177.29,136 175.74,200 173.32,300 171.49,376 173.55,378 175.61,440 177.64,540 180.13,618.5 180.42,645 184.09,645 183.73,618.5 180.88,540 178.48,440 176.14,378 173.92,376 175.72,300 178.09,200 179.6,136 179.82,127" fill="url(#Us14)"/><polygon points="179.22,127 179,136 177.49,200 175.12,300 173.32,376 175.54,378 177.88,440 180.28,540 183.13,618.5 183.49,645 187.16,645 186.72,618.5 183.52,540 180.75,440 178.12,378 175.76,376 177.52,300 179.84,200 181.32,136 181.53,127" fill="url(#Us15)"/><polygon points="180.93,127 180.72,136 179.24,200 176.92,300 175.16,376 177.52,378 180.15,440 182.92,540 186.12,618.5 186.56,645 190.23,645 189.71,618.5 186.16,540 183.03,440 180.11,378 177.6,376 179.32,300 181.59,200 183.04,136 183.25,127" fill="url(#Us16)"/><polygon points="182.65,127 182.44,136 180.99,200 178.72,300 177,376 179.51,378 182.43,440 185.56,540 189.11,618.5 189.63,645 193.3,645 192.7,618.5 188.8,540 185.3,440 182.1,378 179.43,376 181.12,300 183.34,200 184.76,136 184.96,127" fill="url(#Us17)"/></g><polyline points="155.35,136 148.06,376" fill="none" stroke="#000" stroke-opacity="0.15" stroke-width="0.8"/><polyline points="160.26,136 153.35,376" fill="none" stroke="#000" stroke-opacity="0.1" stroke-width="0.8"/><polyline points="168.84,136 162.6,376" fill="none" stroke="#000" stroke-opacity="0.1" stroke-width="0.8"/><polyline points="173.14,136 167.23,376" fill="none" stroke="#000" stroke-opacity="0.12" stroke-width="0.8"/><polyline points="178.35,136 172.85,376" fill="none" stroke="#000" stroke-opacity="0.22" stroke-width="0.8"/><polyline points="181.41,136 176.16,376" fill="none" stroke="#000" stroke-opacity="0.3" stroke-width="0.8"/><polyline points="183.25,136 178.14,376" fill="none" stroke="#000" stroke-opacity="0.2" stroke-width="0.8"/><polyline points="184.56,127 179.13,376" fill="none" stroke="#000" stroke-opacity="0.28" stroke-width="0.8"/><polyline points="154.19,127 146.47,376" fill="none" stroke="#000" stroke-opacity="0.2" stroke-width="0.8"/><polyline points="181.8,378 185,440 188.5,540 192.4,618.5" fill="none" stroke="#000" stroke-opacity="0.15" stroke-width="0.8"/><polyline points="192.4,618.5 186,625 169,639.5" fill="none" stroke="#000" stroke-opacity="0.12" stroke-width="0.8"/><polygon points="153.6,127 184.6,127 184.4,136 153.4,136" fill="#1212b4" fill-opacity="0.9"/><polyline points="153.6,127.6 184.6,127.6" fill="none" stroke="#000" stroke-opacity="0.3" stroke-width="1"/><rect x="156" y="129.8" width="9" height="3.6" fill="#fff" fill-opacity="0.13"/><rect x="173.5" y="129.8" width="6" height="3.6" fill="#fff" fill-opacity="0.13"/><polyline points="168.8,128 168.8,136" fill="none" stroke="#000" stroke-opacity="0.15" stroke-width="0.8"/><polyline points="153.4,135.6 184.4,135.6" fill="none" stroke="#000" stroke-opacity="0.2" stroke-width="1"/><polygon points="121.5,374 149,374 152.5,637.5 133.4,637.5 132.6,552 126.8,546 125.6,456 121,452" fill="url(#Ubrk)" fill-opacity="0.93"/><polygon points="121.5,374 149,374 152.5,637.5 133.4,637.5 132.6,552 126.8,546 125.6,456 121,452" fill="url(#Ubpale)"/><polygon points="149.5,374 153.5,374 146,637.5 142,637.5" fill="#202040" fill-opacity="0.08"/><polyline points="149.6,374 142.2,637.5" fill="none" stroke="#202040" stroke-opacity="0.55" stroke-width="0.9"/><line x1="149.8" y1="375.5" x2="153.8" y2="375.5" stroke="#202040" stroke-opacity="0.38" stroke-width="0.8"/><line x1="153.8" y1="375.5" x2="158.3" y2="375.5" stroke="#202040" stroke-opacity="0.22" stroke-width="0.7"/><line x1="149.74" y1="377.5" x2="153.74" y2="377.5" stroke="#202040" stroke-opacity="0.38" stroke-width="0.8"/><line x1="153.74" y1="377.5" x2="158.24" y2="377.5" stroke="#202040" stroke-opacity="0.22" stroke-width="0.7"/><line x1="149.69" y1="379.5" x2="153.69" y2="379.5" stroke="#202040" stroke-opacity="0.38" stroke-width="0.8"/><line x1="153.69" y1="379.5" x2="158.19" y2="379.5" stroke="#202040" stroke-opacity="0.22" stroke-width="0.7"/><line x1="149.63" y1="381.5" x2="153.63" y2="381.5" stroke="#202040" stroke-opacity="0.38" stroke-width="0.8"/><line x1="153.63" y1="381.5" x2="158.13" y2="381.5" stroke="#202040" stroke-opacity="0.22" stroke-width="0.7"/><line x1="149.57" y1="383.5" x2="153.57" y2="383.5" stroke="#202040" stroke-opacity="0.38" stroke-width="0.8"/><line x1="153.57" y1="383.5" x2="158.07" y2="383.5" stroke="#202040" stroke-opacity="0.22" stroke-width="0.7"/><line x1="149.51" y1="385.5" x2="153.51" y2="385.5" stroke="#202040" stroke-opacity="0.38" stroke-width="0.8"/><line x1="153.51" y1="385.5" x2="158.01" y2="385.5" stroke="#202040" stroke-opacity="0.22" stroke-width="0.7"/><line x1="149.46" y1="387.5" x2="153.46" y2="387.5" stroke="#202040" stroke-opacity="0.38" stroke-width="0.8"/><line x1="153.46" y1="387.5" x2="157.96" y2="387.5" stroke="#202040" stroke-opacity="0.22" stroke-width="0.7"/><line x1="149.4" y1="389.5" x2="153.4" y2="389.5" stroke="#202040" stroke-opacity="0.38" stroke-width="0.8"/><line x1="153.4" y1="389.5" x2="157.9" y2="389.5" stroke="#202040" stroke-opacity="0.22" stroke-width="0.7"/><line x1="149.34" y1="391.5" x2="153.34" y2="391.5" stroke="#202040" stroke-opacity="0.38" stroke-width="0.8"/><line x1="153.34" y1="391.5" x2="157.84" y2="391.5" stroke="#202040" stroke-opacity="0.22" stroke-width="0.7"/><line x1="149.28" y1="393.5" x2="153.28" y2="393.5" stroke="#202040" stroke-opacity="0.38" stroke-width="0.8"/><line x1="153.28" y1="393.5" x2="157.78" y2="393.5" stroke="#202040" stroke-opacity="0.22" stroke-width="0.7"/><line x1="149.23" y1="395.5" x2="153.23" y2="395.5" stroke="#202040" stroke-opacity="0.38" stroke-width="0.8"/><line x1="153.23" y1="395.5" x2="157.73" y2="395.5" stroke="#202040" stroke-opacity="0.22" stroke-width="0.7"/><line x1="149.17" y1="397.5" x2="153.17" y2="397.5" stroke="#202040" stroke-opacity="0.38" stroke-width="0.8"/><line x1="153.17" y1="397.5" x2="157.67" y2="397.5" stroke="#202040" stroke-opacity="0.22" stroke-width="0.7"/><line x1="149.11" y1="399.5" x2="153.11" y2="399.5" stroke="#202040" stroke-opacity="0.38" stroke-width="0.8"/><line x1="153.11" y1="399.5" x2="157.61" y2="399.5" stroke="#202040" stroke-opacity="0.22" stroke-width="0.7"/><line x1="149.06" y1="401.5" x2="153.06" y2="401.5" stroke="#202040" stroke-opacity="0.38" stroke-width="0.8"/><line x1="153.06" y1="401.5" x2="157.56" y2="401.5" stroke="#202040" stroke-opacity="0.22" stroke-width="0.7"/><line x1="149" y1="403.5" x2="153" y2="403.5" stroke="#202040" stroke-opacity="0.38" stroke-width="0.8"/><line x1="153" y1="403.5" x2="157.5" y2="403.5" stroke="#202040" stroke-opacity="0.22" stroke-width="0.7"/><line x1="148.94" y1="405.5" x2="152.94" y2="405.5" stroke="#202040" stroke-opacity="0.38" stroke-width="0.8"/><line x1="152.94" y1="405.5" x2="157.44" y2="405.5" stroke="#202040" stroke-opacity="0.22" stroke-width="0.7"/><line x1="148.88" y1="407.5" x2="152.88" y2="407.5" stroke="#202040" stroke-opacity="0.38" stroke-width="0.8"/><line x1="152.88" y1="407.5" x2="157.38" y2="407.5" stroke="#202040" stroke-opacity="0.22" stroke-width="0.7"/><line x1="148.83" y1="409.5" x2="152.83" y2="409.5" stroke="#202040" stroke-opacity="0.38" stroke-width="0.8"/><line x1="152.83" y1="409.5" x2="157.33" y2="409.5" stroke="#202040" stroke-opacity="0.22" stroke-width="0.7"/><line x1="148.77" y1="411.5" x2="152.77" y2="411.5" stroke="#202040" stroke-opacity="0.38" stroke-width="0.8"/><line x1="152.77" y1="411.5" x2="157.27" y2="411.5" stroke="#202040" stroke-opacity="0.22" stroke-width="0.7"/><line x1="148.71" y1="413.5" x2="152.71" y2="413.5" stroke="#202040" stroke-opacity="0.38" stroke-width="0.8"/><line x1="152.71" y1="413.5" x2="157.21" y2="413.5" stroke="#202040" stroke-opacity="0.22" stroke-width="0.7"/><line x1="148.65" y1="415.5" x2="152.65" y2="415.5" stroke="#202040" stroke-opacity="0.38" stroke-width="0.8"/><line x1="152.65" y1="415.5" x2="157.15" y2="415.5" stroke="#202040" stroke-opacity="0.22" stroke-width="0.7"/><line x1="148.6" y1="417.5" x2="152.6" y2="417.5" stroke="#202040" stroke-opacity="0.38" stroke-width="0.8"/><line x1="152.6" y1="417.5" x2="157.1" y2="417.5" stroke="#202040" stroke-opacity="0.22" stroke-width="0.7"/><line x1="148.54" y1="419.5" x2="152.54" y2="419.5" stroke="#202040" stroke-opacity="0.38" stroke-width="0.8"/><line x1="152.54" y1="419.5" x2="157.04" y2="419.5" stroke="#202040" stroke-opacity="0.22" stroke-width="0.7"/><line x1="148.48" y1="421.5" x2="152.48" y2="421.5" stroke="#202040" stroke-opacity="0.38" stroke-width="0.8"/><line x1="152.48" y1="421.5" x2="156.98" y2="421.5" stroke="#202040" stroke-opacity="0.22" stroke-width="0.7"/><line x1="148.43" y1="423.5" x2="152.43" y2="423.5" stroke="#202040" stroke-opacity="0.38" stroke-width="0.8"/><line x1="152.43" y1="423.5" x2="156.93" y2="423.5" stroke="#202040" stroke-opacity="0.22" stroke-width="0.7"/><line x1="148.37" y1="425.5" x2="152.37" y2="425.5" stroke="#202040" stroke-opacity="0.38" stroke-width="0.8"/><line x1="152.37" y1="425.5" x2="156.87" y2="425.5" stroke="#202040" stroke-opacity="0.22" stroke-width="0.7"/><line x1="148.31" y1="427.5" x2="152.31" y2="427.5" stroke="#202040" stroke-opacity="0.38" stroke-width="0.8"/><line x1="152.31" y1="427.5" x2="156.81" y2="427.5" stroke="#202040" stroke-opacity="0.22" stroke-width="0.7"/><line x1="148.25" y1="429.5" x2="152.25" y2="429.5" stroke="#202040" stroke-opacity="0.38" stroke-width="0.8"/><line x1="152.25" y1="429.5" x2="156.75" y2="429.5" stroke="#202040" stroke-opacity="0.22" stroke-width="0.7"/><line x1="148.2" y1="431.5" x2="152.2" y2="431.5" stroke="#202040" stroke-opacity="0.38" stroke-width="0.8"/><line x1="152.2" y1="431.5" x2="156.7" y2="431.5" stroke="#202040" stroke-opacity="0.22" stroke-width="0.7"/><line x1="148.14" y1="433.5" x2="152.14" y2="433.5" stroke="#202040" stroke-opacity="0.38" stroke-width="0.8"/><line x1="152.14" y1="433.5" x2="156.64" y2="433.5" stroke="#202040" stroke-opacity="0.22" stroke-width="0.7"/><line x1="148.08" y1="435.5" x2="152.08" y2="435.5" stroke="#202040" stroke-opacity="0.38" stroke-width="0.8"/><line x1="152.08" y1="435.5" x2="156.58" y2="435.5" stroke="#202040" stroke-opacity="0.22" stroke-width="0.7"/><line x1="148.03" y1="437.5" x2="152.03" y2="437.5" stroke="#202040" stroke-opacity="0.38" stroke-width="0.8"/><line x1="152.03" y1="437.5" x2="156.53" y2="437.5" stroke="#202040" stroke-opacity="0.22" stroke-width="0.7"/><line x1="147.97" y1="439.5" x2="151.97" y2="439.5" stroke="#202040" stroke-opacity="0.38" stroke-width="0.8"/><line x1="151.97" y1="439.5" x2="156.47" y2="439.5" stroke="#202040" stroke-opacity="0.22" stroke-width="0.7"/><line x1="147.91" y1="441.5" x2="151.91" y2="441.5" stroke="#202040" stroke-opacity="0.38" stroke-width="0.8"/><line x1="151.91" y1="441.5" x2="156.41" y2="441.5" stroke="#202040" stroke-opacity="0.22" stroke-width="0.7"/><line x1="147.85" y1="443.5" x2="151.85" y2="443.5" stroke="#202040" stroke-opacity="0.38" stroke-width="0.8"/><line x1="151.85" y1="443.5" x2="156.35" y2="443.5" stroke="#202040" stroke-opacity="0.22" stroke-width="0.7"/><line x1="147.8" y1="445.5" x2="151.8" y2="445.5" stroke="#202040" stroke-opacity="0.38" stroke-width="0.8"/><line x1="151.8" y1="445.5" x2="156.3" y2="445.5" stroke="#202040" stroke-opacity="0.22" stroke-width="0.7"/><line x1="147.74" y1="447.5" x2="151.74" y2="447.5" stroke="#202040" stroke-opacity="0.38" stroke-width="0.8"/><line x1="151.74" y1="447.5" x2="156.24" y2="447.5" stroke="#202040" stroke-opacity="0.22" stroke-width="0.7"/><line x1="147.68" y1="449.5" x2="151.68" y2="449.5" stroke="#202040" stroke-opacity="0.38" stroke-width="0.8"/><line x1="151.68" y1="449.5" x2="156.18" y2="449.5" stroke="#202040" stroke-opacity="0.22" stroke-width="0.7"/><line x1="147.62" y1="451.5" x2="151.62" y2="451.5" stroke="#202040" stroke-opacity="0.38" stroke-width="0.8"/><line x1="151.62" y1="451.5" x2="156.12" y2="451.5" stroke="#202040" stroke-opacity="0.22" stroke-width="0.7"/><line x1="147.57" y1="453.5" x2="151.57" y2="453.5" stroke="#202040" stroke-opacity="0.38" stroke-width="0.8"/><line x1="151.57" y1="453.5" x2="156.07" y2="453.5" stroke="#202040" stroke-opacity="0.22" stroke-width="0.7"/><line x1="147.51" y1="455.5" x2="151.51" y2="455.5" stroke="#202040" stroke-opacity="0.38" stroke-width="0.8"/><line x1="151.51" y1="455.5" x2="156.01" y2="455.5" stroke="#202040" stroke-opacity="0.22" stroke-width="0.7"/><line x1="147.45" y1="457.5" x2="151.45" y2="457.5" stroke="#202040" stroke-opacity="0.38" stroke-width="0.8"/><line x1="151.45" y1="457.5" x2="155.95" y2="457.5" stroke="#202040" stroke-opacity="0.22" stroke-width="0.7"/><line x1="147.4" y1="459.5" x2="151.4" y2="459.5" stroke="#202040" stroke-opacity="0.38" stroke-width="0.8"/><line x1="151.4" y1="459.5" x2="155.9" y2="459.5" stroke="#202040" stroke-opacity="0.22" stroke-width="0.7"/><line x1="147.34" y1="461.5" x2="151.34" y2="461.5" stroke="#202040" stroke-opacity="0.38" stroke-width="0.8"/><line x1="151.34" y1="461.5" x2="155.84" y2="461.5" stroke="#202040" stroke-opacity="0.22" stroke-width="0.7"/><line x1="147.28" y1="463.5" x2="151.28" y2="463.5" stroke="#202040" stroke-opacity="0.38" stroke-width="0.8"/><line x1="151.28" y1="463.5" x2="155.78" y2="463.5" stroke="#202040" stroke-opacity="0.22" stroke-width="0.7"/><line x1="147.22" y1="465.5" x2="151.22" y2="465.5" stroke="#202040" stroke-opacity="0.38" stroke-width="0.8"/><line x1="151.22" y1="465.5" x2="155.72" y2="465.5" stroke="#202040" stroke-opacity="0.22" stroke-width="0.7"/><line x1="147.17" y1="467.5" x2="151.17" y2="467.5" stroke="#202040" stroke-opacity="0.38" stroke-width="0.8"/><line x1="151.17" y1="467.5" x2="155.67" y2="467.5" stroke="#202040" stroke-opacity="0.22" stroke-width="0.7"/><line x1="147.11" y1="469.5" x2="151.11" y2="469.5" stroke="#202040" stroke-opacity="0.38" stroke-width="0.8"/><line x1="151.11" y1="469.5" x2="155.61" y2="469.5" stroke="#202040" stroke-opacity="0.22" stroke-width="0.7"/><line x1="147.05" y1="471.5" x2="151.05" y2="471.5" stroke="#202040" stroke-opacity="0.38" stroke-width="0.8"/><line x1="151.05" y1="471.5" x2="155.55" y2="471.5" stroke="#202040" stroke-opacity="0.22" stroke-width="0.7"/><line x1="146.99" y1="473.5" x2="150.99" y2="473.5" stroke="#202040" stroke-opacity="0.38" stroke-width="0.8"/><line x1="150.99" y1="473.5" x2="155.49" y2="473.5" stroke="#202040" stroke-opacity="0.22" stroke-width="0.7"/><line x1="146.94" y1="475.5" x2="150.94" y2="475.5" stroke="#202040" stroke-opacity="0.38" stroke-width="0.8"/><line x1="150.94" y1="475.5" x2="155.44" y2="475.5" stroke="#202040" stroke-opacity="0.22" stroke-width="0.7"/><line x1="146.88" y1="477.5" x2="150.88" y2="477.5" stroke="#202040" stroke-opacity="0.38" stroke-width="0.8"/><line x1="150.88" y1="477.5" x2="155.38" y2="477.5" stroke="#202040" stroke-opacity="0.22" stroke-width="0.7"/><line x1="146.82" y1="479.5" x2="150.82" y2="479.5" stroke="#202040" stroke-opacity="0.38" stroke-width="0.8"/><line x1="150.82" y1="479.5" x2="155.32" y2="479.5" stroke="#202040" stroke-opacity="0.22" stroke-width="0.7"/><line x1="146.77" y1="481.5" x2="150.77" y2="481.5" stroke="#202040" stroke-opacity="0.38" stroke-width="0.8"/><line x1="150.77" y1="481.5" x2="155.27" y2="481.5" stroke="#202040" stroke-opacity="0.22" stroke-width="0.7"/><line x1="146.71" y1="483.5" x2="150.71" y2="483.5" stroke="#202040" stroke-opacity="0.38" stroke-width="0.8"/><line x1="150.71" y1="483.5" x2="155.21" y2="483.5" stroke="#202040" stroke-opacity="0.22" stroke-width="0.7"/><line x1="146.65" y1="485.5" x2="150.65" y2="485.5" stroke="#202040" stroke-opacity="0.38" stroke-width="0.8"/><line x1="150.65" y1="485.5" x2="155.15" y2="485.5" stroke="#202040" stroke-opacity="0.22" stroke-width="0.7"/><line x1="146.59" y1="487.5" x2="150.59" y2="487.5" stroke="#202040" stroke-opacity="0.38" stroke-width="0.8"/><line x1="150.59" y1="487.5" x2="155.09" y2="487.5" stroke="#202040" stroke-opacity="0.22" stroke-width="0.7"/><line x1="146.54" y1="489.5" x2="150.54" y2="489.5" stroke="#202040" stroke-opacity="0.38" stroke-width="0.8"/><line x1="150.54" y1="489.5" x2="155.04" y2="489.5" stroke="#202040" stroke-opacity="0.22" stroke-width="0.7"/><line x1="146.48" y1="491.5" x2="150.48" y2="491.5" stroke="#202040" stroke-opacity="0.38" stroke-width="0.8"/><line x1="150.48" y1="491.5" x2="154.98" y2="491.5" stroke="#202040" stroke-opacity="0.22" stroke-width="0.7"/><line x1="146.42" y1="493.5" x2="150.42" y2="493.5" stroke="#202040" stroke-opacity="0.38" stroke-width="0.8"/><line x1="150.42" y1="493.5" x2="154.92" y2="493.5" stroke="#202040" stroke-opacity="0.22" stroke-width="0.7"/><line x1="146.36" y1="495.5" x2="150.36" y2="495.5" stroke="#202040" stroke-opacity="0.38" stroke-width="0.8"/><line x1="150.36" y1="495.5" x2="154.86" y2="495.5" stroke="#202040" stroke-opacity="0.22" stroke-width="0.7"/><line x1="146.31" y1="497.5" x2="150.31" y2="497.5" stroke="#202040" stroke-opacity="0.38" stroke-width="0.8"/><line x1="150.31" y1="497.5" x2="154.81" y2="497.5" stroke="#202040" stroke-opacity="0.22" stroke-width="0.7"/><line x1="146.25" y1="499.5" x2="150.25" y2="499.5" stroke="#202040" stroke-opacity="0.38" stroke-width="0.8"/><line x1="150.25" y1="499.5" x2="154.75" y2="499.5" stroke="#202040" stroke-opacity="0.22" stroke-width="0.7"/><line x1="146.19" y1="501.5" x2="150.19" y2="501.5" stroke="#202040" stroke-opacity="0.38" stroke-width="0.8"/><line x1="150.19" y1="501.5" x2="154.69" y2="501.5" stroke="#202040" stroke-opacity="0.22" stroke-width="0.7"/><line x1="146.14" y1="503.5" x2="150.14" y2="503.5" stroke="#202040" stroke-opacity="0.38" stroke-width="0.8"/><line x1="150.14" y1="503.5" x2="154.64" y2="503.5" stroke="#202040" stroke-opacity="0.22" stroke-width="0.7"/><line x1="146.08" y1="505.5" x2="150.08" y2="505.5" stroke="#202040" stroke-opacity="0.38" stroke-width="0.8"/><line x1="150.08" y1="505.5" x2="154.58" y2="505.5" stroke="#202040" stroke-opacity="0.22" stroke-width="0.7"/><line x1="146.02" y1="507.5" x2="150.02" y2="507.5" stroke="#202040" stroke-opacity="0.38" stroke-width="0.8"/><line x1="150.02" y1="507.5" x2="154.52" y2="507.5" stroke="#202040" stroke-opacity="0.22" stroke-width="0.7"/><line x1="145.96" y1="509.5" x2="149.96" y2="509.5" stroke="#202040" stroke-opacity="0.38" stroke-width="0.8"/><line x1="149.96" y1="509.5" x2="154.46" y2="509.5" stroke="#202040" stroke-opacity="0.22" stroke-width="0.7"/><line x1="145.91" y1="511.5" x2="149.91" y2="511.5" stroke="#202040" stroke-opacity="0.38" stroke-width="0.8"/><line x1="149.91" y1="511.5" x2="154.41" y2="511.5" stroke="#202040" stroke-opacity="0.22" stroke-width="0.7"/><line x1="145.85" y1="513.5" x2="149.85" y2="513.5" stroke="#202040" stroke-opacity="0.38" stroke-width="0.8"/><line x1="149.85" y1="513.5" x2="154.35" y2="513.5" stroke="#202040" stroke-opacity="0.22" stroke-width="0.7"/><line x1="145.79" y1="515.5" x2="149.79" y2="515.5" stroke="#202040" stroke-opacity="0.38" stroke-width="0.8"/><line x1="149.79" y1="515.5" x2="154.29" y2="515.5" stroke="#202040" stroke-opacity="0.22" stroke-width="0.7"/><line x1="145.74" y1="517.5" x2="149.74" y2="517.5" stroke="#202040" stroke-opacity="0.38" stroke-width="0.8"/><line x1="149.74" y1="517.5" x2="154.24" y2="517.5" stroke="#202040" stroke-opacity="0.22" stroke-width="0.7"/><line x1="145.68" y1="519.5" x2="149.68" y2="519.5" stroke="#202040" stroke-opacity="0.38" stroke-width="0.8"/><line x1="149.68" y1="519.5" x2="154.18" y2="519.5" stroke="#202040" stroke-opacity="0.22" stroke-width="0.7"/><line x1="145.62" y1="521.5" x2="149.62" y2="521.5" stroke="#202040" stroke-opacity="0.38" stroke-width="0.8"/><line x1="149.62" y1="521.5" x2="154.12" y2="521.5" stroke="#202040" stroke-opacity="0.22" stroke-width="0.7"/><line x1="145.56" y1="523.5" x2="149.56" y2="523.5" stroke="#202040" stroke-opacity="0.38" stroke-width="0.8"/><line x1="149.56" y1="523.5" x2="154.06" y2="523.5" stroke="#202040" stroke-opacity="0.22" stroke-width="0.7"/><line x1="145.51" y1="525.5" x2="149.51" y2="525.5" stroke="#202040" stroke-opacity="0.38" stroke-width="0.8"/><line x1="149.51" y1="525.5" x2="154.01" y2="525.5" stroke="#202040" stroke-opacity="0.22" stroke-width="0.7"/><line x1="145.45" y1="527.5" x2="149.45" y2="527.5" stroke="#202040" stroke-opacity="0.38" stroke-width="0.8"/><line x1="149.45" y1="527.5" x2="153.95" y2="527.5" stroke="#202040" stroke-opacity="0.22" stroke-width="0.7"/><line x1="145.39" y1="529.5" x2="149.39" y2="529.5" stroke="#202040" stroke-opacity="0.38" stroke-width="0.8"/><line x1="149.39" y1="529.5" x2="153.89" y2="529.5" stroke="#202040" stroke-opacity="0.22" stroke-width="0.7"/><line x1="145.33" y1="531.5" x2="149.33" y2="531.5" stroke="#202040" stroke-opacity="0.38" stroke-width="0.8"/><line x1="149.33" y1="531.5" x2="153.83" y2="531.5" stroke="#202040" stroke-opacity="0.22" stroke-width="0.7"/><line x1="145.28" y1="533.5" x2="149.28" y2="533.5" stroke="#202040" stroke-opacity="0.38" stroke-width="0.8"/><line x1="149.28" y1="533.5" x2="153.78" y2="533.5" stroke="#202040" stroke-opacity="0.22" stroke-width="0.7"/><line x1="145.22" y1="535.5" x2="149.22" y2="535.5" stroke="#202040" stroke-opacity="0.38" stroke-width="0.8"/><line x1="149.22" y1="535.5" x2="153.72" y2="535.5" stroke="#202040" stroke-opacity="0.22" stroke-width="0.7"/><line x1="145.16" y1="537.5" x2="149.16" y2="537.5" stroke="#202040" stroke-opacity="0.38" stroke-width="0.8"/><line x1="149.16" y1="537.5" x2="153.66" y2="537.5" stroke="#202040" stroke-opacity="0.22" stroke-width="0.7"/><line x1="145.11" y1="539.5" x2="149.11" y2="539.5" stroke="#202040" stroke-opacity="0.38" stroke-width="0.8"/><line x1="149.11" y1="539.5" x2="153.61" y2="539.5" stroke="#202040" stroke-opacity="0.22" stroke-width="0.7"/><line x1="145.05" y1="541.5" x2="149.05" y2="541.5" stroke="#202040" stroke-opacity="0.38" stroke-width="0.8"/><line x1="149.05" y1="541.5" x2="153.55" y2="541.5" stroke="#202040" stroke-opacity="0.22" stroke-width="0.7"/><line x1="144.99" y1="543.5" x2="148.99" y2="543.5" stroke="#202040" stroke-opacity="0.38" stroke-width="0.8"/><line x1="148.99" y1="543.5" x2="153.49" y2="543.5" stroke="#202040" stroke-opacity="0.22" stroke-width="0.7"/><line x1="144.93" y1="545.5" x2="148.93" y2="545.5" stroke="#202040" stroke-opacity="0.38" stroke-width="0.8"/><line x1="148.93" y1="545.5" x2="153.43" y2="545.5" stroke="#202040" stroke-opacity="0.22" stroke-width="0.7"/><line x1="144.88" y1="547.5" x2="148.88" y2="547.5" stroke="#202040" stroke-opacity="0.38" stroke-width="0.8"/><line x1="148.88" y1="547.5" x2="153.38" y2="547.5" stroke="#202040" stroke-opacity="0.22" stroke-width="0.7"/><line x1="144.82" y1="549.5" x2="148.82" y2="549.5" stroke="#202040" stroke-opacity="0.38" stroke-width="0.8"/><line x1="148.82" y1="549.5" x2="153.32" y2="549.5" stroke="#202040" stroke-opacity="0.22" stroke-width="0.7"/><line x1="144.76" y1="551.5" x2="148.76" y2="551.5" stroke="#202040" stroke-opacity="0.38" stroke-width="0.8"/><line x1="148.76" y1="551.5" x2="153.26" y2="551.5" stroke="#202040" stroke-opacity="0.22" stroke-width="0.7"/><line x1="144.7" y1="553.5" x2="148.7" y2="553.5" stroke="#202040" stroke-opacity="0.38" stroke-width="0.8"/><line x1="148.7" y1="553.5" x2="153.2" y2="553.5" stroke="#202040" stroke-opacity="0.22" stroke-width="0.7"/><line x1="144.65" y1="555.5" x2="148.65" y2="555.5" stroke="#202040" stroke-opacity="0.38" stroke-width="0.8"/><line x1="148.65" y1="555.5" x2="153.15" y2="555.5" stroke="#202040" stroke-opacity="0.22" stroke-width="0.7"/><line x1="144.59" y1="557.5" x2="148.59" y2="557.5" stroke="#202040" stroke-opacity="0.38" stroke-width="0.8"/><line x1="148.59" y1="557.5" x2="153.09" y2="557.5" stroke="#202040" stroke-opacity="0.22" stroke-width="0.7"/><line x1="144.53" y1="559.5" x2="148.53" y2="559.5" stroke="#202040" stroke-opacity="0.38" stroke-width="0.8"/><line x1="148.53" y1="559.5" x2="153.03" y2="559.5" stroke="#202040" stroke-opacity="0.22" stroke-width="0.7"/><line x1="144.48" y1="561.5" x2="148.48" y2="561.5" stroke="#202040" stroke-opacity="0.38" stroke-width="0.8"/><line x1="148.48" y1="561.5" x2="152.98" y2="561.5" stroke="#202040" stroke-opacity="0.22" stroke-width="0.7"/><line x1="144.42" y1="563.5" x2="148.42" y2="563.5" stroke="#202040" stroke-opacity="0.38" stroke-width="0.8"/><line x1="148.42" y1="563.5" x2="152.92" y2="563.5" stroke="#202040" stroke-opacity="0.22" stroke-width="0.7"/><line x1="144.36" y1="565.5" x2="148.36" y2="565.5" stroke="#202040" stroke-opacity="0.38" stroke-width="0.8"/><line x1="148.36" y1="565.5" x2="152.86" y2="565.5" stroke="#202040" stroke-opacity="0.22" stroke-width="0.7"/><line x1="144.3" y1="567.5" x2="148.3" y2="567.5" stroke="#202040" stroke-opacity="0.38" stroke-width="0.8"/><line x1="148.3" y1="567.5" x2="152.8" y2="567.5" stroke="#202040" stroke-opacity="0.22" stroke-width="0.7"/><line x1="144.25" y1="569.5" x2="148.25" y2="569.5" stroke="#202040" stroke-opacity="0.38" stroke-width="0.8"/><line x1="148.25" y1="569.5" x2="152.75" y2="569.5" stroke="#202040" stroke-opacity="0.22" stroke-width="0.7"/><line x1="144.19" y1="571.5" x2="148.19" y2="571.5" stroke="#202040" stroke-opacity="0.38" stroke-width="0.8"/><line x1="148.19" y1="571.5" x2="152.69" y2="571.5" stroke="#202040" stroke-opacity="0.22" stroke-width="0.7"/><line x1="144.13" y1="573.5" x2="148.13" y2="573.5" stroke="#202040" stroke-opacity="0.38" stroke-width="0.8"/><line x1="148.13" y1="573.5" x2="152.63" y2="573.5" stroke="#202040" stroke-opacity="0.22" stroke-width="0.7"/><line x1="144.07" y1="575.5" x2="148.07" y2="575.5" stroke="#202040" stroke-opacity="0.38" stroke-width="0.8"/><line x1="148.07" y1="575.5" x2="152.57" y2="575.5" stroke="#202040" stroke-opacity="0.22" stroke-width="0.7"/><line x1="144.02" y1="577.5" x2="148.02" y2="577.5" stroke="#202040" stroke-opacity="0.38" stroke-width="0.8"/><line x1="148.02" y1="577.5" x2="152.52" y2="577.5" stroke="#202040" stroke-opacity="0.22" stroke-width="0.7"/><line x1="143.96" y1="579.5" x2="147.96" y2="579.5" stroke="#202040" stroke-opacity="0.38" stroke-width="0.8"/><line x1="147.96" y1="579.5" x2="152.46" y2="579.5" stroke="#202040" stroke-opacity="0.22" stroke-width="0.7"/><line x1="143.9" y1="581.5" x2="147.9" y2="581.5" stroke="#202040" stroke-opacity="0.38" stroke-width="0.8"/><line x1="147.9" y1="581.5" x2="152.4" y2="581.5" stroke="#202040" stroke-opacity="0.22" stroke-width="0.7"/><line x1="143.85" y1="583.5" x2="147.85" y2="583.5" stroke="#202040" stroke-opacity="0.38" stroke-width="0.8"/><line x1="147.85" y1="583.5" x2="152.35" y2="583.5" stroke="#202040" stroke-opacity="0.22" stroke-width="0.7"/><line x1="143.79" y1="585.5" x2="147.79" y2="585.5" stroke="#202040" stroke-opacity="0.38" stroke-width="0.8"/><line x1="147.79" y1="585.5" x2="152.29" y2="585.5" stroke="#202040" stroke-opacity="0.22" stroke-width="0.7"/><line x1="143.73" y1="587.5" x2="147.73" y2="587.5" stroke="#202040" stroke-opacity="0.38" stroke-width="0.8"/><line x1="147.73" y1="587.5" x2="152.23" y2="587.5" stroke="#202040" stroke-opacity="0.22" stroke-width="0.7"/><line x1="143.67" y1="589.5" x2="147.67" y2="589.5" stroke="#202040" stroke-opacity="0.38" stroke-width="0.8"/><line x1="147.67" y1="589.5" x2="152.17" y2="589.5" stroke="#202040" stroke-opacity="0.22" stroke-width="0.7"/><line x1="143.62" y1="591.5" x2="147.62" y2="591.5" stroke="#202040" stroke-opacity="0.38" stroke-width="0.8"/><line x1="147.62" y1="591.5" x2="152.12" y2="591.5" stroke="#202040" stroke-opacity="0.22" stroke-width="0.7"/><line x1="143.56" y1="593.5" x2="147.56" y2="593.5" stroke="#202040" stroke-opacity="0.38" stroke-width="0.8"/><line x1="147.56" y1="593.5" x2="152.06" y2="593.5" stroke="#202040" stroke-opacity="0.22" stroke-width="0.7"/><line x1="143.5" y1="595.5" x2="147.5" y2="595.5" stroke="#202040" stroke-opacity="0.38" stroke-width="0.8"/><line x1="147.5" y1="595.5" x2="152" y2="595.5" stroke="#202040" stroke-opacity="0.22" stroke-width="0.7"/><line x1="143.45" y1="597.5" x2="147.45" y2="597.5" stroke="#202040" stroke-opacity="0.38" stroke-width="0.8"/><line x1="147.45" y1="597.5" x2="151.95" y2="597.5" stroke="#202040" stroke-opacity="0.22" stroke-width="0.7"/><line x1="143.39" y1="599.5" x2="147.39" y2="599.5" stroke="#202040" stroke-opacity="0.38" stroke-width="0.8"/><line x1="147.39" y1="599.5" x2="151.89" y2="599.5" stroke="#202040" stroke-opacity="0.22" stroke-width="0.7"/><line x1="143.33" y1="601.5" x2="147.33" y2="601.5" stroke="#202040" stroke-opacity="0.38" stroke-width="0.8"/><line x1="147.33" y1="601.5" x2="151.83" y2="601.5" stroke="#202040" stroke-opacity="0.22" stroke-width="0.7"/><line x1="143.27" y1="603.5" x2="147.27" y2="603.5" stroke="#202040" stroke-opacity="0.38" stroke-width="0.8"/><line x1="147.27" y1="603.5" x2="151.77" y2="603.5" stroke="#202040" stroke-opacity="0.22" stroke-width="0.7"/><line x1="143.22" y1="605.5" x2="147.22" y2="605.5" stroke="#202040" stroke-opacity="0.38" stroke-width="0.8"/><line x1="147.22" y1="605.5" x2="151.72" y2="605.5" stroke="#202040" stroke-opacity="0.22" stroke-width="0.7"/><line x1="143.16" y1="607.5" x2="147.16" y2="607.5" stroke="#202040" stroke-opacity="0.38" stroke-width="0.8"/><line x1="147.16" y1="607.5" x2="151.66" y2="607.5" stroke="#202040" stroke-opacity="0.22" stroke-width="0.7"/><line x1="143.1" y1="609.5" x2="147.1" y2="609.5" stroke="#202040" stroke-opacity="0.38" stroke-width="0.8"/><line x1="147.1" y1="609.5" x2="151.6" y2="609.5" stroke="#202040" stroke-opacity="0.22" stroke-width="0.7"/><line x1="143.04" y1="611.5" x2="147.04" y2="611.5" stroke="#202040" stroke-opacity="0.38" stroke-width="0.8"/><line x1="147.04" y1="611.5" x2="151.54" y2="611.5" stroke="#202040" stroke-opacity="0.22" stroke-width="0.7"/><line x1="142.99" y1="613.5" x2="146.99" y2="613.5" stroke="#202040" stroke-opacity="0.38" stroke-width="0.8"/><line x1="146.99" y1="613.5" x2="151.49" y2="613.5" stroke="#202040" stroke-opacity="0.22" stroke-width="0.7"/><line x1="142.93" y1="615.5" x2="146.93" y2="615.5" stroke="#202040" stroke-opacity="0.38" stroke-width="0.8"/><line x1="146.93" y1="615.5" x2="151.43" y2="615.5" stroke="#202040" stroke-opacity="0.22" stroke-width="0.7"/><line x1="142.87" y1="617.5" x2="146.87" y2="617.5" stroke="#202040" stroke-opacity="0.38" stroke-width="0.8"/><line x1="146.87" y1="617.5" x2="151.37" y2="617.5" stroke="#202040" stroke-opacity="0.22" stroke-width="0.7"/><line x1="142.82" y1="619.5" x2="146.82" y2="619.5" stroke="#202040" stroke-opacity="0.38" stroke-width="0.8"/><line x1="146.82" y1="619.5" x2="151.32" y2="619.5" stroke="#202040" stroke-opacity="0.22" stroke-width="0.7"/><line x1="142.76" y1="621.5" x2="146.76" y2="621.5" stroke="#202040" stroke-opacity="0.38" stroke-width="0.8"/><line x1="146.76" y1="621.5" x2="151.26" y2="621.5" stroke="#202040" stroke-opacity="0.22" stroke-width="0.7"/><line x1="142.7" y1="623.5" x2="146.7" y2="623.5" stroke="#202040" stroke-opacity="0.38" stroke-width="0.8"/><line x1="146.7" y1="623.5" x2="151.2" y2="623.5" stroke="#202040" stroke-opacity="0.22" stroke-width="0.7"/><line x1="142.64" y1="625.5" x2="146.64" y2="625.5" stroke="#202040" stroke-opacity="0.38" stroke-width="0.8"/><line x1="146.64" y1="625.5" x2="151.14" y2="625.5" stroke="#202040" stroke-opacity="0.22" stroke-width="0.7"/><line x1="142.59" y1="627.5" x2="146.59" y2="627.5" stroke="#202040" stroke-opacity="0.38" stroke-width="0.8"/><line x1="146.59" y1="627.5" x2="151.09" y2="627.5" stroke="#202040" stroke-opacity="0.22" stroke-width="0.7"/><line x1="142.53" y1="629.5" x2="146.53" y2="629.5" stroke="#202040" stroke-opacity="0.38" stroke-width="0.8"/><line x1="146.53" y1="629.5" x2="151.03" y2="629.5" stroke="#202040" stroke-opacity="0.22" stroke-width="0.7"/><line x1="142.47" y1="631.5" x2="146.47" y2="631.5" stroke="#202040" stroke-opacity="0.38" stroke-width="0.8"/><line x1="146.47" y1="631.5" x2="150.97" y2="631.5" stroke="#202040" stroke-opacity="0.22" stroke-width="0.7"/><line x1="142.41" y1="633.5" x2="146.41" y2="633.5" stroke="#202040" stroke-opacity="0.38" stroke-width="0.8"/><line x1="146.41" y1="633.5" x2="150.91" y2="633.5" stroke="#202040" stroke-opacity="0.22" stroke-width="0.7"/><line x1="142.36" y1="635.5" x2="146.36" y2="635.5" stroke="#202040" stroke-opacity="0.38" stroke-width="0.8"/><line x1="146.36" y1="635.5" x2="150.86" y2="635.5" stroke="#202040" stroke-opacity="0.22" stroke-width="0.7"/><line x1="142.3" y1="637.5" x2="146.3" y2="637.5" stroke="#202040" stroke-opacity="0.38" stroke-width="0.8"/><line x1="146.3" y1="637.5" x2="150.8" y2="637.5" stroke="#202040" stroke-opacity="0.22" stroke-width="0.7"/><polyline points="122.42,399 150,399" fill="none" stroke="#101050" stroke-opacity="0.5" stroke-width="1"/><polyline points="122.42,401.2 150,401.2" fill="none" stroke="#101050" stroke-opacity="0.18" stroke-width="0.8"/><polyline points="144,399 149,399" fill="none" stroke="#101050" stroke-opacity="0.55" stroke-width="1.6"/><polyline points="122.84,425.4 150,425.4" fill="none" stroke="#101050" stroke-opacity="0.5" stroke-width="1"/><polyline points="122.84,427.6 150,427.6" fill="none" stroke="#101050" stroke-opacity="0.18" stroke-width="0.8"/><polyline points="144,425.4 149,425.4" fill="none" stroke="#101050" stroke-opacity="0.55" stroke-width="1.6"/><polyline points="126.02,452.5 150,452.5" fill="none" stroke="#101050" stroke-opacity="0.5" stroke-width="1"/><polyline points="126.02,454.7 150,454.7" fill="none" stroke="#101050" stroke-opacity="0.18" stroke-width="0.8"/><polyline points="144,452.5 149,452.5" fill="none" stroke="#101050" stroke-opacity="0.55" stroke-width="1.6"/><polyline points="126.84,480 150,480" fill="none" stroke="#101050" stroke-opacity="0.5" stroke-width="1"/><polyline points="126.84,482.2 150,482.2" fill="none" stroke="#101050" stroke-opacity="0.18" stroke-width="0.8"/><polyline points="144,480 149,480" fill="none" stroke="#101050" stroke-opacity="0.55" stroke-width="1.6"/><polyline points="127.68,508 150,508" fill="none" stroke="#101050" stroke-opacity="0.5" stroke-width="1"/><polyline points="127.68,510.2 150,510.2" fill="none" stroke="#101050" stroke-opacity="0.18" stroke-width="0.8"/><polyline points="144,508 149,508" fill="none" stroke="#101050" stroke-opacity="0.55" stroke-width="1.6"/><polyline points="128.53,536.5 150,536.5" fill="none" stroke="#101050" stroke-opacity="0.5" stroke-width="1"/><polyline points="128.53,538.7 150,538.7" fill="none" stroke="#101050" stroke-opacity="0.18" stroke-width="0.8"/><polyline points="144,536.5 149,536.5" fill="none" stroke="#101050" stroke-opacity="0.55" stroke-width="1.6"/><polyline points="129.38,564.5 150,564.5" fill="none" stroke="#101050" stroke-opacity="0.5" stroke-width="1"/><polyline points="129.38,566.7 150,566.7" fill="none" stroke="#101050" stroke-opacity="0.18" stroke-width="0.8"/><polyline points="144,564.5 149,564.5" fill="none" stroke="#101050" stroke-opacity="0.55" stroke-width="1.6"/><polyline points="130.22,592.5 150,592.5" fill="none" stroke="#101050" stroke-opacity="0.5" stroke-width="1"/><polyline points="130.22,594.7 150,594.7" fill="none" stroke="#101050" stroke-opacity="0.18" stroke-width="0.8"/><polyline points="144,592.5 149,592.5" fill="none" stroke="#101050" stroke-opacity="0.55" stroke-width="1.6"/><polyline points="131.06,620.5 150,620.5" fill="none" stroke="#101050" stroke-opacity="0.5" stroke-width="1"/><polyline points="131.06,622.7 150,622.7" fill="none" stroke="#101050" stroke-opacity="0.18" stroke-width="0.8"/><polyline points="144,620.5 149,620.5" fill="none" stroke="#101050" stroke-opacity="0.55" stroke-width="1.6"/><ellipse cx="134.51" cy="388" rx="3.8" ry="2.9" fill="none" stroke="#2a2a2a" stroke-opacity="0.7" stroke-width="0.9"/><path d="M133.51,384 q3,-4 7,-3 q3,1 2,4 l-3,4" fill="none" stroke="#3a3a3a" stroke-opacity="0.45" stroke-width="0.8"/><ellipse cx="139.31" cy="390.2" rx="1.8" ry="2.0" fill="#fff" fill-opacity="0.9"/><path d="M136.51,388 l3,-1.5" stroke="#202020" stroke-width="1.2" stroke-opacity="0.8"/><ellipse cx="134.66" cy="413.5" rx="3.8" ry="2.9" fill="none" stroke="#2a2a2a" stroke-opacity="0.7" stroke-width="0.9"/><path d="M133.66,409.5 q3,-4 7,-3 q3,1 2,4 l-3,4" fill="none" stroke="#3a3a3a" stroke-opacity="0.45" stroke-width="0.8"/><ellipse cx="139.46" cy="415.7" rx="1.8" ry="2.0" fill="#fff" fill-opacity="0.9"/><path d="M136.66,413.5 l3,-1.5" stroke="#202020" stroke-width="1.2" stroke-opacity="0.8"/><ellipse cx="134.81" cy="439.5" rx="3.8" ry="2.9" fill="none" stroke="#2a2a2a" stroke-opacity="0.7" stroke-width="0.9"/><path d="M133.81,435.5 q3,-4 7,-3 q3,1 2,4 l-3,4" fill="none" stroke="#3a3a3a" stroke-opacity="0.45" stroke-width="0.8"/><ellipse cx="139.62" cy="441.7" rx="1.8" ry="2.0" fill="#fff" fill-opacity="0.9"/><path d="M136.81,439.5 l3,-1.5" stroke="#202020" stroke-width="1.2" stroke-opacity="0.8"/><g transform="translate(135.49,466.7) rotate(-36)"><rect x="-8" y="-3.8" width="16" height="7.6" rx="3.8" fill="#fff" fill-opacity="0.14" stroke="#303030" stroke-opacity="0.5" stroke-width="0.8"/><ellipse cx="0" cy="0" rx="2.2" ry="3.8" fill="none" stroke="#303030" stroke-opacity="0.35" stroke-width="0.7"/><ellipse cx="-4.2" cy="0" rx="2.2" ry="3.8" fill="none" stroke="#303030" stroke-opacity="0.25" stroke-width="0.6"/></g><ellipse cx="140.99" cy="472" rx="2.2" ry="2.6" fill="#fff" fill-opacity="0.85"/><path d="M135.99,471 l4,-2" stroke="#202020" stroke-width="1.3" stroke-opacity="0.8"/><g transform="translate(135.65,494.2) rotate(-36)"><rect x="-8" y="-3.8" width="16" height="7.6" rx="3.8" fill="#fff" fill-opacity="0.14" stroke="#303030" stroke-opacity="0.5" stroke-width="0.8"/><ellipse cx="0" cy="0" rx="2.2" ry="3.8" fill="none" stroke="#303030" stroke-opacity="0.35" stroke-width="0.7"/><ellipse cx="-4.2" cy="0" rx="2.2" ry="3.8" fill="none" stroke="#303030" stroke-opacity="0.25" stroke-width="0.6"/></g><ellipse cx="141.15" cy="499.5" rx="2.2" ry="2.6" fill="#fff" fill-opacity="0.85"/><path d="M136.15,498.5 l4,-2" stroke="#202020" stroke-width="1.3" stroke-opacity="0.8"/><g transform="translate(135.82,521.7) rotate(-36)"><rect x="-8" y="-3.8" width="16" height="7.6" rx="3.8" fill="#fff" fill-opacity="0.14" stroke="#303030" stroke-opacity="0.5" stroke-width="0.8"/><ellipse cx="0" cy="0" rx="2.2" ry="3.8" fill="none" stroke="#303030" stroke-opacity="0.35" stroke-width="0.7"/><ellipse cx="-4.2" cy="0" rx="2.2" ry="3.8" fill="none" stroke="#303030" stroke-opacity="0.25" stroke-width="0.6"/></g><g transform="translate(135.99,550.2) rotate(-36)"><rect x="-8" y="-3.8" width="16" height="7.6" rx="3.8" fill="#fff" fill-opacity="0.14" stroke="#303030" stroke-opacity="0.5" stroke-width="0.8"/><ellipse cx="0" cy="0" rx="2.2" ry="3.8" fill="none" stroke="#303030" stroke-opacity="0.35" stroke-width="0.7"/><ellipse cx="-4.2" cy="0" rx="2.2" ry="3.8" fill="none" stroke="#303030" stroke-opacity="0.25" stroke-width="0.6"/></g><g transform="translate(136.15,577.7) rotate(-36)"><rect x="-8" y="-3.8" width="16" height="7.6" rx="3.8" fill="#fff" fill-opacity="0.14" stroke="#303030" stroke-opacity="0.5" stroke-width="0.8"/><ellipse cx="0" cy="0" rx="2.2" ry="3.8" fill="none" stroke="#303030" stroke-opacity="0.35" stroke-width="0.7"/><ellipse cx="-4.2" cy="0" rx="2.2" ry="3.8" fill="none" stroke="#303030" stroke-opacity="0.25" stroke-width="0.6"/></g><g transform="translate(136.31,604.7) rotate(-36)"><rect x="-8" y="-3.8" width="16" height="7.6" rx="3.8" fill="#fff" fill-opacity="0.14" stroke="#303030" stroke-opacity="0.5" stroke-width="0.8"/><ellipse cx="0" cy="0" rx="2.2" ry="3.8" fill="none" stroke="#303030" stroke-opacity="0.35" stroke-width="0.7"/><ellipse cx="-4.2" cy="0" rx="2.2" ry="3.8" fill="none" stroke="#303030" stroke-opacity="0.25" stroke-width="0.6"/></g><circle cx="145.2" cy="534" r="2.6" fill="#1c1c1c" fill-opacity="0.8"/><circle cx="146.4" cy="533.4" r="0.9" fill="#8090c0" fill-opacity="0.7"/><circle cx="145.2" cy="564" r="2.6" fill="#1c1c1c" fill-opacity="0.8"/><circle cx="146.4" cy="563.4" r="0.9" fill="#8090c0" fill-opacity="0.7"/><circle cx="145.2" cy="593" r="2.6" fill="#1c1c1c" fill-opacity="0.8"/><circle cx="146.4" cy="592.4" r="0.9" fill="#8090c0" fill-opacity="0.7"/><circle cx="145.2" cy="620.5" r="2.6" fill="#1c1c1c" fill-opacity="0.8"/><circle cx="146.4" cy="619.9" r="0.9" fill="#8090c0" fill-opacity="0.7"/><path d="M142,511 l4,-2" stroke="#202020" stroke-width="1.4" stroke-opacity="0.8"/><polyline points="135,630 140,634 152,634" fill="none" stroke="#2a2a2a" stroke-opacity="0.45" stroke-width="0.8"/><polyline points="162.6,540 162.6,608.2 138,625.7" fill="none" stroke="#101050" stroke-opacity="0.45" stroke-width="0.8"/><polyline points="167.8,545 167.8,606.5 143,623.5" fill="none" stroke="#101050" stroke-opacity="0.35" stroke-width="0.8"/><polyline points="171.5,560 171.5,605 148,622" fill="none" stroke="#101050" stroke-opacity="0.3" stroke-width="0.8"/><polyline points="138,625.7 138.6,627.6 146.4,627.6 172.3,608.8" fill="none" stroke="#101050" stroke-opacity="0.45" stroke-width="0.8"/><polyline points="146,371.2 122.2,371.2 121.4,400 119.4,460 118.4,540 116.4,580 114.8,622 121,622" fill="none" stroke="#383838" stroke-width="0.9" stroke-opacity="0.85"/><polyline points="125.6,452 125.6,540 124.6,600 124.2,632" fill="none" stroke="#383838" stroke-width="0.7" stroke-opacity="0.6"/><polyline points="119.06,482.5 125.56,479 133,479" fill="none" stroke="#383838" stroke-width="0.8" stroke-opacity="0.75"/><polyline points="119.06,482.5 129.06,482.5" fill="none" stroke="#383838" stroke-width="0.7" stroke-opacity="0.6"/><polyline points="118.64,509.7 125.14,506.2 133,506.2" fill="none" stroke="#383838" stroke-width="0.8" stroke-opacity="0.75"/><polyline points="118.64,509.7 128.64,509.7" fill="none" stroke="#383838" stroke-width="0.7" stroke-opacity="0.6"/><polyline points="118.23,537 124.73,533.5 133,533.5" fill="none" stroke="#383838" stroke-width="0.8" stroke-opacity="0.75"/><polyline points="118.23,537 128.23,537" fill="none" stroke="#383838" stroke-width="0.7" stroke-opacity="0.6"/><polyline points="117.81,564.5 124.31,561 133,561" fill="none" stroke="#383838" stroke-width="0.8" stroke-opacity="0.75"/><polyline points="117.81,564.5 127.81,564.5" fill="none" stroke="#383838" stroke-width="0.7" stroke-opacity="0.6"/><polyline points="117.39,592 123.89,588.5 133,588.5" fill="none" stroke="#383838" stroke-width="0.8" stroke-opacity="0.75"/><polyline points="117.39,592 127.39,592" fill="none" stroke="#383838" stroke-width="0.7" stroke-opacity="0.6"/><polyline points="116.97,620 123.47,616.5 133,616.5" fill="none" stroke="#383838" stroke-width="0.8" stroke-opacity="0.75"/><polyline points="116.97,620 126.97,620" fill="none" stroke="#383838" stroke-width="0.7" stroke-opacity="0.6"/><polygon points="163,86 185.3,86 183.1,127 159.4,127" fill="#2828dc" fill-opacity="0.92"/><polygon points="170.4,86 173.2,86 171.4,127 168.6,127" fill="#000" fill-opacity="0.18"/><polygon points="163,86 165.5,86 161.9,127 159.4,127" fill="#000" fill-opacity="0.10"/><polygon points="166,86 170.4,86 168.6,127 164.4,127" fill="#fff" fill-opacity="0.05"/><polygon points="175,86 180,86 178,127 173,127" fill="#fff" fill-opacity="0.05"/><polygon points="181.8,86 185.3,86 183.1,127 179.7,127" fill="#000" fill-opacity="0.10"/><polyline points="163,86.6 185.3,86.6" fill="none" stroke="#000" stroke-opacity="0.4" stroke-width="1"/><polyline points="163,88.8 185.2,88.8" fill="none" stroke="#000" stroke-opacity="0.12" stroke-width="0.8"/><polyline points="168,84 168.3,54.4 173,54.4" fill="none" stroke="#585858" stroke-width="0.9"/><polyline points="168.3,62.3 172,62.3" fill="none" stroke="#585858" stroke-width="0.9"/><polygon points="172.8,50.5 182.4,51.5 180.5,86 171.6,86" fill="url(#Urod)"/><polygon points="172.8,50.5 176.5,50.9 175.2,86 171.6,86" fill="#fff" fill-opacity="0.10"/><polygon points="178.5,51.1 182.4,51.5 180.5,86 177,86" fill="#000" fill-opacity="0.08"/><polyline points="172.8,50.8 182.4,51.8" fill="none" stroke="#000" stroke-opacity="0.15" stroke-width="0.8"/><text x="235.5" y="133.8" font-size="19.6" textLength="32.8" lengthAdjust="spacingAndGlyphs" stroke="#000" stroke-width="0.45">0.3</text><text x="230" y="298.8" font-size="19.6" textLength="31" lengthAdjust="spacingAndGlyphs" stroke="#000" stroke-width="0.45">0.2</text><text x="224.3" y="463.4" font-size="19.6" textLength="32" lengthAdjust="spacingAndGlyphs" stroke="#000" stroke-width="0.45">0.1</text><text x="228.8" y="627.3" font-size="19.6" textLength="12.9" lengthAdjust="spacingAndGlyphs" stroke="#000" stroke-width="0.45">0</text></g>
<rect x="351.5" y="90.5" width="26" height="523.5" fill="url(#cbT)" stroke="#282828" stroke-width="1.25"/><line x1="351.5" y1="202.3" x2="355.5" y2="202.3" stroke="#333" stroke-width="1"/><line x1="373.5" y1="202.3" x2="377.5" y2="202.3" stroke="#333" stroke-width="1"/><line x1="351.5" y1="328.3" x2="355.5" y2="328.3" stroke="#333" stroke-width="1"/><line x1="373.5" y1="328.3" x2="377.5" y2="328.3" stroke="#333" stroke-width="1"/><line x1="351.5" y1="454.3" x2="355.5" y2="454.3" stroke="#333" stroke-width="1"/><line x1="373.5" y1="454.3" x2="377.5" y2="454.3" stroke="#333" stroke-width="1"/><line x1="351.5" y1="580.3" x2="355.5" y2="580.3" stroke="#333" stroke-width="1"/><line x1="373.5" y1="580.3" x2="377.5" y2="580.3" stroke="#333" stroke-width="1"/><polygon points="327.6,47.7 336.8,31.5 346,47.7" fill="#000"/><polygon points="327.6,634.5 336.8,650.8 346,634.5" fill="#000"/><rect x="860" y="91.5" width="26" height="523.5" fill="url(#cbU)" stroke="#282828" stroke-width="1.25"/><line x1="860" y1="149" x2="864" y2="149" stroke="#333" stroke-width="1"/><line x1="882" y1="149" x2="886" y2="149" stroke="#333" stroke-width="1"/><line x1="860" y1="256" x2="864" y2="256" stroke="#333" stroke-width="1"/><line x1="882" y1="256" x2="886" y2="256" stroke="#333" stroke-width="1"/><line x1="860" y1="363" x2="864" y2="363" stroke="#333" stroke-width="1"/><line x1="882" y1="363" x2="886" y2="363" stroke="#333" stroke-width="1"/><line x1="860" y1="470" x2="864" y2="470" stroke="#333" stroke-width="1"/><line x1="882" y1="470" x2="886" y2="470" stroke="#333" stroke-width="1"/><line x1="860" y1="577.2" x2="864" y2="577.2" stroke="#333" stroke-width="1"/><line x1="882" y1="577.2" x2="886" y2="577.2" stroke="#333" stroke-width="1"/><polygon points="836.4,48.8 845.5,33 854.6,48.8" fill="#000"/><polygon points="836.9,636.2 845.7,651.4 854.6,636.2" fill="#000"/>
<text x="11" y="35.4" font-size="19.6" textLength="203.5" lengthAdjust="spacingAndGlyphs" stroke="#000" stroke-width="0.45">Temperature (degC)</text><text x="452.5" y="36.85" font-size="19.3" textLength="363" lengthAdjust="spacingAndGlyphs" stroke="#000" stroke-width="0.45">Displacement field, X component (m)</text><text x="354.2" y="48.4" font-size="20.2" textLength="70.5" lengthAdjust="spacingAndGlyphs" stroke="#000" stroke-width="0.45">594.17</text><text x="354.2" y="648.6" font-size="20.2" textLength="71" lengthAdjust="spacingAndGlyphs" stroke="#000" stroke-width="0.45">386.45</text><text x="389.6" y="209.3" font-size="20.2" textLength="39" lengthAdjust="spacingAndGlyphs" stroke="#000" stroke-width="0.45">550</text><text x="389.6" y="335.3" font-size="20.2" textLength="39" lengthAdjust="spacingAndGlyphs" stroke="#000" stroke-width="0.45">500</text><text x="389.6" y="461.3" font-size="20.2" textLength="39" lengthAdjust="spacingAndGlyphs" stroke="#000" stroke-width="0.45">450</text><text x="389.6" y="587.3" font-size="20.2" textLength="39" lengthAdjust="spacingAndGlyphs" stroke="#000" stroke-width="0.45">400</text><text x="897.8" y="156.2" font-size="20.2" textLength="58" lengthAdjust="spacingAndGlyphs" stroke="#000" stroke-width="0.45">0.002</text><text x="897.8" y="263" font-size="20.2" textLength="70.2" lengthAdjust="spacingAndGlyphs" stroke="#000" stroke-width="0.45">0.0015</text><text x="897.8" y="369.4" font-size="20.2" textLength="58" lengthAdjust="spacingAndGlyphs" stroke="#000" stroke-width="0.45">0.001</text><text x="897.8" y="476.6" font-size="20.2" textLength="70.2" lengthAdjust="spacingAndGlyphs" stroke="#000" stroke-width="0.45">0.0005</text><text x="897.8" y="584.2" font-size="20.2" textLength="13" lengthAdjust="spacingAndGlyphs" stroke="#000" stroke-width="0.45">0</text><text x="862" y="49.5" font-size="20.2" textLength="114.5" lengthAdjust="spacingAndGlyphs" stroke="#000" stroke-width="0.45">2.2693×10</text><text x="977" y="39.4" font-size="16" textLength="18" lengthAdjust="spacingAndGlyphs" stroke="#000" stroke-width="0.45">-3</text><text x="863" y="650.4" font-size="20.2" textLength="121" lengthAdjust="spacingAndGlyphs" stroke="#000" stroke-width="0.45">-1.8153×10</text><text x="985" y="639.8" font-size="16" textLength="18" lengthAdjust="spacingAndGlyphs" stroke="#000" stroke-width="0.45">-4</text>
<rect x="6.5" y="7.5" width="1011" height="677.6" fill="none" stroke="#2a2a2a" stroke-width="1.4"/>
<line x1="448.1" y1="7.5" x2="448.1" y2="685" stroke="#505050" stroke-width="1.4"/>
</svg></body></html>
